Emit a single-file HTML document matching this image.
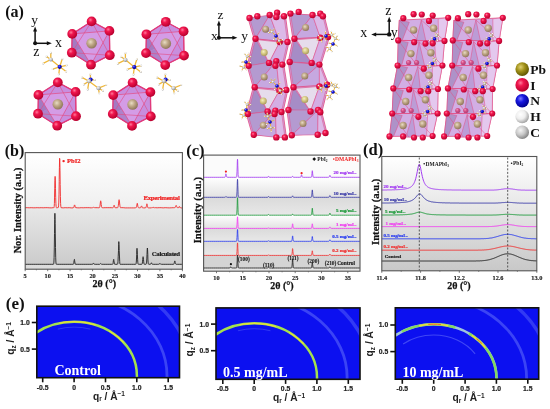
<!DOCTYPE html>
<html><head><meta charset="utf-8"><style>html,body{margin:0;padding:0;background:#fff;}svg{display:block;}</style></head>
<body><svg width="550" height="409" viewBox="0 0 550 409">
<rect width="550" height="409" fill="#fff"/>
<defs>
<linearGradient id="gb" x1="0" y1="0" x2="0" y2="1"><stop offset="0" stop-color="#ffffff"/><stop offset="0.45" stop-color="#f0f0f0"/><stop offset="0.5" stop-color="#e6e6e6"/><stop offset="1" stop-color="#c9c9c9"/></linearGradient>
<linearGradient id="gband" x1="0" y1="0" x2="0" y2="1"><stop offset="0" stop-color="#ffffff"/><stop offset="1" stop-color="#e2e2e2"/></linearGradient>
<linearGradient id="gband2" x1="0" y1="0" x2="0" y2="1"><stop offset="0" stop-color="#dadada"/><stop offset="1" stop-color="#e8e8e8"/></linearGradient>
<linearGradient id="gd" x1="0" y1="0" x2="0" y2="1"><stop offset="0" stop-color="#ffffff"/><stop offset="1" stop-color="#c8c8c8"/></linearGradient>

<radialGradient id="sR" cx="0.38" cy="0.35" r="0.65"><stop offset="0" stop-color="#ff7a9a"/><stop offset="0.35" stop-color="#f0164e"/><stop offset="1" stop-color="#b8002e"/></radialGradient>
<radialGradient id="sRb" cx="0.38" cy="0.35" r="0.65"><stop offset="0" stop-color="#f0a0c0"/><stop offset="0.4" stop-color="#d8508a"/><stop offset="1" stop-color="#b04078"/></radialGradient>
<radialGradient id="sT" cx="0.4" cy="0.38" r="0.65"><stop offset="0" stop-color="#e8dcc4"/><stop offset="0.45" stop-color="#c0a888"/><stop offset="1" stop-color="#8c7458"/></radialGradient>
<radialGradient id="sTy" cx="0.4" cy="0.38" r="0.65"><stop offset="0" stop-color="#f4f0c0"/><stop offset="0.45" stop-color="#d8cc88"/><stop offset="1" stop-color="#a89858"/></radialGradient>
<radialGradient id="sB" cx="0.38" cy="0.35" r="0.65"><stop offset="0" stop-color="#7a7aff"/><stop offset="0.4" stop-color="#1818e0"/><stop offset="1" stop-color="#000090"/></radialGradient>
<radialGradient id="sW" cx="0.38" cy="0.35" r="0.7"><stop offset="0" stop-color="#ffffff"/><stop offset="0.5" stop-color="#eeeeee"/><stop offset="1" stop-color="#9a9a9a"/></radialGradient>
<radialGradient id="sC" cx="0.38" cy="0.35" r="0.7"><stop offset="0" stop-color="#f4f4f4"/><stop offset="0.5" stop-color="#c8c8c8"/><stop offset="1" stop-color="#7c7c7c"/></radialGradient>
<radialGradient id="sP" cx="0.38" cy="0.35" r="0.7"><stop offset="0" stop-color="#e0d070"/><stop offset="0.45" stop-color="#a09018"/><stop offset="1" stop-color="#585000"/></radialGradient>

<filter id="soft" x="-10%" y="-10%" width="120%" height="120%"><feGaussianBlur stdDeviation="0.7"/></filter>
</defs>
<rect x="25.2" y="152.6" width="157.20000000000002" height="116.6" fill="url(#gb)"/>
<path d="M25.2,207.7 L27.2,207.7 L29.2,207.8 L31.2,207.7 L33.2,207.8 L35.2,207.8 L37.2,207.7 L39.2,207.8 L41.2,207.7 L43.2,207.8 L45.2,207.7 L47.2,207.7 L49.2,207.8 L51.2,207.9 L53.2,207.7 L53.6,207.7 L53.8,207.8 L54,207.6 L54.2,206.5 L54.4,203.6 L54.5,197.9 L54.7,188.8 L54.9,180.4 L55.1,176.4 L55.2,177.2 L55.3,180 L55.5,188.6 L55.7,197.6 L55.9,203.4 L56.1,206.4 L56.2,207.5 L56.4,207.7 L56.6,207.8 L57.2,207.7 L58,207.7 L58.2,207.6 L58.4,207.4 L58.6,205.9 L58.8,202.1 L59,194.2 L59.2,181.5 L59.2,179.3 L59.4,167.5 L59.6,158.3 L59.8,159.4 L60,170.2 L60.2,184.4 L60.4,196.4 L60.6,203.3 L60.8,206.3 L61,207.6 L61.2,207.6 L61.2,207.7 L63.2,207.9 L65.2,207.7 L67.2,207.8 L69.2,207.7 L71.2,207.9 L73,207.9 L73.2,207.8 L73.2,207.9 L73.4,207.7 L73.6,207.7 L73.8,207.4 L74,206.8 L74.2,205.9 L74.4,205.2 L74.6,204.9 L74.8,205.2 L75,206 L75.2,206.7 L75.2,206.9 L75.4,207.4 L75.6,207.8 L75.8,207.9 L76,207.7 L77.2,207.8 L79.2,207.9 L81.2,207.7 L83.2,207.8 L85.2,207.7 L87.2,207.7 L89.2,207.7 L91.2,207.9 L91.9,207.7 L92.1,207.7 L92.3,207.8 L92.5,207.9 L92.7,207.6 L92.9,207.5 L93.1,207.3 L93.2,207.3 L93.3,207.2 L93.5,207.1 L93.7,207 L93.9,207.3 L94.1,207.5 L94.3,207.8 L94.5,207.9 L94.7,207.7 L94.9,207.7 L95.2,207.7 L97.2,207.7 L98.9,207.8 L99.1,207.8 L99.2,207.7 L99.3,207.6 L99.5,207.6 L99.7,207.2 L99.9,206.4 L100.1,205 L100.3,203.1 L100.5,201.4 L100.7,200.8 L100.9,201.5 L101.1,203 L101.2,204.5 L101.3,205 L101.5,206.5 L101.7,207.3 L101.9,207.6 L102.1,207.7 L102.3,207.7 L103.2,207.8 L105.2,207.7 L107.2,207.7 L109.2,207.7 L111.2,207.7 L112.5,207.8 L112.7,207.7 L112.9,207.6 L113.1,207.6 L113.2,207.5 L113.3,207.4 L113.5,206.8 L113.7,206.4 L113.9,205.6 L114.1,205.2 L114.3,205.5 L114.5,206.2 L114.7,206.9 L114.9,207.3 L115.1,207.8 L115.2,207.9 L115.3,207.8 L115.5,207.8 L117.1,207.7 L117.2,207.7 L117.3,207.7 L117.5,207.7 L117.7,207.7 L117.9,207.3 L118.1,206.6 L118.3,205.7 L118.5,203.9 L118.7,201.9 L118.9,200.4 L119.1,199.7 L119.2,200.1 L119.3,200.6 L119.5,202.1 L119.7,204 L119.9,205.5 L120.1,206.7 L120.3,207.2 L120.5,207.7 L120.7,207.8 L120.9,207.9 L121.2,207.7 L123.2,207.7 L125.2,207.9 L127.2,207.9 L129.2,207.9 L131.2,207.9 L133.2,207.9 L135.2,207.9 L135.7,207.7 L135.9,207.8 L136.1,207.7 L136.3,207.5 L136.5,207.1 L136.7,206.3 L136.9,205 L137.1,203.9 L137.2,203.5 L137.3,203.3 L137.5,204 L137.7,205.2 L137.9,206.5 L138.1,207.1 L138.3,207.5 L138.5,207.7 L138.7,207.7 L138.9,207.7 L139.2,207.8 L139.9,207.9 L140.1,207.9 L140.3,207.8 L140.5,207.8 L140.7,207.6 L140.9,207 L141.1,206.6 L141.2,206.5 L141.3,206.1 L141.5,205.9 L141.7,206 L141.9,206.5 L142.1,207.2 L142.3,207.5 L142.5,207.8 L142.7,207.9 L142.9,207.8 L143.1,207.8 L143.2,207.9 L145.2,207.9 L145.3,207.7 L145.5,207.7 L145.7,207.7 L145.9,207.7 L146.1,207.3 L146.3,206.4 L146.5,205.5 L146.7,204.4 L146.9,203.8 L147.1,204.2 L147.2,204.7 L147.3,205.3 L147.5,206.4 L147.7,207.4 L147.9,207.7 L148.1,207.8 L148.3,207.9 L148.5,207.8 L149.2,207.9 L151.2,207.9 L151.6,207.7 L151.8,207.7 L152,207.7 L152.2,207.7 L152.4,207.7 L152.6,207.5 L152.8,207.3 L153,207 L153.2,207.1 L153.2,207 L153.4,207.1 L153.6,207.3 L153.8,207.7 L154,207.7 L154.2,207.9 L154.4,207.8 L154.6,207.8 L154.8,207.8 L155.2,207.7 L157.2,207.8 L159.2,207.7 L161.2,207.7 L163.2,207.9 L165.2,207.7 L167.2,207.8 L169.2,207.9 L171.2,207.8 L173.2,207.7 L174.1,207.8 L174.3,207.8 L174.5,207.9 L174.7,207.6 L174.9,207.7 L175.1,207.4 L175.2,207.3 L175.3,207.2 L175.5,206.6 L175.7,206 L175.9,205.6 L176.1,205.4 L176.3,205.5 L176.5,206 L176.7,206.6 L176.9,207.1 L177.1,207.5 L177.2,207.6 L177.3,207.7 L177.5,207.7 L177.7,207.9 L177.7,207.8 L177.9,207.9 L177.9,207.9 L178.1,207.7 L178.1,207.8 L178.3,207.9 L178.5,207.7 L178.7,207.3 L178.9,207 L179.1,206.7 L179.2,206.5 L179.3,206.5 L179.5,206.6 L179.7,207.1 L179.9,207.5 L180.1,207.8 L180.3,207.6 L180.5,207.9 L180.7,207.8 L180.9,207.7 L181.2,207.9 L182.4,207.9" fill="none" stroke="#f02828" stroke-width="0.9"/>
<rect x="25.2" y="264.6" width="157.2" height="4.6" fill="#dcdcdc"/>
<path d="M25.2,264.3 L27.2,264.3 L29.2,264.3 L31.2,264.3 L33.2,264.3 L35.2,264.3 L37.2,264.3 L39.2,264.3 L41.2,264.3 L43.2,264.3 L45.2,264.3 L47.2,264.3 L49.2,264.3 L51.2,264.3 L53.2,264.3 L53.3,264.3 L53.5,264.2 L53.7,263.7 L53.9,262.1 L54.1,257.5 L54.3,247.9 L54.5,233.6 L54.7,219.5 L54.9,213.3 L55.1,219.1 L55.2,223.5 L55.3,233.1 L55.5,247.5 L55.7,257.3 L55.9,262 L56.1,263.7 L56.3,264.2 L57.2,264.3 L59.2,264.3 L61.2,264.3 L63.2,264.3 L65.2,264.3 L67.2,264.3 L69.2,264.3 L71.2,264.3 L72.9,264.3 L73.1,264.3 L73.2,264.3 L73.2,264.3 L73.4,264.2 L73.6,263.9 L73.8,263.3 L73.9,262.1 L74.1,260.6 L74.3,259.5 L74.5,259.4 L74.6,260.4 L74.8,261.9 L75,263.1 L75.2,263.9 L75.2,264 L75.3,264.2 L75.5,264.3 L75.7,264.3 L75.9,264.3 L77.2,264.3 L79.2,264.3 L81.2,264.3 L83.2,264.3 L85.2,264.3 L87.2,264.3 L89.2,264.3 L91.2,264.3 L92,264.3 L92.1,264.3 L92.3,264.3 L92.5,264.3 L92.7,264.2 L92.8,264.1 L93,263.8 L93.2,263.4 L93.2,263.4 L93.4,263.1 L93.5,263.1 L93.7,263.4 L93.9,263.7 L94.1,264 L94.2,264.2 L94.4,264.3 L94.6,264.3 L94.8,264.3 L94.9,264.3 L95.2,264.3 L97.2,264.3 L99.2,264.3 L99.2,264.3 L99.3,264.3 L99.5,264.3 L99.7,264.3 L99.9,264.2 L100,264.1 L100.2,263.9 L100.4,263.7 L100.6,263.5 L100.7,263.5 L100.9,263.7 L101.1,263.9 L101.2,264.1 L101.3,264.1 L101.4,264.2 L101.6,264.3 L101.8,264.3 L102,264.3 L102.1,264.3 L103.2,264.3 L105.2,264.3 L107.2,264.3 L109.2,264.3 L111.2,264.3 L112.2,264.3 L112.4,264.3 L112.5,264.3 L112.7,264.2 L112.9,263.9 L113.1,263.3 L113.2,262.4 L113.2,262.1 L113.4,260.6 L113.6,259.5 L113.8,259.4 L113.9,260.4 L114.1,261.9 L114.3,263.1 L114.5,263.9 L114.6,264.2 L114.8,264.3 L115,264.3 L115.2,264.3 L115.2,264.3 L117.2,264.3 L117.2,264.3 L117.5,264.2 L117.7,264 L117.8,263.3 L118,261.2 L118.2,256.8 L118.5,250.4 L118.7,244.2 L118.8,241.6 L119,244.4 L119.2,248.9 L119.2,250.7 L119.5,257 L119.7,261.3 L119.8,263.3 L120,264.1 L120.2,264.3 L121.2,264.3 L123.2,264.3 L125.2,264.3 L127.2,264.3 L129.2,264.3 L131.2,264.3 L133.2,264.3 L135.2,264.3 L135.5,264.3 L135.7,264.3 L135.9,264.1 L136.1,263.6 L136.3,262.1 L136.5,259 L136.7,254.5 L136.8,250.1 L137,248.3 L137.2,249.7 L137.2,250.2 L137.4,254.7 L137.6,259.2 L137.8,262.2 L138,263.6 L138.2,264.1 L138.4,264.3 L138.6,264.3 L139.2,264.3 L141.2,264.3 L141.6,264.3 L141.8,264.3 L142,264.2 L142.2,264 L142.3,263.3 L142.5,261.8 L142.7,259.7 L142.9,257.6 L143.1,256.7 L143.2,257 L143.3,257.6 L143.5,259.7 L143.7,261.8 L143.9,263.3 L144.1,264 L144.2,264.2 L144.4,264.3 L144.6,264.3 L145.2,264.3 L145.8,264.3 L146,264.3 L146.2,264.1 L146.4,263.6 L146.6,262.1 L146.8,258.9 L147,254.3 L147.2,249.9 L147.2,249.5 L147.4,248 L147.6,250 L147.8,254.5 L147.9,259.1 L148.1,262.1 L148.3,263.6 L148.5,264.1 L148.7,264.3 L148.9,264.3 L149.2,264.3 L149.9,264.3 L150.1,264.3 L150.3,264.3 L150.4,264.3 L150.6,264.2 L150.8,264 L151,263.6 L151.1,263.2 L151.2,263 L151.3,262.9 L151.5,262.8 L151.7,263.1 L151.8,263.6 L152,264 L152.2,264.2 L152.4,264.3 L152.5,264.3 L152.7,264.3 L152.9,264.3 L153.2,264.3 L155.2,264.3 L157.2,264.3 L158.4,264.3 L158.6,264.3 L158.8,264.3 L159,264.3 L159.1,264.2 L159.2,264.2 L159.3,264.1 L159.5,264 L159.7,263.7 L159.8,263.5 L160,263.5 L160.2,263.7 L160.4,263.9 L160.5,264.1 L160.7,264.2 L160.9,264.3 L161.1,264.3 L161.2,264.3 L161.2,264.3 L161.4,264.3 L163.2,264.3 L165.2,264.3 L167.2,264.3 L169.2,264.3 L171.2,264.3 L173.2,264.3 L173.2,264.3 L173.4,264.3 L173.6,264.3 L173.8,264.2 L174,263.9 L174.2,263.2 L174.4,262.3 L174.6,261.3 L174.8,260.9 L175,261.3 L175.2,262.2 L175.2,262.4 L175.4,263.2 L175.6,263.8 L175.8,264.1 L176,264.3 L176.2,264.3 L176.4,264.3 L177.2,264.3 L179.2,264.3 L181.2,264.3 L182.4,264.3" fill="none" stroke="#222" stroke-width="0.9"/>
<rect x="25.2" y="152.6" width="157.20000000000002" height="116.6" fill="none" stroke="#555" stroke-width="1.1"/>
<line x1="25.2" y1="269.2" x2="25.2" y2="271.2" stroke="#555" stroke-width="0.8"/>
<text x="25.2" y="278.4" font-family="Liberation Serif, serif" font-weight="bold" font-size="6.3" text-anchor="middle" fill="#222" stroke="#222" stroke-width="0.15">5</text>
<line x1="36.4" y1="269.2" x2="36.4" y2="270.4" stroke="#555" stroke-width="0.6"/>
<line x1="47.7" y1="269.2" x2="47.7" y2="271.2" stroke="#555" stroke-width="0.8"/>
<text x="47.7" y="278.4" font-family="Liberation Serif, serif" font-weight="bold" font-size="6.3" text-anchor="middle" fill="#222" stroke="#222" stroke-width="0.15">10</text>
<line x1="58.9" y1="269.2" x2="58.9" y2="270.4" stroke="#555" stroke-width="0.6"/>
<line x1="70.1" y1="269.2" x2="70.1" y2="271.2" stroke="#555" stroke-width="0.8"/>
<text x="70.1" y="278.4" font-family="Liberation Serif, serif" font-weight="bold" font-size="6.3" text-anchor="middle" fill="#222" stroke="#222" stroke-width="0.15">15</text>
<line x1="81.3" y1="269.2" x2="81.3" y2="270.4" stroke="#555" stroke-width="0.6"/>
<line x1="92.6" y1="269.2" x2="92.6" y2="271.2" stroke="#555" stroke-width="0.8"/>
<text x="92.6" y="278.4" font-family="Liberation Serif, serif" font-weight="bold" font-size="6.3" text-anchor="middle" fill="#222" stroke="#222" stroke-width="0.15">20</text>
<line x1="103.8" y1="269.2" x2="103.8" y2="270.4" stroke="#555" stroke-width="0.6"/>
<line x1="115" y1="269.2" x2="115" y2="271.2" stroke="#555" stroke-width="0.8"/>
<text x="115" y="278.4" font-family="Liberation Serif, serif" font-weight="bold" font-size="6.3" text-anchor="middle" fill="#222" stroke="#222" stroke-width="0.15">25</text>
<line x1="126.3" y1="269.2" x2="126.3" y2="270.4" stroke="#555" stroke-width="0.6"/>
<line x1="137.5" y1="269.2" x2="137.5" y2="271.2" stroke="#555" stroke-width="0.8"/>
<text x="137.5" y="278.4" font-family="Liberation Serif, serif" font-weight="bold" font-size="6.3" text-anchor="middle" fill="#222" stroke="#222" stroke-width="0.15">30</text>
<line x1="148.7" y1="269.2" x2="148.7" y2="270.4" stroke="#555" stroke-width="0.6"/>
<line x1="159.9" y1="269.2" x2="159.9" y2="271.2" stroke="#555" stroke-width="0.8"/>
<text x="159.9" y="278.4" font-family="Liberation Serif, serif" font-weight="bold" font-size="6.3" text-anchor="middle" fill="#222" stroke="#222" stroke-width="0.15">35</text>
<line x1="171.2" y1="269.2" x2="171.2" y2="270.4" stroke="#555" stroke-width="0.6"/>
<line x1="182.4" y1="269.2" x2="182.4" y2="271.2" stroke="#555" stroke-width="0.8"/>
<text x="182.4" y="278.4" font-family="Liberation Serif, serif" font-weight="bold" font-size="6.3" text-anchor="middle" fill="#222" stroke="#222" stroke-width="0.15">40</text>
<text x="104.3" y="287.4" font-family="Liberation Serif, serif" font-weight="bold" font-size="10" text-anchor="middle" fill="#111" stroke="#111" stroke-width="0.25">2θ (°)</text>
<text transform="translate(21.3,210.5) rotate(-90)" font-family="Liberation Serif, serif" font-weight="bold" font-size="10.3" text-anchor="middle" fill="#111" stroke="#111" stroke-width="0.25">Nor. Intensity (a.u.)</text>
<text x="4.7" y="156" font-family="Liberation Serif, serif" font-weight="bold" font-size="16" fill="#111">(b)</text>
<circle cx="63.6" cy="161.1" r="1.2" fill="#f02020"/>
<text x="67" y="162.8" font-family="Liberation Serif, serif" font-weight="bold" font-size="6.6" fill="#f02020" stroke="#f02020" stroke-width="0.2">PbI2</text>
<text x="143.4" y="199.6" font-family="Liberation Serif, serif" font-weight="bold" font-size="6.8" fill="#f02020" stroke="#f02020" stroke-width="0.2" textLength="36.4">Experimental</text>
<text x="151.8" y="255.6" font-family="Liberation Serif, serif" font-weight="bold" font-size="6.8" fill="#222" stroke="#222" stroke-width="0.2" textLength="28.2">Calculated</text>
<rect x="203.6" y="155.1" width="156.4" height="116.1" fill="#e4e4e4"/>
<rect x="203.6" y="155.1" width="156.4" height="22.2" fill="#fbfbfb"/>
<rect x="203.6" y="177.3" width="156.4" height="20" fill="url(#gband)"/>
<rect x="203.6" y="197.3" width="156.4" height="17.9" fill="url(#gband2)"/>
<rect x="203.6" y="215.2" width="156.4" height="13.2" fill="url(#gband)"/>
<rect x="203.6" y="228.4" width="156.4" height="12.9" fill="url(#gband2)"/>
<rect x="203.6" y="241.3" width="156.4" height="14.1" fill="url(#gband2)"/>
<rect x="203.6" y="255.4" width="156.4" height="12.6" fill="#d4d4d4"/>
<rect x="203.6" y="268" width="156.4" height="3.2" fill="#e4e4e4"/>
<path d="M203.6,177.3 L205.6,177.3 L207.6,177.3 L209.6,177.3 L211.6,177.3 L213.6,177.3 L215.6,177.3 L217.6,177.3 L219.6,177.3 L221.6,177.3 L223.6,177.3 L224.4,177.3 L224.6,177.3 L224.8,177.3 L225,177.2 L225.2,177 L225.3,176.6 L225.5,175.8 L225.6,175.2 L225.7,174.7 L225.8,173.9 L226,173.9 L226.2,174.6 L226.4,175.7 L226.6,176.5 L226.7,177 L226.9,177.2 L227.1,177.3 L227.2,177.3 L227.4,177.3 L227.6,177.3 L229.6,177.3 L231.6,177.3 L233.6,177.3 L235.6,177.3 L236,177.3 L236.2,177.3 L236.3,177.3 L236.5,177.1 L236.7,176.6 L236.8,175.1 L237,171.8 L237.2,167 L237.3,161.8 L237.5,159.3 L237.6,160.1 L237.7,161.1 L237.8,165.7 L238,171.1 L238.1,174.6 L238.3,176.4 L238.5,177.1 L238.6,177.3 L238.8,177.3 L239,177.3 L239.6,177.3 L241.6,177.3 L243.6,177.3 L245.6,177.3 L247.6,177.3 L249.6,177.3 L251.6,177.3 L253.6,177.3 L255.6,177.3 L257.6,177.3 L259.6,177.3 L261.6,177.3 L263.6,177.3 L265.6,177.3 L267,177.3 L267.1,177.3 L267.3,177.3 L267.4,177.3 L267.6,177.3 L267.6,177.3 L267.7,177.3 L267.9,177.2 L268,177 L268.2,176.7 L268.3,176.4 L268.5,176.3 L268.6,176.4 L268.8,176.7 L268.9,177 L269.1,177.2 L269.2,177.3 L269.4,177.3 L269.5,177.3 L269.6,177.3 L269.7,177.3 L269.8,177.3 L270,177.3 L271.6,177.3 L273.6,177.3 L275.6,177.3 L277.6,177.3 L279.6,177.3 L281.6,177.3 L283.6,177.3 L285.6,177.3 L287.6,177.3 L289.6,177.3 L291.1,177.3 L291.3,177.3 L291.5,177.3 L291.6,177.3 L291.6,177.3 L291.8,177.3 L291.9,177.2 L292.1,177 L292.3,176.7 L292.4,176.4 L292.6,176.3 L292.8,176.4 L292.9,176.7 L293.1,177 L293.3,177.2 L293.4,177.3 L293.6,177.3 L293.8,177.3 L293.9,177.3 L294.1,177.3 L295.6,177.3 L297.6,177.3 L299.6,177.3 L300.1,177.3 L300.2,177.3 L300.4,177.3 L300.6,177.2 L300.8,177.1 L300.9,176.8 L301.1,176.2 L301.3,175.4 L301.4,174.9 L301.6,174.8 L301.6,174.9 L301.8,175.4 L302,176.1 L302.1,176.7 L302.3,177.1 L302.5,177.2 L302.7,177.3 L302.9,177.3 L303,177.3 L303.6,177.3 L305.6,177.3 L307.6,177.3 L309.6,177.3 L310.8,177.3 L311,177.3 L311.1,177.3 L311.3,177.2 L311.5,177 L311.6,176.7 L311.6,176.5 L311.8,175.3 L312,173.4 L312.1,171.6 L312.3,170.7 L312.5,171.3 L312.6,173.1 L312.8,175 L313,176.3 L313.1,177 L313.3,177.2 L313.4,177.3 L313.6,177.3 L313.6,177.3 L313.8,177.3 L315.6,177.3 L317.6,177.3 L319.6,177.3 L321.6,177.3 L323.6,177.3 L325.6,177.3 L327.6,177.3 L328.3,177.3 L328.5,177.3 L328.7,177.3 L328.9,177.2 L329.1,177 L329.3,176.7 L329.5,176.1 L329.6,175.8 L329.7,175.5 L329.9,175.3 L330.1,175.5 L330.3,176.1 L330.5,176.7 L330.7,177 L330.9,177.2 L331.1,177.3 L331.3,177.3 L331.5,177.3 L331.6,177.3 L333.6,177.3 L335.6,177.3 L337.6,177.3 L339.6,177.3 L341.6,177.3 L343.6,177.3 L345.6,177.3 L347.6,177.3 L349.6,177.3 L351.6,177.3 L353.6,177.3 L355.6,177.3 L357.6,177.3 L359.6,177.3 L360,177.3" fill="none" stroke="#a33cf2" stroke-width="0.85"/>
<path d="M203.6,197.3 L205.6,197.3 L207.6,197.3 L209.6,197.3 L211.6,197.3 L213.6,197.3 L215.6,197.3 L217.6,197.3 L219.6,197.3 L221.6,197.3 L223.6,197.3 L224.3,197.3 L224.6,197.3 L224.8,197.3 L224.9,197.3 L225.2,197.2 L225.3,197 L225.6,196.8 L225.6,196.8 L225.8,196.6 L225.9,196.5 L226.2,196.6 L226.3,196.8 L226.6,197 L226.8,197.2 L226.9,197.3 L227.2,197.3 L227.3,197.3 L227.6,197.3 L227.6,197.3 L229.6,197.3 L231.6,197.3 L233.6,197.3 L235.6,197.3 L236,197.3 L236.2,197.3 L236.3,197.3 L236.5,197.1 L236.7,196.6 L236.8,195.1 L237,191.8 L237.2,187 L237.3,181.8 L237.5,179.3 L237.6,180.1 L237.7,181.1 L237.8,185.7 L238,191.1 L238.1,194.6 L238.3,196.4 L238.5,197.1 L238.6,197.3 L238.8,197.3 L239,197.3 L239.6,197.3 L241.6,197.3 L243.6,197.3 L245.6,197.3 L247.6,197.3 L249.6,197.3 L251.6,197.3 L253.6,197.3 L255.6,197.3 L257.6,197.3 L259.6,197.3 L261.6,197.3 L263.6,197.3 L265.6,197.3 L267,197.3 L267.1,197.3 L267.3,197.3 L267.4,197.3 L267.6,197.3 L267.6,197.3 L267.7,197.3 L267.9,197.2 L268,197 L268.2,196.8 L268.3,196.6 L268.5,196.5 L268.6,196.6 L268.8,196.8 L268.9,197 L269.1,197.2 L269.2,197.3 L269.4,197.3 L269.5,197.3 L269.6,197.3 L269.7,197.3 L269.8,197.3 L270,197.3 L271.6,197.3 L273.6,197.3 L275.6,197.3 L277.6,197.3 L279.6,197.3 L281.6,197.3 L283.6,197.3 L285.6,197.3 L287.6,197.3 L289.6,197.3 L291.1,197.3 L291.3,197.3 L291.5,197.3 L291.6,197.3 L291.6,197.3 L291.8,197.2 L291.9,197.1 L292.1,196.8 L292.3,196.4 L292.4,196 L292.6,195.8 L292.8,196 L292.9,196.3 L293.1,196.8 L293.3,197.1 L293.4,197.2 L293.6,197.3 L293.8,197.3 L293.9,197.3 L294.1,197.3 L295.6,197.3 L297.6,197.3 L299.6,197.3 L301.6,197.3 L303.6,197.3 L305.6,197.3 L307.6,197.3 L309.6,197.3 L310.8,197.3 L311,197.3 L311.1,197.3 L311.3,197.2 L311.5,197 L311.6,196.6 L311.6,196.4 L311.8,195.1 L312,193 L312.1,190.9 L312.3,189.9 L312.5,190.6 L312.6,192.6 L312.8,194.7 L313,196.2 L313.1,196.9 L313.3,197.2 L313.4,197.3 L313.6,197.3 L313.6,197.3 L313.8,197.3 L315.6,197.3 L317.6,197.3 L319.6,197.3 L321.6,197.3 L323.6,197.3 L325.6,197.3 L327.6,197.3 L328.3,197.3 L328.5,197.3 L328.7,197.3 L328.9,197.2 L329.1,197.1 L329.3,196.7 L329.5,196.2 L329.6,195.9 L329.7,195.7 L329.9,195.5 L330.1,195.7 L330.3,196.2 L330.5,196.7 L330.7,197.1 L330.9,197.2 L331.1,197.3 L331.3,197.3 L331.5,197.3 L331.6,197.3 L333.6,197.3 L335.6,197.3 L337.6,197.3 L339.6,197.3 L341.6,197.3 L343.6,197.3 L345.6,197.3 L347.6,197.3 L349.6,197.3 L351.6,197.3 L353.6,197.3 L355.6,197.3 L357.6,197.3 L359.6,197.3 L360,197.3" fill="none" stroke="#3c3ca8" stroke-width="0.85"/>
<path d="M203.6,215.2 L205.6,215.2 L207.6,215.2 L209.6,215.2 L211.6,215.2 L213.6,215.2 L215.6,215.2 L217.6,215.2 L219.6,215.2 L221.6,215.2 L223.6,215.2 L225.6,215.2 L227.6,215.2 L229.6,215.2 L231.6,215.2 L233.6,215.2 L235.6,215.2 L236,215.2 L236.2,215.2 L236.3,215.2 L236.5,215 L236.7,214.5 L236.8,213.1 L237,209.9 L237.2,205.2 L237.3,200.1 L237.5,197.7 L237.6,198.5 L237.7,199.4 L237.8,203.9 L238,209.1 L238.1,212.5 L238.3,214.3 L238.5,215 L238.6,215.2 L238.8,215.2 L239,215.2 L239.6,215.2 L241.6,215.2 L243.6,215.2 L245.6,215.2 L247.6,215.2 L249.6,215.2 L251.6,215.2 L253.6,215.2 L255.6,215.2 L257.6,215.2 L259.6,215.2 L261.6,215.2 L263.6,215.2 L265.6,215.2 L267,215.2 L267.1,215.2 L267.3,215.2 L267.4,215.2 L267.6,215.2 L267.6,215.2 L267.7,215.2 L267.9,215.1 L268,214.9 L268.2,214.7 L268.3,214.5 L268.5,214.4 L268.6,214.5 L268.8,214.7 L268.9,214.9 L269.1,215.1 L269.2,215.2 L269.4,215.2 L269.5,215.2 L269.6,215.2 L269.7,215.2 L269.8,215.2 L270,215.2 L271.6,215.2 L273.6,215.2 L275.6,215.2 L277.6,215.2 L279.6,215.2 L281.6,215.2 L283.6,215.2 L285.6,215.2 L287.6,215.2 L289.6,215.2 L291.1,215.2 L291.3,215.2 L291.5,215.2 L291.6,215.2 L291.6,215.2 L291.8,215.2 L291.9,215.1 L292.1,214.8 L292.3,214.5 L292.4,214.2 L292.6,214 L292.8,214.1 L292.9,214.4 L293.1,214.8 L293.3,215 L293.4,215.1 L293.6,215.2 L293.8,215.2 L293.9,215.2 L294.1,215.2 L295.6,215.2 L297.6,215.2 L299.6,215.2 L301.6,215.2 L303.6,215.2 L305.6,215.2 L307.6,215.2 L309.6,215.2 L310.8,215.2 L311,215.2 L311.1,215.2 L311.3,215.1 L311.5,214.9 L311.6,214.5 L311.6,214.3 L311.8,213.1 L312,211.1 L312.1,209.2 L312.3,208.2 L312.5,208.9 L312.6,210.8 L312.8,212.7 L313,214.2 L313.1,214.8 L313.3,215.1 L313.4,215.2 L313.6,215.2 L313.6,215.2 L313.8,215.2 L315.6,215.2 L317.6,215.2 L319.6,215.2 L321.6,215.2 L323.6,215.2 L325.6,215.2 L327.6,215.2 L328.3,215.2 L328.5,215.2 L328.7,215.2 L328.9,215.1 L329.1,214.9 L329.3,214.5 L329.5,213.9 L329.6,213.5 L329.7,213.3 L329.9,213 L330.1,213.3 L330.3,213.9 L330.5,214.5 L330.7,214.9 L330.9,215.1 L331.1,215.2 L331.3,215.2 L331.5,215.2 L331.6,215.2 L333.6,215.2 L335.6,215.2 L337.6,215.2 L339.6,215.2 L341.6,215.2 L343.6,215.2 L345.6,215.2 L347.6,215.2 L349.6,215.2 L351.6,215.2 L353.6,215.2 L355.6,215.2 L357.6,215.2 L359.6,215.2 L360,215.2" fill="none" stroke="#1f9b3c" stroke-width="0.85"/>
<path d="M203.6,228.4 L205.6,228.4 L207.6,228.4 L209.6,228.4 L211.6,228.4 L213.6,228.4 L215.6,228.4 L217.6,228.4 L219.6,228.4 L221.6,228.4 L223.6,228.4 L225.6,228.4 L227.6,228.4 L229.6,228.4 L231.6,228.4 L233.6,228.4 L235.6,228.4 L236,228.4 L236.2,228.4 L236.3,228.4 L236.5,228.3 L236.7,227.9 L236.8,227 L237,224.9 L237.2,221.8 L237.3,218.4 L237.5,216.8 L237.6,217.3 L237.7,217.9 L237.8,220.9 L238,224.4 L238.1,226.6 L238.3,227.8 L238.5,228.2 L238.6,228.4 L238.8,228.4 L239,228.4 L239.6,228.4 L241.6,228.4 L243.6,228.4 L245.6,228.4 L247.6,228.4 L249.6,228.4 L251.6,228.4 L253.6,228.4 L255.6,228.4 L257.6,228.4 L259.6,228.4 L261.6,228.4 L263.6,228.4 L265.6,228.4 L267,228.4 L267.1,228.4 L267.3,228.4 L267.4,228.4 L267.6,228.4 L267.6,228.4 L267.7,228.4 L267.9,228.3 L268,228.2 L268.2,228.1 L268.3,228 L268.5,227.9 L268.6,228 L268.8,228.1 L268.9,228.2 L269.1,228.3 L269.2,228.4 L269.4,228.4 L269.5,228.4 L269.6,228.4 L269.7,228.4 L269.8,228.4 L270,228.4 L271.6,228.4 L273.6,228.4 L275.6,228.4 L277.6,228.4 L279.6,228.4 L281.6,228.4 L283.6,228.4 L285.6,228.4 L287.6,228.4 L289.6,228.4 L291.1,228.4 L291.3,228.4 L291.5,228.4 L291.6,228.4 L291.6,228.4 L291.8,228.2 L291.9,227.8 L292.1,227 L292.3,225.7 L292.4,224.4 L292.6,223.8 L292.8,224.3 L292.9,225.5 L293.1,226.8 L293.3,227.7 L293.4,228.2 L293.6,228.3 L293.8,228.4 L293.9,228.4 L294.1,228.4 L295.6,228.4 L297.6,228.4 L299.6,228.4 L301.6,228.4 L303.6,228.4 L305.6,228.4 L307.6,228.4 L309.6,228.4 L310.8,228.4 L311,228.4 L311.1,228.4 L311.3,228.4 L311.5,228.2 L311.6,228 L311.6,227.8 L311.8,227 L312,225.7 L312.1,224.5 L312.3,223.8 L312.5,224.2 L312.6,225.5 L312.8,226.8 L313,227.7 L313.1,228.2 L313.3,228.3 L313.4,228.4 L313.6,228.4 L313.6,228.4 L313.8,228.4 L315.6,228.4 L317.6,228.4 L319.6,228.4 L321.6,228.4 L323.6,228.4 L325.6,228.4 L327.6,228.4 L328.3,228.4 L328.5,228.4 L328.7,228.4 L328.9,228.3 L329.1,228.2 L329.3,227.9 L329.5,227.5 L329.6,227.3 L329.7,227.1 L329.9,226.9 L330.1,227.1 L330.3,227.5 L330.5,227.9 L330.7,228.2 L330.9,228.3 L331.1,228.4 L331.3,228.4 L331.5,228.4 L331.6,228.4 L333.6,228.4 L335.6,228.4 L337.6,228.4 L339.6,228.4 L341.6,228.4 L343.6,228.4 L345.6,228.4 L347.6,228.4 L349.6,228.4 L351.6,228.4 L353.6,228.4 L355.6,228.4 L357.6,228.4 L359.6,228.4 L360,228.4" fill="none" stroke="#f03cf0" stroke-width="0.85"/>
<path d="M203.6,241.3 L205.6,241.3 L207.6,241.3 L209.6,241.3 L211.6,241.3 L213.6,241.3 L215.6,241.3 L217.6,241.3 L219.6,241.3 L221.6,241.3 L223.6,241.3 L225.6,241.3 L227.6,241.3 L229.6,241.3 L231.6,241.3 L233.6,241.3 L235.6,241.3 L236,241.3 L236.2,241.3 L236.3,241.3 L236.5,241.2 L236.7,240.8 L236.8,239.9 L237,237.7 L237.2,234.6 L237.3,231.1 L237.5,229.5 L237.6,230 L237.7,230.7 L237.8,233.7 L238,237.2 L238.1,239.5 L238.3,240.7 L238.5,241.1 L238.6,241.3 L238.8,241.3 L239,241.3 L239.6,241.3 L241.6,241.3 L243.6,241.3 L245.6,241.3 L247.6,241.3 L249.6,241.3 L251.6,241.3 L253.6,241.3 L255.6,241.3 L257.6,241.3 L259.6,241.3 L261.6,241.3 L263.6,241.3 L265.6,241.3 L267,241.3 L267.1,241.3 L267.3,241.3 L267.4,241.3 L267.6,241.3 L267.6,241.3 L267.7,241.3 L267.9,241.2 L268,241.1 L268.2,240.9 L268.3,240.8 L268.5,240.7 L268.6,240.8 L268.8,240.9 L268.9,241.1 L269.1,241.2 L269.2,241.3 L269.4,241.3 L269.5,241.3 L269.6,241.3 L269.7,241.3 L269.8,241.3 L270,241.3 L271.6,241.3 L273.6,241.3 L275.6,241.3 L277.6,241.3 L279.6,241.3 L281.6,241.3 L283.6,241.3 L285.6,241.3 L287.6,241.3 L289.6,241.3 L291.1,241.3 L291.3,241.3 L291.5,241.3 L291.6,241.3 L291.6,241.2 L291.8,241.1 L291.9,240.6 L292.1,239.6 L292.3,238.2 L292.4,236.6 L292.6,235.9 L292.8,236.5 L292.9,237.9 L293.1,239.5 L293.3,240.5 L293.4,241 L293.6,241.2 L293.8,241.3 L293.9,241.3 L294.1,241.3 L295.6,241.3 L297.6,241.3 L299.6,241.3 L301.6,241.3 L303.6,241.3 L305.6,241.3 L307.6,241.3 L309.6,241.3 L310.8,241.3 L311,241.3 L311.1,241.3 L311.3,241.3 L311.5,241.1 L311.6,240.8 L311.6,240.7 L311.8,239.9 L312,238.5 L312.1,237.2 L312.3,236.5 L312.5,237 L312.6,238.3 L312.8,239.6 L313,240.6 L313.1,241.1 L313.3,241.2 L313.4,241.3 L313.6,241.3 L313.6,241.3 L313.8,241.3 L315.6,241.3 L317.6,241.3 L319.6,241.3 L321.6,241.3 L323.6,241.3 L325.6,241.3 L327.6,241.3 L328.3,241.3 L328.5,241.3 L328.7,241.3 L328.9,241.2 L329.1,241.1 L329.3,240.8 L329.5,240.4 L329.6,240.2 L329.7,240 L329.9,239.8 L330.1,240 L330.3,240.4 L330.5,240.8 L330.7,241.1 L330.9,241.2 L331.1,241.3 L331.3,241.3 L331.5,241.3 L331.6,241.3 L333.6,241.3 L335.6,241.3 L337.6,241.3 L339.6,241.3 L341.6,241.3 L343.6,241.3 L345.6,241.3 L347.6,241.3 L349.6,241.3 L351.6,241.3 L353.6,241.3 L355.6,241.3 L357.6,241.3 L359.6,241.3 L360,241.3" fill="none" stroke="#2a3cf0" stroke-width="0.85"/>
<path d="M203.6,255.4 L205.6,255.4 L207.6,255.4 L209.6,255.4 L211.6,255.4 L213.6,255.4 L215.6,255.4 L217.6,255.4 L219.6,255.4 L221.6,255.4 L223.6,255.4 L225.6,255.4 L227.6,255.4 L229.6,255.4 L231.6,255.4 L233.6,255.4 L235.6,255.4 L236,255.4 L236.2,255.4 L236.3,255.4 L236.5,255.3 L236.7,254.9 L236.8,253.9 L237,251.6 L237.2,248.3 L237.3,244.6 L237.5,242.9 L237.6,243.5 L237.7,244.1 L237.8,247.4 L238,251.1 L238.1,253.5 L238.3,254.8 L238.5,255.2 L238.6,255.4 L238.8,255.4 L239,255.4 L239.6,255.4 L241.6,255.4 L243.6,255.4 L245.6,255.4 L247.6,255.4 L249.6,255.4 L251.6,255.4 L253.6,255.4 L255.6,255.4 L257.6,255.4 L259.6,255.4 L261.6,255.4 L263.6,255.4 L265.6,255.4 L267,255.4 L267.1,255.4 L267.3,255.4 L267.4,255.4 L267.6,255.4 L267.6,255.4 L267.7,255.4 L267.9,255.3 L268,255.2 L268.2,255 L268.3,254.9 L268.5,254.8 L268.6,254.9 L268.8,255 L268.9,255.2 L269.1,255.3 L269.2,255.4 L269.4,255.4 L269.5,255.4 L269.6,255.4 L269.7,255.4 L269.8,255.4 L270,255.4 L271.6,255.4 L273.6,255.4 L275.6,255.4 L277.6,255.4 L279.6,255.4 L281.6,255.4 L283.6,255.4 L285.6,255.4 L287.6,255.4 L289.6,255.4 L291.1,255.4 L291.3,255.4 L291.5,255.4 L291.6,255.3 L291.6,255.3 L291.8,255.1 L291.9,254.6 L292.1,253.3 L292.3,251.5 L292.4,249.5 L292.6,248.6 L292.8,249.3 L292.9,251.1 L293.1,253.1 L293.3,254.4 L293.4,255.1 L293.6,255.3 L293.8,255.4 L293.9,255.4 L294.1,255.4 L295.6,255.4 L297.6,255.4 L299.6,255.4 L301.6,255.4 L303.6,255.4 L305.6,255.4 L307.6,255.4 L309.6,255.4 L310.8,255.4 L311,255.4 L311.1,255.4 L311.3,255.4 L311.5,255.2 L311.6,255 L311.6,254.8 L311.8,254 L312,252.7 L312.1,251.5 L312.3,250.8 L312.5,251.2 L312.6,252.5 L312.8,253.8 L313,254.7 L313.1,255.2 L313.3,255.3 L313.4,255.4 L313.6,255.4 L313.6,255.4 L313.8,255.4 L315.6,255.4 L317.6,255.4 L319.6,255.4 L321.6,255.4 L323.6,255.4 L325.6,255.4 L327.6,255.4 L328.3,255.4 L328.5,255.4 L328.7,255.4 L328.9,255.3 L329.1,255.2 L329.3,255 L329.5,254.6 L329.6,254.4 L329.7,254.3 L329.9,254.1 L330.1,254.3 L330.3,254.6 L330.5,255 L330.7,255.2 L330.9,255.3 L331.1,255.4 L331.3,255.4 L331.5,255.4 L331.6,255.4 L333.6,255.4 L335.6,255.4 L337.6,255.4 L339.6,255.4 L341.6,255.4 L343.6,255.4 L345.6,255.4 L347.6,255.4 L349.6,255.4 L351.6,255.4 L353.6,255.4 L355.6,255.4 L357.6,255.4 L359.6,255.4 L360,255.4" fill="none" stroke="#f03232" stroke-width="0.85"/>
<path d="M203.6,268 L205.6,268 L207.6,268 L209.6,268 L211.6,268 L213.6,268 L215.6,268 L217.6,268 L219.6,268 L221.6,268 L223.6,268 L225.6,268 L227.6,268 L229.1,268 L229.3,268 L229.5,268 L229.6,268 L229.7,267.9 L229.9,267.8 L230.1,267.6 L230.3,267.3 L230.5,266.9 L230.7,266.8 L230.9,266.9 L231.1,267.3 L231.3,267.6 L231.5,267.8 L231.6,267.9 L231.7,267.9 L231.9,268 L232.1,268 L232.3,268 L233.6,268 L235.6,268 L236,268 L236.2,268 L236.3,268 L236.5,267.9 L236.7,267.5 L236.8,266.4 L237,264.1 L237.2,260.6 L237.3,256.8 L237.5,255 L237.6,255.6 L237.7,256.3 L237.8,259.6 L238,263.5 L238.1,266 L238.3,267.4 L238.5,267.8 L238.6,268 L238.8,268 L239,268 L239.6,268 L241.6,268 L243.6,268 L245.6,268 L247.6,268 L249.6,268 L251.6,268 L253.6,268 L255.6,268 L257.6,268 L259.6,268 L261.6,268 L263.6,268 L265.6,268 L267,268 L267.1,268 L267.3,268 L267.4,268 L267.6,268 L267.6,268 L267.7,268 L267.9,267.9 L268,267.7 L268.2,267.5 L268.3,267.3 L268.5,267.2 L268.6,267.3 L268.8,267.5 L268.9,267.7 L269.1,267.9 L269.2,268 L269.4,268 L269.5,268 L269.6,268 L269.7,268 L269.8,268 L270,268 L271.6,268 L273.6,268 L275.6,268 L277.6,268 L279.6,268 L281.6,268 L283.6,268 L285.6,268 L287.6,268 L289.6,268 L291.1,268 L291.3,268 L291.5,268 L291.6,267.9 L291.6,267.9 L291.8,267.6 L291.9,266.9 L292.1,265.1 L292.3,262.7 L292.4,260 L292.6,258.8 L292.8,259.8 L292.9,262.2 L293.1,264.9 L293.3,266.6 L293.4,267.6 L293.6,267.9 L293.8,268 L293.9,268 L294.1,268 L295.6,268 L297.6,268 L299.6,268 L301.6,268 L303.6,268 L305.6,268 L307.6,268 L309.6,268 L310.8,268 L311,268 L311.1,268 L311.3,267.9 L311.5,267.8 L311.6,267.4 L311.6,267.2 L311.8,266.2 L312,264.5 L312.1,262.9 L312.3,262 L312.5,262.6 L312.6,264.2 L312.8,265.9 L313,267.1 L313.1,267.7 L313.3,267.9 L313.4,268 L313.6,268 L313.6,268 L313.8,268 L315.6,268 L317.6,268 L319.6,268 L321.6,268 L323.6,268 L325.6,268 L327.6,268 L328.3,268 L328.5,268 L328.7,268 L328.9,267.9 L329.1,267.8 L329.3,267.6 L329.5,267.3 L329.6,267.1 L329.7,266.9 L329.9,266.8 L330.1,266.9 L330.3,267.3 L330.5,267.6 L330.7,267.8 L330.9,267.9 L331.1,268 L331.3,268 L331.5,268 L331.6,268 L333.6,268 L335.6,268 L337.6,268 L339.6,268 L341.6,268 L343.6,268 L345.6,268 L347.6,268 L349.6,268 L351.6,268 L353.6,268 L355.6,268 L357.6,268 L359.6,268 L360,268" fill="none" stroke="#222222" stroke-width="0.85"/>
<rect x="203.6" y="155.1" width="156.4" height="116.1" fill="none" stroke="#555" stroke-width="1.1"/>
<line x1="216.5" y1="271.2" x2="216.5" y2="273.2" stroke="#555" stroke-width="0.8"/>
<text x="216.5" y="279.7" font-family="Liberation Serif, serif" font-weight="bold" font-size="6.3" text-anchor="middle" fill="#222" stroke="#222" stroke-width="0.15">10</text>
<line x1="242.8" y1="271.2" x2="242.8" y2="273.2" stroke="#555" stroke-width="0.8"/>
<text x="242.8" y="279.7" font-family="Liberation Serif, serif" font-weight="bold" font-size="6.3" text-anchor="middle" fill="#222" stroke="#222" stroke-width="0.15">15</text>
<line x1="269" y1="271.2" x2="269" y2="273.2" stroke="#555" stroke-width="0.8"/>
<text x="269" y="279.7" font-family="Liberation Serif, serif" font-weight="bold" font-size="6.3" text-anchor="middle" fill="#222" stroke="#222" stroke-width="0.15">20</text>
<line x1="295.2" y1="271.2" x2="295.2" y2="273.2" stroke="#555" stroke-width="0.8"/>
<text x="295.2" y="279.7" font-family="Liberation Serif, serif" font-weight="bold" font-size="6.3" text-anchor="middle" fill="#222" stroke="#222" stroke-width="0.15">25</text>
<line x1="321.5" y1="271.2" x2="321.5" y2="273.2" stroke="#555" stroke-width="0.8"/>
<text x="321.5" y="279.7" font-family="Liberation Serif, serif" font-weight="bold" font-size="6.3" text-anchor="middle" fill="#222" stroke="#222" stroke-width="0.15">30</text>
<line x1="347.8" y1="271.2" x2="347.8" y2="273.2" stroke="#555" stroke-width="0.8"/>
<text x="347.8" y="279.7" font-family="Liberation Serif, serif" font-weight="bold" font-size="6.3" text-anchor="middle" fill="#222" stroke="#222" stroke-width="0.15">35</text>
<line x1="229.6" y1="271.2" x2="229.6" y2="272.4" stroke="#555" stroke-width="0.6"/>
<line x1="255.9" y1="271.2" x2="255.9" y2="272.4" stroke="#555" stroke-width="0.6"/>
<line x1="282.1" y1="271.2" x2="282.1" y2="272.4" stroke="#555" stroke-width="0.6"/>
<line x1="308.4" y1="271.2" x2="308.4" y2="272.4" stroke="#555" stroke-width="0.6"/>
<line x1="334.6" y1="271.2" x2="334.6" y2="272.4" stroke="#555" stroke-width="0.6"/>
<text x="282" y="288.8" font-family="Liberation Serif, serif" font-weight="bold" font-size="10" text-anchor="middle" fill="#111" stroke="#111" stroke-width="0.25">2θ (°)</text>
<text transform="translate(201.2,210.2) rotate(-90)" font-family="Liberation Serif, serif" font-weight="bold" font-size="10.6" text-anchor="middle" fill="#111" stroke="#111" stroke-width="0.25">Intensity (a.u.)</text>
<text x="186.2" y="155.5" font-family="Liberation Serif, serif" font-weight="bold" font-size="16.5" fill="#111">(c)</text>
<text x="356.5" y="174.0" font-family="Liberation Serif, serif" font-weight="bold" font-size="5" text-anchor="end" fill="#a33cf2" stroke="#a33cf2" stroke-width="0.2">20 mg/mL.</text>
<text x="356.5" y="195.2" font-family="Liberation Serif, serif" font-weight="bold" font-size="5" text-anchor="end" fill="#3c3ca8" stroke="#3c3ca8" stroke-width="0.2">10 mg/mL.</text>
<text x="356.5" y="212.4" font-family="Liberation Serif, serif" font-weight="bold" font-size="5" text-anchor="end" fill="#1f9b3c" stroke="#1f9b3c" stroke-width="0.2">5 mg/mL.</text>
<text x="356.5" y="226.1" font-family="Liberation Serif, serif" font-weight="bold" font-size="5" text-anchor="end" fill="#f03cf0" stroke="#f03cf0" stroke-width="0.2">1 mg/mL.</text>
<text x="356.5" y="237.9" font-family="Liberation Serif, serif" font-weight="bold" font-size="5" text-anchor="end" fill="#2a3cf0" stroke="#2a3cf0" stroke-width="0.2">0.5 mg/mL.</text>
<text x="356.5" y="252.2" font-family="Liberation Serif, serif" font-weight="bold" font-size="5" text-anchor="end" fill="#f03232" stroke="#f03232" stroke-width="0.2">0.2 mg/mL.</text>
<text x="355" y="264.6" font-family="Liberation Serif, serif" font-weight="bold" font-size="5.4" text-anchor="end" fill="#222" stroke="#222" stroke-width="0.15">Control</text>
<text x="238" y="260.8" font-family="Liberation Serif, serif" font-weight="bold" font-size="5.4" fill="#222" stroke="#222" stroke-width="0.12">(100)</text>
<text x="263" y="266.9" font-family="Liberation Serif, serif" font-weight="bold" font-size="5.4" fill="#222" stroke="#222" stroke-width="0.12">(110)</text>
<text x="287.5" y="259.9" font-family="Liberation Serif, serif" font-weight="bold" font-size="5.4" fill="#222" stroke="#222" stroke-width="0.12">(111)</text>
<text x="307.5" y="263" font-family="Liberation Serif, serif" font-weight="bold" font-size="5.4" fill="#222" stroke="#222" stroke-width="0.12">(200)</text>
<text x="324.7" y="264.6" font-family="Liberation Serif, serif" font-weight="bold" font-size="5.4" fill="#222" stroke="#222" stroke-width="0.12">(210)</text>
<circle cx="225.9" cy="171.6" r="1.1" fill="#f02020"/>
<circle cx="301.6" cy="173.2" r="1.1" fill="#f02020"/>
<circle cx="230.9" cy="264.2" r="1.1" fill="#111"/>
<path d="M314.2,157.3 L316,159.1 L314.2,160.9 L312.4,159.1Z" fill="#111"/>
<text x="317.3" y="161" font-family="Liberation Serif, serif" font-weight="bold" font-size="5.5" fill="#222">PbI<tspan font-size="3.5" dy="1">2</tspan></text>
<circle cx="333.8" cy="159.1" r="0.8" fill="#f02020"/>
<text x="335" y="161" font-family="Liberation Serif, serif" font-weight="bold" font-size="5.5" fill="#f02020">DMAPbI<tspan font-size="3.5" dy="1">3</tspan></text>
<rect x="381.8" y="156.5" width="154.99999999999994" height="114.30000000000001" fill="url(#gd)"/>
<path d="M381.8,190 L382.3,190 L382.8,190 L383.3,190 L383.8,190 L384.3,190 L384.8,190 L385.3,190 L385.8,190 L386.3,190 L386.8,190 L387.3,189.9 L387.8,189.9 L388.3,189.9 L388.8,189.9 L389.3,189.9 L389.8,189.9 L390.3,189.9 L390.8,189.9 L391.3,189.9 L391.8,189.9 L392.3,189.8 L392.8,189.8 L393.3,189.8 L393.8,189.8 L394.3,189.8 L394.8,189.8 L395.3,189.7 L395.8,189.7 L396.3,189.7 L396.8,189.7 L397.3,189.7 L397.8,189.6 L398.3,189.6 L398.8,189.6 L399.3,189.6 L399.8,189.5 L400.3,189.5 L400.8,189.4 L401.3,189.4 L401.8,189.4 L402.3,189.3 L402.8,189.3 L403.3,189.2 L403.8,189.1 L404.3,189.1 L404.8,189 L405.3,188.9 L405.8,188.8 L406.3,188.7 L406.8,188.6 L407.3,188.5 L407.8,188.3 L408.3,188.2 L408.8,188 L409.3,187.8 L409.8,187.5 L410.3,187.3 L410.8,187 L411.3,186.6 L411.8,186.2 L412.3,185.7 L412.8,185.1 L413.3,184.4 L413.8,183.6 L414.3,182.6 L414.8,181.4 L415.3,180 L415.8,178.3 L416.3,176.3 L416.8,174 L417.3,171.5 L417.8,168.8 L418.3,166.5 L418.8,164.8 L419.3,164.2 L419.8,164.8 L420.3,166.6 L420.8,168.9 L421.3,171.6 L421.8,174.1 L422.3,176.4 L422.8,178.4 L423.3,180.1 L423.8,181.5 L424.3,182.7 L424.8,183.6 L425.3,184.5 L425.8,185.1 L426.3,185.7 L426.8,186.2 L427.3,186.6 L427.8,187 L428.3,187.3 L428.8,187.6 L429.3,187.8 L429.8,188 L430.3,188.2 L430.8,188.3 L431.3,188.5 L431.8,188.6 L432.3,188.7 L432.8,188.8 L433.3,188.9 L433.8,189 L434.3,189.1 L434.8,189.1 L435.3,189.2 L435.8,189.3 L436.3,189.3 L436.8,189.4 L437.3,189.4 L437.8,189.4 L438.3,189.5 L438.8,189.5 L439.3,189.6 L439.8,189.6 L440.3,189.6 L440.8,189.6 L441.3,189.7 L441.8,189.7 L442.3,189.7 L442.8,189.7 L443.3,189.7 L443.8,189.8 L444.3,189.8 L444.8,189.8 L445.3,189.8 L445.8,189.8 L446.3,189.8 L446.8,189.9 L447.3,189.9 L447.8,189.9 L448.3,189.9 L448.8,189.9 L449.3,189.9 L449.8,189.9 L450.3,189.9 L450.8,189.9 L451.3,189.9 L451.8,190 L452.3,190 L452.8,190 L453.3,190 L453.8,190 L454.3,190 L454.8,190 L455.3,190 L455.8,190 L456.3,190 L456.8,190 L457.3,190 L457.8,190 L458.3,190 L458.8,190 L459.3,190 L459.8,190 L460.3,190 L460.8,190 L461.3,190.1 L461.8,190.1 L462.3,190.1 L462.8,190.1 L463.3,190.1 L463.8,190.1 L464.3,190.1 L464.8,190.1 L465.3,190.1 L465.8,190.1 L466.3,190.1 L466.8,190.1 L467.3,190.1 L467.8,190.1 L468.3,190.1 L468.8,190.1 L469.3,190.1 L469.8,190.1 L470.3,190.1 L470.8,190.1 L471.3,190.1 L471.8,190.1 L472.3,190.1 L472.8,190.1 L473.3,190.1 L473.8,190.1 L474.3,190.1 L474.8,190.1 L475.3,190.1 L475.8,190.1 L476.3,190.1 L476.8,190.1 L477.3,190.1 L477.8,190.1 L478.3,190.1 L478.8,190.1 L479.3,190.1 L479.8,190.1 L480.3,190.1 L480.8,190.1 L481.3,190.1 L481.8,190.1 L482.3,190.1 L482.8,190.1 L483.3,190.1 L483.8,190.1 L484.3,190.1 L484.8,190.1 L485.3,190.1 L485.8,190.1 L486.3,190.1 L486.8,190.1 L487.3,190.1 L487.8,190.1 L488.3,190.1 L488.8,190.1 L489.3,190.1 L489.8,190.1 L490.3,190.1 L490.8,190.1 L491.3,190.1 L491.8,190.1 L492.3,190.1 L492.8,190.1 L493.3,190.1 L493.8,190.1 L494.3,190 L494.8,190 L495.3,190 L495.8,189.9 L496.3,189.9 L496.8,189.9 L497.3,189.8 L497.8,189.8 L498.3,189.7 L498.8,189.7 L499.3,189.6 L499.8,189.5 L500.3,189.5 L500.8,189.4 L501.3,189.3 L501.8,189.2 L502.3,189.2 L502.8,189.1 L503.3,189 L503.8,189 L504.3,188.9 L504.8,188.8 L505.3,188.8 L505.8,188.7 L506.3,188.7 L506.8,188.7 L507.3,188.7 L507.8,188.7 L508.3,188.7 L508.8,188.7 L509.3,188.7 L509.8,188.8 L510.3,188.8 L510.8,188.9 L511.3,188.9 L511.8,189 L512.3,189 L512.8,189.1 L513.3,189.2 L513.8,189.3 L514.3,189.3 L514.8,189.4 L515.3,189.5 L515.8,189.6 L516.3,189.6 L516.8,189.7 L517.3,189.8 L517.8,189.8 L518.3,189.9 L518.8,189.9 L519.3,189.9 L519.8,190 L520.3,190 L520.8,190 L521.3,190.1 L521.8,190.1 L522.3,190.1 L522.8,190.1 L523.3,190.1 L523.8,190.1 L524.3,190.1 L524.8,190.1 L525.3,190.2 L525.8,190.2 L526.3,190.2 L526.8,190.2 L527.3,190.2 L527.8,190.2 L528.3,190.2 L528.8,190.2 L529.3,190.2 L529.8,190.2 L530.3,190.2 L530.8,190.2 L531.3,190.2 L531.8,190.2 L532.3,190.2 L532.8,190.2 L533.3,190.2 L533.8,190.2 L534.3,190.2 L534.8,190.2 L535.3,190.2 L535.8,190.2 L536.3,190.2 L536.8,190.2" fill="none" stroke="#a33cf2" stroke-width="1.0"/>
<path d="M381.8,203 L382.3,203 L382.8,203 L383.3,203 L383.8,203 L384.3,203 L384.8,203 L385.3,203 L385.8,203 L386.3,203 L386.8,203 L387.3,203 L387.8,203 L388.3,203 L388.8,203 L389.3,203 L389.8,202.9 L390.3,202.9 L390.8,202.9 L391.3,202.9 L391.8,202.9 L392.3,202.9 L392.8,202.9 L393.3,202.9 L393.8,202.9 L394.3,202.8 L394.8,202.8 L395.3,202.8 L395.8,202.8 L396.3,202.8 L396.8,202.8 L397.3,202.7 L397.8,202.7 L398.3,202.7 L398.8,202.7 L399.3,202.7 L399.8,202.6 L400.3,202.6 L400.8,202.6 L401.3,202.5 L401.8,202.5 L402.3,202.5 L402.8,202.4 L403.3,202.4 L403.8,202.3 L404.3,202.3 L404.8,202.2 L405.3,202.2 L405.8,202.1 L406.3,202 L406.8,202 L407.3,201.9 L407.8,201.8 L408.3,201.7 L408.8,201.5 L409.3,201.4 L409.8,201.3 L410.3,201.1 L410.8,200.9 L411.3,200.7 L411.8,200.5 L412.3,200.2 L412.8,199.9 L413.3,199.6 L413.8,199.2 L414.3,198.8 L414.8,198.3 L415.3,197.8 L415.8,197.2 L416.3,196.6 L416.8,196 L417.3,195.4 L417.8,194.9 L418.3,194.4 L418.8,194 L419.3,193.8 L419.8,193.8 L420.3,194 L420.8,194.3 L421.3,194.8 L421.8,195.3 L422.3,195.9 L422.8,196.6 L423.3,197.1 L423.8,197.7 L424.3,198.2 L424.8,198.7 L425.3,199.1 L425.8,199.5 L426.3,199.8 L426.8,200.2 L427.3,200.4 L427.8,200.7 L428.3,200.9 L428.8,201.1 L429.3,201.2 L429.8,201.4 L430.3,201.5 L430.8,201.6 L431.3,201.8 L431.8,201.9 L432.3,201.9 L432.8,202 L433.3,202.1 L433.8,202.2 L434.3,202.2 L434.8,202.3 L435.3,202.3 L435.8,202.4 L436.3,202.4 L436.8,202.5 L437.3,202.5 L437.8,202.5 L438.3,202.6 L438.8,202.6 L439.3,202.6 L439.8,202.7 L440.3,202.7 L440.8,202.7 L441.3,202.7 L441.8,202.7 L442.3,202.8 L442.8,202.8 L443.3,202.8 L443.8,202.8 L444.3,202.8 L444.8,202.8 L445.3,202.9 L445.8,202.9 L446.3,202.9 L446.8,202.9 L447.3,202.9 L447.8,202.9 L448.3,202.9 L448.8,202.9 L449.3,202.9 L449.8,202.9 L450.3,203 L450.8,203 L451.3,203 L451.8,203 L452.3,203 L452.8,203 L453.3,203 L453.8,203 L454.3,203 L454.8,203 L455.3,203 L455.8,203 L456.3,203 L456.8,203 L457.3,203 L457.8,203 L458.3,203 L458.8,203 L459.3,203.1 L459.8,203.1 L460.3,203.1 L460.8,203.1 L461.3,203.1 L461.8,203.1 L462.3,203.1 L462.8,203.1 L463.3,203.1 L463.8,203.1 L464.3,203.1 L464.8,203.1 L465.3,203.1 L465.8,203.1 L466.3,203.1 L466.8,203.1 L467.3,203.1 L467.8,203.1 L468.3,203.1 L468.8,203.1 L469.3,203.1 L469.8,203.1 L470.3,203.1 L470.8,203.1 L471.3,203.1 L471.8,203.1 L472.3,203.1 L472.8,203.1 L473.3,203.1 L473.8,203.1 L474.3,203.1 L474.8,203.1 L475.3,203.1 L475.8,203.1 L476.3,203.1 L476.8,203.1 L477.3,203.1 L477.8,203.1 L478.3,203.1 L478.8,203.1 L479.3,203.1 L479.8,203.1 L480.3,203.1 L480.8,203.1 L481.3,203.1 L481.8,203.1 L482.3,203.1 L482.8,203.1 L483.3,203.1 L483.8,203.1 L484.3,203.1 L484.8,203.1 L485.3,203.1 L485.8,203.1 L486.3,203.1 L486.8,203.1 L487.3,203.1 L487.8,203.1 L488.3,203.1 L488.8,203.1 L489.3,203.1 L489.8,203.1 L490.3,203.1 L490.8,203.1 L491.3,203.1 L491.8,203.1 L492.3,203.1 L492.8,203.1 L493.3,203.1 L493.8,203.1 L494.3,203.1 L494.8,203.1 L495.3,203.1 L495.8,203 L496.3,203 L496.8,203 L497.3,203 L497.8,203 L498.3,202.9 L498.8,202.9 L499.3,202.9 L499.8,202.8 L500.3,202.8 L500.8,202.8 L501.3,202.7 L501.8,202.7 L502.3,202.6 L502.8,202.6 L503.3,202.6 L503.8,202.5 L504.3,202.5 L504.8,202.5 L505.3,202.4 L505.8,202.4 L506.3,202.4 L506.8,202.4 L507.3,202.4 L507.8,202.4 L508.3,202.4 L508.8,202.4 L509.3,202.4 L509.8,202.4 L510.3,202.4 L510.8,202.5 L511.3,202.5 L511.8,202.5 L512.3,202.6 L512.8,202.6 L513.3,202.7 L513.8,202.7 L514.3,202.7 L514.8,202.8 L515.3,202.8 L515.8,202.9 L516.3,202.9 L516.8,202.9 L517.3,203 L517.8,203 L518.3,203 L518.8,203 L519.3,203.1 L519.8,203.1 L520.3,203.1 L520.8,203.1 L521.3,203.1 L521.8,203.1 L522.3,203.1 L522.8,203.1 L523.3,203.2 L523.8,203.2 L524.3,203.2 L524.8,203.2 L525.3,203.2 L525.8,203.2 L526.3,203.2 L526.8,203.2 L527.3,203.2 L527.8,203.2 L528.3,203.2 L528.8,203.2 L529.3,203.2 L529.8,203.2 L530.3,203.2 L530.8,203.2 L531.3,203.2 L531.8,203.2 L532.3,203.2 L532.8,203.2 L533.3,203.2 L533.8,203.2 L534.3,203.2 L534.8,203.2 L535.3,203.2 L535.8,203.2 L536.3,203.2 L536.8,203.2" fill="none" stroke="#3c3ca8" stroke-width="1.0"/>
<path d="M381.8,215 L382.3,215 L382.8,215 L383.3,215 L383.8,215 L384.3,215 L384.8,215 L385.3,215 L385.8,215 L386.3,215 L386.8,215 L387.3,215 L387.8,215 L388.3,215 L388.8,215 L389.3,215 L389.8,215 L390.3,215 L390.8,215 L391.3,215 L391.8,215 L392.3,215 L392.8,215 L393.3,215 L393.8,214.9 L394.3,214.9 L394.8,214.9 L395.3,214.9 L395.8,214.9 L396.3,214.9 L396.8,214.9 L397.3,214.9 L397.8,214.9 L398.3,214.9 L398.8,214.9 L399.3,214.9 L399.8,214.8 L400.3,214.8 L400.8,214.8 L401.3,214.8 L401.8,214.8 L402.3,214.8 L402.8,214.8 L403.3,214.7 L403.8,214.7 L404.3,214.7 L404.8,214.7 L405.3,214.6 L405.8,214.6 L406.3,214.6 L406.8,214.6 L407.3,214.5 L407.8,214.5 L408.3,214.4 L408.8,214.4 L409.3,214.3 L409.8,214.3 L410.3,214.2 L410.8,214.1 L411.3,214.1 L411.8,214 L412.3,213.9 L412.8,213.8 L413.3,213.7 L413.8,213.5 L414.3,213.4 L414.8,213.3 L415.3,213.1 L415.8,213 L416.3,212.8 L416.8,212.6 L417.3,212.5 L417.8,212.3 L418.3,212.2 L418.8,212.2 L419.3,212.1 L419.8,212.1 L420.3,212.1 L420.8,212.2 L421.3,212.3 L421.8,212.5 L422.3,212.6 L422.8,212.8 L423.3,212.9 L423.8,213.1 L424.3,213.2 L424.8,213.4 L425.3,213.5 L425.8,213.7 L426.3,213.8 L426.8,213.9 L427.3,214 L427.8,214.1 L428.3,214.1 L428.8,214.2 L429.3,214.3 L429.8,214.3 L430.3,214.4 L430.8,214.4 L431.3,214.5 L431.8,214.5 L432.3,214.6 L432.8,214.6 L433.3,214.6 L433.8,214.6 L434.3,214.7 L434.8,214.7 L435.3,214.7 L435.8,214.7 L436.3,214.8 L436.8,214.8 L437.3,214.8 L437.8,214.8 L438.3,214.8 L438.8,214.8 L439.3,214.8 L439.8,214.9 L440.3,214.9 L440.8,214.9 L441.3,214.9 L441.8,214.9 L442.3,214.9 L442.8,214.9 L443.3,214.9 L443.8,214.9 L444.3,214.9 L444.8,214.9 L445.3,214.9 L445.8,215 L446.3,215 L446.8,215 L447.3,215 L447.8,215 L448.3,215 L448.8,215 L449.3,215 L449.8,215 L450.3,215 L450.8,215 L451.3,215 L451.8,215 L452.3,215 L452.8,215 L453.3,215 L453.8,215 L454.3,215 L454.8,215 L455.3,215 L455.8,215 L456.3,215 L456.8,215 L457.3,215 L457.8,215 L458.3,215 L458.8,215 L459.3,215 L459.8,215 L460.3,215 L460.8,215 L461.3,215 L461.8,215 L462.3,215 L462.8,215 L463.3,215 L463.8,215 L464.3,215 L464.8,215 L465.3,215 L465.8,215.1 L466.3,215.1 L466.8,215.1 L467.3,215.1 L467.8,215.1 L468.3,215.1 L468.8,215.1 L469.3,215.1 L469.8,215.1 L470.3,215.1 L470.8,215.1 L471.3,215.1 L471.8,215.1 L472.3,215.1 L472.8,215.1 L473.3,215.1 L473.8,215.1 L474.3,215.1 L474.8,215.1 L475.3,215.1 L475.8,215.1 L476.3,215.1 L476.8,215.1 L477.3,215.1 L477.8,215.1 L478.3,215.1 L478.8,215.1 L479.3,215.1 L479.8,215.1 L480.3,215.1 L480.8,215.1 L481.3,215.1 L481.8,215.1 L482.3,215.1 L482.8,215.1 L483.3,215.1 L483.8,215.1 L484.3,215.1 L484.8,215.1 L485.3,215.1 L485.8,215.1 L486.3,215.1 L486.8,215.1 L487.3,215.1 L487.8,215.1 L488.3,215.1 L488.8,215.1 L489.3,215.1 L489.8,215.1 L490.3,215.1 L490.8,215.1 L491.3,215.1 L491.8,215.1 L492.3,215.1 L492.8,215 L493.3,215 L493.8,215 L494.3,215 L494.8,215 L495.3,215 L495.8,215 L496.3,215 L496.8,214.9 L497.3,214.9 L497.8,214.9 L498.3,214.9 L498.8,214.8 L499.3,214.8 L499.8,214.7 L500.3,214.7 L500.8,214.7 L501.3,214.6 L501.8,214.6 L502.3,214.6 L502.8,214.5 L503.3,214.5 L503.8,214.4 L504.3,214.4 L504.8,214.4 L505.3,214.3 L505.8,214.3 L506.3,214.3 L506.8,214.3 L507.3,214.3 L507.8,214.3 L508.3,214.3 L508.8,214.3 L509.3,214.3 L509.8,214.3 L510.3,214.4 L510.8,214.4 L511.3,214.4 L511.8,214.5 L512.3,214.5 L512.8,214.5 L513.3,214.6 L513.8,214.6 L514.3,214.6 L514.8,214.7 L515.3,214.7 L515.8,214.8 L516.3,214.8 L516.8,214.8 L517.3,214.9 L517.8,214.9 L518.3,214.9 L518.8,214.9 L519.3,215 L519.8,215 L520.3,215 L520.8,215 L521.3,215 L521.8,215 L522.3,215 L522.8,215.1 L523.3,215.1 L523.8,215.1 L524.3,215.1 L524.8,215.1 L525.3,215.1 L525.8,215.1 L526.3,215.1 L526.8,215.1 L527.3,215.1 L527.8,215.1 L528.3,215.1 L528.8,215.1 L529.3,215.1 L529.8,215.1 L530.3,215.1 L530.8,215.1 L531.3,215.1 L531.8,215.1 L532.3,215.1 L532.8,215.1 L533.3,215.1 L533.8,215.1 L534.3,215.1 L534.8,215.1 L535.3,215.1 L535.8,215.1 L536.3,215.1 L536.8,215.1" fill="none" stroke="#1f9b3c" stroke-width="1.0"/>
<path d="M381.8,226.6 L382.3,226.6 L382.8,226.6 L383.3,226.6 L383.8,226.6 L384.3,226.6 L384.8,226.6 L385.3,226.6 L385.8,226.6 L386.3,226.6 L386.8,226.6 L387.3,226.6 L387.8,226.6 L388.3,226.6 L388.8,226.6 L389.3,226.6 L389.8,226.6 L390.3,226.6 L390.8,226.6 L391.3,226.6 L391.8,226.6 L392.3,226.6 L392.8,226.6 L393.3,226.6 L393.8,226.6 L394.3,226.6 L394.8,226.6 L395.3,226.6 L395.8,226.6 L396.3,226.6 L396.8,226.6 L397.3,226.6 L397.8,226.6 L398.3,226.6 L398.8,226.6 L399.3,226.6 L399.8,226.6 L400.3,226.6 L400.8,226.6 L401.3,226.6 L401.8,226.6 L402.3,226.6 L402.8,226.6 L403.3,226.6 L403.8,226.6 L404.3,226.6 L404.8,226.6 L405.3,226.6 L405.8,226.6 L406.3,226.6 L406.8,226.6 L407.3,226.6 L407.8,226.6 L408.3,226.6 L408.8,226.6 L409.3,226.6 L409.8,226.6 L410.3,226.6 L410.8,226.6 L411.3,226.6 L411.8,226.6 L412.3,226.6 L412.8,226.6 L413.3,226.6 L413.8,226.6 L414.3,226.6 L414.8,226.6 L415.3,226.6 L415.8,226.6 L416.3,226.6 L416.8,226.6 L417.3,226.6 L417.8,226.6 L418.3,226.6 L418.8,226.6 L419.3,226.6 L419.8,226.6 L420.3,226.6 L420.8,226.6 L421.3,226.6 L421.8,226.6 L422.3,226.6 L422.8,226.6 L423.3,226.6 L423.8,226.6 L424.3,226.6 L424.8,226.6 L425.3,226.6 L425.8,226.6 L426.3,226.6 L426.8,226.6 L427.3,226.6 L427.8,226.6 L428.3,226.6 L428.8,226.6 L429.3,226.6 L429.8,226.6 L430.3,226.6 L430.8,226.6 L431.3,226.6 L431.8,226.6 L432.3,226.6 L432.8,226.6 L433.3,226.6 L433.8,226.6 L434.3,226.6 L434.8,226.6 L435.3,226.6 L435.8,226.6 L436.3,226.6 L436.8,226.6 L437.3,226.6 L437.8,226.6 L438.3,226.6 L438.8,226.6 L439.3,226.6 L439.8,226.6 L440.3,226.6 L440.8,226.6 L441.3,226.6 L441.8,226.6 L442.3,226.6 L442.8,226.6 L443.3,226.6 L443.8,226.6 L444.3,226.6 L444.8,226.6 L445.3,226.6 L445.8,226.6 L446.3,226.6 L446.8,226.6 L447.3,226.6 L447.8,226.6 L448.3,226.6 L448.8,226.6 L449.3,226.6 L449.8,226.6 L450.3,226.6 L450.8,226.6 L451.3,226.6 L451.8,226.6 L452.3,226.6 L452.8,226.6 L453.3,226.6 L453.8,226.6 L454.3,226.6 L454.8,226.6 L455.3,226.6 L455.8,226.6 L456.3,226.6 L456.8,226.6 L457.3,226.6 L457.8,226.6 L458.3,226.6 L458.8,226.6 L459.3,226.6 L459.8,226.6 L460.3,226.6 L460.8,226.6 L461.3,226.6 L461.8,226.6 L462.3,226.6 L462.8,226.6 L463.3,226.6 L463.8,226.6 L464.3,226.6 L464.8,226.6 L465.3,226.6 L465.8,226.6 L466.3,226.6 L466.8,226.6 L467.3,226.6 L467.8,226.6 L468.3,226.6 L468.8,226.6 L469.3,226.6 L469.8,226.6 L470.3,226.6 L470.8,226.6 L471.3,226.6 L471.8,226.6 L472.3,226.6 L472.8,226.6 L473.3,226.6 L473.8,226.6 L474.3,226.6 L474.8,226.6 L475.3,226.6 L475.8,226.6 L476.3,226.6 L476.8,226.6 L477.3,226.6 L477.8,226.6 L478.3,226.6 L478.8,226.6 L479.3,226.6 L479.8,226.6 L480.3,226.6 L480.8,226.6 L481.3,226.6 L481.8,226.6 L482.3,226.6 L482.8,226.6 L483.3,226.6 L483.8,226.6 L484.3,226.6 L484.8,226.6 L485.3,226.6 L485.8,226.6 L486.3,226.6 L486.8,226.6 L487.3,226.6 L487.8,226.6 L488.3,226.6 L488.8,226.5 L489.3,226.5 L489.8,226.5 L490.3,226.5 L490.8,226.5 L491.3,226.5 L491.8,226.5 L492.3,226.4 L492.8,226.4 L493.3,226.4 L493.8,226.3 L494.3,226.3 L494.8,226.2 L495.3,226.2 L495.8,226.1 L496.3,226.1 L496.8,226 L497.3,225.9 L497.8,225.9 L498.3,225.8 L498.8,225.7 L499.3,225.6 L499.8,225.5 L500.3,225.5 L500.8,225.4 L501.3,225.3 L501.8,225.2 L502.3,225.1 L502.8,225 L503.3,225 L503.8,224.9 L504.3,224.8 L504.8,224.8 L505.3,224.7 L505.8,224.7 L506.3,224.6 L506.8,224.6 L507.3,224.6 L507.8,224.6 L508.3,224.6 L508.8,224.6 L509.3,224.6 L509.8,224.7 L510.3,224.7 L510.8,224.8 L511.3,224.8 L511.8,224.9 L512.3,225 L512.8,225.1 L513.3,225.1 L513.8,225.2 L514.3,225.3 L514.8,225.4 L515.3,225.5 L515.8,225.6 L516.3,225.7 L516.8,225.7 L517.3,225.8 L517.8,225.9 L518.3,226 L518.8,226 L519.3,226.1 L519.8,226.1 L520.3,226.2 L520.8,226.2 L521.3,226.3 L521.8,226.3 L522.3,226.4 L522.8,226.4 L523.3,226.4 L523.8,226.5 L524.3,226.5 L524.8,226.5 L525.3,226.5 L525.8,226.5 L526.3,226.5 L526.8,226.6 L527.3,226.6 L527.8,226.6 L528.3,226.6 L528.8,226.6 L529.3,226.6 L529.8,226.6 L530.3,226.6 L530.8,226.6 L531.3,226.6 L531.8,226.6 L532.3,226.6 L532.8,226.6 L533.3,226.6 L533.8,226.6 L534.3,226.6 L534.8,226.6 L535.3,226.6 L535.8,226.6 L536.3,226.6 L536.8,226.6" fill="none" stroke="#f03cf0" stroke-width="1.0"/>
<path d="M381.8,238.8 L382.3,238.8 L382.8,238.8 L383.3,238.8 L383.8,238.8 L384.3,238.8 L384.8,238.8 L385.3,238.8 L385.8,238.8 L386.3,238.8 L386.8,238.8 L387.3,238.8 L387.8,238.8 L388.3,238.8 L388.8,238.8 L389.3,238.8 L389.8,238.8 L390.3,238.8 L390.8,238.8 L391.3,238.8 L391.8,238.8 L392.3,238.8 L392.8,238.8 L393.3,238.8 L393.8,238.8 L394.3,238.8 L394.8,238.8 L395.3,238.8 L395.8,238.8 L396.3,238.8 L396.8,238.8 L397.3,238.8 L397.8,238.8 L398.3,238.8 L398.8,238.8 L399.3,238.8 L399.8,238.8 L400.3,238.8 L400.8,238.8 L401.3,238.8 L401.8,238.8 L402.3,238.8 L402.8,238.8 L403.3,238.8 L403.8,238.8 L404.3,238.8 L404.8,238.8 L405.3,238.8 L405.8,238.8 L406.3,238.8 L406.8,238.8 L407.3,238.8 L407.8,238.8 L408.3,238.8 L408.8,238.8 L409.3,238.8 L409.8,238.8 L410.3,238.8 L410.8,238.8 L411.3,238.8 L411.8,238.8 L412.3,238.8 L412.8,238.8 L413.3,238.8 L413.8,238.8 L414.3,238.8 L414.8,238.8 L415.3,238.8 L415.8,238.8 L416.3,238.8 L416.8,238.8 L417.3,238.8 L417.8,238.8 L418.3,238.8 L418.8,238.8 L419.3,238.8 L419.8,238.8 L420.3,238.8 L420.8,238.8 L421.3,238.8 L421.8,238.8 L422.3,238.8 L422.8,238.8 L423.3,238.8 L423.8,238.8 L424.3,238.8 L424.8,238.8 L425.3,238.8 L425.8,238.8 L426.3,238.8 L426.8,238.8 L427.3,238.8 L427.8,238.8 L428.3,238.8 L428.8,238.8 L429.3,238.8 L429.8,238.8 L430.3,238.8 L430.8,238.8 L431.3,238.8 L431.8,238.8 L432.3,238.8 L432.8,238.8 L433.3,238.8 L433.8,238.8 L434.3,238.8 L434.8,238.8 L435.3,238.8 L435.8,238.8 L436.3,238.8 L436.8,238.8 L437.3,238.8 L437.8,238.8 L438.3,238.8 L438.8,238.8 L439.3,238.8 L439.8,238.8 L440.3,238.8 L440.8,238.8 L441.3,238.8 L441.8,238.8 L442.3,238.8 L442.8,238.8 L443.3,238.8 L443.8,238.8 L444.3,238.8 L444.8,238.8 L445.3,238.8 L445.8,238.8 L446.3,238.8 L446.8,238.8 L447.3,238.8 L447.8,238.8 L448.3,238.8 L448.8,238.8 L449.3,238.8 L449.8,238.8 L450.3,238.8 L450.8,238.8 L451.3,238.8 L451.8,238.8 L452.3,238.8 L452.8,238.8 L453.3,238.8 L453.8,238.8 L454.3,238.8 L454.8,238.8 L455.3,238.8 L455.8,238.8 L456.3,238.8 L456.8,238.8 L457.3,238.8 L457.8,238.8 L458.3,238.8 L458.8,238.8 L459.3,238.8 L459.8,238.8 L460.3,238.8 L460.8,238.8 L461.3,238.8 L461.8,238.8 L462.3,238.8 L462.8,238.8 L463.3,238.8 L463.8,238.8 L464.3,238.8 L464.8,238.8 L465.3,238.8 L465.8,238.8 L466.3,238.8 L466.8,238.8 L467.3,238.8 L467.8,238.8 L468.3,238.8 L468.8,238.8 L469.3,238.8 L469.8,238.8 L470.3,238.8 L470.8,238.8 L471.3,238.8 L471.8,238.8 L472.3,238.8 L472.8,238.8 L473.3,238.8 L473.8,238.8 L474.3,238.8 L474.8,238.8 L475.3,238.8 L475.8,238.8 L476.3,238.8 L476.8,238.8 L477.3,238.8 L477.8,238.8 L478.3,238.8 L478.8,238.8 L479.3,238.8 L479.8,238.8 L480.3,238.8 L480.8,238.7 L481.3,238.7 L481.8,238.7 L482.3,238.7 L482.8,238.7 L483.3,238.7 L483.8,238.7 L484.3,238.6 L484.8,238.6 L485.3,238.6 L485.8,238.6 L486.3,238.5 L486.8,238.5 L487.3,238.5 L487.8,238.4 L488.3,238.4 L488.8,238.3 L489.3,238.2 L489.8,238.2 L490.3,238.1 L490.8,238 L491.3,238 L491.8,237.9 L492.3,237.8 L492.8,237.7 L493.3,237.6 L493.8,237.4 L494.3,237.3 L494.8,237.2 L495.3,237.1 L495.8,236.9 L496.3,236.8 L496.8,236.6 L497.3,236.5 L497.8,236.4 L498.3,236.2 L498.8,236.1 L499.3,235.9 L499.8,235.7 L500.3,235.6 L500.8,235.5 L501.3,235.3 L501.8,235.2 L502.3,235.1 L502.8,234.9 L503.3,234.8 L503.8,234.7 L504.3,234.6 L504.8,234.5 L505.3,234.5 L505.8,234.4 L506.3,234.4 L506.8,234.3 L507.3,234.3 L507.8,234.3 L508.3,234.3 L508.8,234.3 L509.3,234.4 L509.8,234.4 L510.3,234.5 L510.8,234.6 L511.3,234.6 L511.8,234.7 L512.3,234.8 L512.8,235 L513.3,235.1 L513.8,235.2 L514.3,235.4 L514.8,235.5 L515.3,235.6 L515.8,235.8 L516.3,235.9 L516.8,236.1 L517.3,236.2 L517.8,236.4 L518.3,236.5 L518.8,236.7 L519.3,236.8 L519.8,237 L520.3,237.1 L520.8,237.2 L521.3,237.4 L521.8,237.5 L522.3,237.6 L522.8,237.7 L523.3,237.8 L523.8,237.9 L524.3,238 L524.8,238.1 L525.3,238.1 L525.8,238.2 L526.3,238.3 L526.8,238.3 L527.3,238.4 L527.8,238.4 L528.3,238.5 L528.8,238.5 L529.3,238.5 L529.8,238.6 L530.3,238.6 L530.8,238.6 L531.3,238.7 L531.8,238.7 L532.3,238.7 L532.8,238.7 L533.3,238.7 L533.8,238.7 L534.3,238.7 L534.8,238.8 L535.3,238.8 L535.8,238.8 L536.3,238.8 L536.8,238.8" fill="none" stroke="#2a3cf0" stroke-width="1.0"/>
<path d="M381.8,250.2 L382.3,250.2 L382.8,250.2 L383.3,250.2 L383.8,250.2 L384.3,250.2 L384.8,250.2 L385.3,250.2 L385.8,250.2 L386.3,250.2 L386.8,250.2 L387.3,250.2 L387.8,250.2 L388.3,250.2 L388.8,250.2 L389.3,250.2 L389.8,250.2 L390.3,250.2 L390.8,250.2 L391.3,250.2 L391.8,250.2 L392.3,250.2 L392.8,250.2 L393.3,250.2 L393.8,250.2 L394.3,250.2 L394.8,250.2 L395.3,250.2 L395.8,250.2 L396.3,250.2 L396.8,250.2 L397.3,250.2 L397.8,250.2 L398.3,250.2 L398.8,250.2 L399.3,250.2 L399.8,250.2 L400.3,250.2 L400.8,250.2 L401.3,250.2 L401.8,250.2 L402.3,250.2 L402.8,250.2 L403.3,250.2 L403.8,250.2 L404.3,250.2 L404.8,250.2 L405.3,250.2 L405.8,250.2 L406.3,250.2 L406.8,250.2 L407.3,250.2 L407.8,250.2 L408.3,250.2 L408.8,250.2 L409.3,250.2 L409.8,250.2 L410.3,250.2 L410.8,250.2 L411.3,250.2 L411.8,250.2 L412.3,250.2 L412.8,250.2 L413.3,250.2 L413.8,250.2 L414.3,250.2 L414.8,250.2 L415.3,250.2 L415.8,250.2 L416.3,250.2 L416.8,250.2 L417.3,250.2 L417.8,250.2 L418.3,250.2 L418.8,250.2 L419.3,250.2 L419.8,250.2 L420.3,250.2 L420.8,250.2 L421.3,250.2 L421.8,250.2 L422.3,250.2 L422.8,250.2 L423.3,250.2 L423.8,250.2 L424.3,250.2 L424.8,250.2 L425.3,250.2 L425.8,250.2 L426.3,250.2 L426.8,250.2 L427.3,250.2 L427.8,250.2 L428.3,250.2 L428.8,250.2 L429.3,250.2 L429.8,250.2 L430.3,250.2 L430.8,250.2 L431.3,250.2 L431.8,250.2 L432.3,250.2 L432.8,250.2 L433.3,250.2 L433.8,250.2 L434.3,250.2 L434.8,250.2 L435.3,250.2 L435.8,250.2 L436.3,250.2 L436.8,250.2 L437.3,250.2 L437.8,250.2 L438.3,250.2 L438.8,250.2 L439.3,250.2 L439.8,250.2 L440.3,250.2 L440.8,250.2 L441.3,250.2 L441.8,250.2 L442.3,250.2 L442.8,250.2 L443.3,250.2 L443.8,250.2 L444.3,250.2 L444.8,250.2 L445.3,250.2 L445.8,250.2 L446.3,250.2 L446.8,250.2 L447.3,250.2 L447.8,250.2 L448.3,250.2 L448.8,250.2 L449.3,250.2 L449.8,250.2 L450.3,250.2 L450.8,250.2 L451.3,250.2 L451.8,250.2 L452.3,250.2 L452.8,250.2 L453.3,250.2 L453.8,250.2 L454.3,250.2 L454.8,250.2 L455.3,250.2 L455.8,250.2 L456.3,250.2 L456.8,250.2 L457.3,250.2 L457.8,250.2 L458.3,250.2 L458.8,250.2 L459.3,250.2 L459.8,250.2 L460.3,250.2 L460.8,250.2 L461.3,250.2 L461.8,250.2 L462.3,250.2 L462.8,250.2 L463.3,250.2 L463.8,250.2 L464.3,250.2 L464.8,250.2 L465.3,250.2 L465.8,250.2 L466.3,250.2 L466.8,250.2 L467.3,250.2 L467.8,250.2 L468.3,250.2 L468.8,250.2 L469.3,250.2 L469.8,250.2 L470.3,250.2 L470.8,250.2 L471.3,250.2 L471.8,250.2 L472.3,250.2 L472.8,250.2 L473.3,250.2 L473.8,250.2 L474.3,250.2 L474.8,250.2 L475.3,250.2 L475.8,250.2 L476.3,250.2 L476.8,250.2 L477.3,250.2 L477.8,250.2 L478.3,250.1 L478.8,250.1 L479.3,250.1 L479.8,250.1 L480.3,250.1 L480.8,250.1 L481.3,250.1 L481.8,250.1 L482.3,250 L482.8,250 L483.3,250 L483.8,250 L484.3,249.9 L484.8,249.9 L485.3,249.9 L485.8,249.8 L486.3,249.8 L486.8,249.7 L487.3,249.7 L487.8,249.6 L488.3,249.6 L488.8,249.5 L489.3,249.4 L489.8,249.4 L490.3,249.3 L490.8,249.2 L491.3,249.1 L491.8,249 L492.3,248.9 L492.8,248.8 L493.3,248.7 L493.8,248.6 L494.3,248.5 L494.8,248.4 L495.3,248.3 L495.8,248.1 L496.3,248 L496.8,247.9 L497.3,247.8 L497.8,247.6 L498.3,247.5 L498.8,247.4 L499.3,247.3 L499.8,247.1 L500.3,247 L500.8,246.9 L501.3,246.8 L501.8,246.7 L502.3,246.6 L502.8,246.5 L503.3,246.4 L503.8,246.3 L504.3,246.2 L504.8,246.2 L505.3,246.1 L505.8,246.1 L506.3,246 L506.8,246 L507.3,246 L507.8,246 L508.3,246 L508.8,246 L509.3,246.1 L509.8,246.1 L510.3,246.1 L510.8,246.2 L511.3,246.3 L511.8,246.3 L512.3,246.4 L512.8,246.5 L513.3,246.6 L513.8,246.7 L514.3,246.8 L514.8,246.9 L515.3,247 L515.8,247.2 L516.3,247.3 L516.8,247.4 L517.3,247.5 L517.8,247.7 L518.3,247.8 L518.8,247.9 L519.3,248 L519.8,248.2 L520.3,248.3 L520.8,248.4 L521.3,248.5 L521.8,248.6 L522.3,248.7 L522.8,248.8 L523.3,248.9 L523.8,249 L524.3,249.1 L524.8,249.2 L525.3,249.3 L525.8,249.4 L526.3,249.5 L526.8,249.5 L527.3,249.6 L527.8,249.6 L528.3,249.7 L528.8,249.7 L529.3,249.8 L529.8,249.8 L530.3,249.9 L530.8,249.9 L531.3,249.9 L531.8,250 L532.3,250 L532.8,250 L533.3,250 L533.8,250.1 L534.3,250.1 L534.8,250.1 L535.3,250.1 L535.8,250.1 L536.3,250.1 L536.8,250.1" fill="none" stroke="#f03232" stroke-width="1.0"/>
<path d="M381.8,261 L382.3,261 L382.8,261 L383.3,261 L383.8,261 L384.3,261 L384.8,261 L385.3,261 L385.8,261 L386.3,261 L386.8,261 L387.3,261 L387.8,261 L388.3,261 L388.8,261 L389.3,261 L389.8,261 L390.3,261 L390.8,261 L391.3,261 L391.8,261 L392.3,261 L392.8,261 L393.3,261 L393.8,261 L394.3,261 L394.8,261 L395.3,261 L395.8,261 L396.3,261 L396.8,261 L397.3,261 L397.8,261 L398.3,261 L398.8,261 L399.3,261 L399.8,261 L400.3,261 L400.8,261 L401.3,261 L401.8,261 L402.3,261 L402.8,261 L403.3,261 L403.8,261 L404.3,261 L404.8,261 L405.3,261 L405.8,261 L406.3,261 L406.8,261 L407.3,261 L407.8,261 L408.3,261 L408.8,261 L409.3,261 L409.8,261 L410.3,261 L410.8,261 L411.3,261 L411.8,261 L412.3,261 L412.8,261 L413.3,261 L413.8,261 L414.3,261 L414.8,261 L415.3,261 L415.8,261 L416.3,261 L416.8,261 L417.3,261 L417.8,261 L418.3,261 L418.8,261 L419.3,261 L419.8,261 L420.3,261 L420.8,261 L421.3,261 L421.8,261 L422.3,261 L422.8,261 L423.3,261 L423.8,261 L424.3,261 L424.8,261 L425.3,261 L425.8,261 L426.3,261 L426.8,261 L427.3,261 L427.8,261 L428.3,261 L428.8,261 L429.3,261 L429.8,261 L430.3,261 L430.8,261 L431.3,261 L431.8,261 L432.3,261 L432.8,261 L433.3,261 L433.8,261 L434.3,261 L434.8,261 L435.3,261 L435.8,261 L436.3,261 L436.8,261 L437.3,261 L437.8,261 L438.3,261 L438.8,261 L439.3,261 L439.8,261 L440.3,261 L440.8,261 L441.3,261 L441.8,261 L442.3,261 L442.8,261 L443.3,261 L443.8,261 L444.3,261 L444.8,261 L445.3,261 L445.8,261 L446.3,261 L446.8,261 L447.3,261 L447.8,261 L448.3,261 L448.8,261 L449.3,261 L449.8,261 L450.3,261 L450.8,261 L451.3,261 L451.8,261 L452.3,261 L452.8,261 L453.3,261 L453.8,261 L454.3,261 L454.8,261 L455.3,261 L455.8,261 L456.3,261 L456.8,261 L457.3,261 L457.8,261 L458.3,261 L458.8,261 L459.3,261 L459.8,261 L460.3,261 L460.8,261 L461.3,261 L461.8,261 L462.3,261 L462.8,261 L463.3,261 L463.8,261 L464.3,261 L464.8,261 L465.3,261 L465.8,261 L466.3,261 L466.8,261 L467.3,261 L467.8,261 L468.3,261 L468.8,261 L469.3,261 L469.8,261 L470.3,261 L470.8,261 L471.3,261 L471.8,261 L472.3,261 L472.8,261 L473.3,261 L473.8,261 L474.3,261 L474.8,261 L475.3,261 L475.8,261 L476.3,260.9 L476.8,260.9 L477.3,260.9 L477.8,260.9 L478.3,260.9 L478.8,260.9 L479.3,260.9 L479.8,260.9 L480.3,260.8 L480.8,260.8 L481.3,260.8 L481.8,260.8 L482.3,260.7 L482.8,260.7 L483.3,260.6 L483.8,260.6 L484.3,260.5 L484.8,260.5 L485.3,260.4 L485.8,260.4 L486.3,260.3 L486.8,260.2 L487.3,260.1 L487.8,260 L488.3,259.9 L488.8,259.8 L489.3,259.7 L489.8,259.6 L490.3,259.4 L490.8,259.3 L491.3,259.1 L491.8,259 L492.3,258.8 L492.8,258.6 L493.3,258.5 L493.8,258.3 L494.3,258.1 L494.8,257.9 L495.3,257.7 L495.8,257.5 L496.3,257.3 L496.8,257 L497.3,256.8 L497.8,256.6 L498.3,256.4 L498.8,256.2 L499.3,256 L499.8,255.7 L500.3,255.5 L500.8,255.3 L501.3,255.1 L501.8,255 L502.3,254.8 L502.8,254.6 L503.3,254.5 L503.8,254.3 L504.3,254.2 L504.8,254.1 L505.3,254 L505.8,253.9 L506.3,253.9 L506.8,253.8 L507.3,253.8 L507.8,253.8 L508.3,253.8 L508.8,253.8 L509.3,253.9 L509.8,254 L510.3,254 L510.8,254.1 L511.3,254.2 L511.8,254.4 L512.3,254.5 L512.8,254.7 L513.3,254.8 L513.8,255 L514.3,255.2 L514.8,255.4 L515.3,255.6 L515.8,255.8 L516.3,256 L516.8,256.2 L517.3,256.4 L517.8,256.7 L518.3,256.9 L518.8,257.1 L519.3,257.3 L519.8,257.5 L520.3,257.7 L520.8,257.9 L521.3,258.1 L521.8,258.3 L522.3,258.5 L522.8,258.7 L523.3,258.9 L523.8,259 L524.3,259.2 L524.8,259.3 L525.3,259.5 L525.8,259.6 L526.3,259.7 L526.8,259.8 L527.3,259.9 L527.8,260 L528.3,260.1 L528.8,260.2 L529.3,260.3 L529.8,260.4 L530.3,260.4 L530.8,260.5 L531.3,260.6 L531.8,260.6 L532.3,260.6 L532.8,260.7 L533.3,260.7 L533.8,260.8 L534.3,260.8 L534.8,260.8 L535.3,260.8 L535.8,260.9 L536.3,260.9 L536.8,260.9" fill="none" stroke="#222222" stroke-width="1.0"/>
<line x1="419.3" y1="157.5" x2="419.3" y2="270.8" stroke="#333" stroke-width="0.8" stroke-dasharray="2,1.6"/>
<line x1="507.7" y1="157.5" x2="507.7" y2="270.8" stroke="#333" stroke-width="0.8" stroke-dasharray="2,1.6"/>
<rect x="381.8" y="156.5" width="154.99999999999994" height="114.30000000000001" fill="none" stroke="#555" stroke-width="1.1"/>
<line x1="381.8" y1="270.8" x2="381.8" y2="272.8" stroke="#555" stroke-width="0.8"/>
<text x="381.8" y="279.7" font-family="Liberation Serif, serif" font-weight="bold" font-size="6.3" text-anchor="middle" fill="#222" stroke="#222" stroke-width="0.15">11.4</text>
<line x1="401.2" y1="270.8" x2="401.2" y2="272.0" stroke="#555" stroke-width="0.6"/>
<line x1="420.6" y1="270.8" x2="420.6" y2="272.8" stroke="#555" stroke-width="0.8"/>
<text x="420.6" y="279.7" font-family="Liberation Serif, serif" font-weight="bold" font-size="6.3" text-anchor="middle" fill="#222" stroke="#222" stroke-width="0.15">11.8</text>
<line x1="439.9" y1="270.8" x2="439.9" y2="272.0" stroke="#555" stroke-width="0.6"/>
<line x1="459.3" y1="270.8" x2="459.3" y2="272.8" stroke="#555" stroke-width="0.8"/>
<text x="459.3" y="279.7" font-family="Liberation Serif, serif" font-weight="bold" font-size="6.3" text-anchor="middle" fill="#222" stroke="#222" stroke-width="0.15">12.2</text>
<line x1="478.7" y1="270.8" x2="478.7" y2="272.0" stroke="#555" stroke-width="0.6"/>
<line x1="498" y1="270.8" x2="498" y2="272.8" stroke="#555" stroke-width="0.8"/>
<text x="498" y="279.7" font-family="Liberation Serif, serif" font-weight="bold" font-size="6.3" text-anchor="middle" fill="#222" stroke="#222" stroke-width="0.15">12.6</text>
<line x1="517.4" y1="270.8" x2="517.4" y2="272.0" stroke="#555" stroke-width="0.6"/>
<line x1="536.8" y1="270.8" x2="536.8" y2="272.8" stroke="#555" stroke-width="0.8"/>
<text x="536.8" y="279.7" font-family="Liberation Serif, serif" font-weight="bold" font-size="6.3" text-anchor="middle" fill="#222" stroke="#222" stroke-width="0.15">13.0</text>
<text x="459" y="288.8" font-family="Liberation Serif, serif" font-weight="bold" font-size="10" text-anchor="middle" fill="#111" stroke="#111" stroke-width="0.25">2θ (°)</text>
<text transform="translate(378.6,211.8) rotate(-90)" font-family="Liberation Serif, serif" font-weight="bold" font-size="10.6" text-anchor="middle" fill="#111" stroke="#111" stroke-width="0.25">Intensity (a.u.)</text>
<text x="363" y="155.2" font-family="Liberation Serif, serif" font-weight="bold" font-size="16.5" fill="#111">(d)</text>
<text x="383.4" y="187.7" font-family="Liberation Serif, serif" font-weight="bold" font-size="5" fill="#a33cf2" stroke="#a33cf2" stroke-width="0.2">20 mg/mL.</text>
<text x="383.7" y="200.7" font-family="Liberation Serif, serif" font-weight="bold" font-size="5" fill="#3c3ca8" stroke="#3c3ca8" stroke-width="0.2">10 mg/mL.</text>
<text x="384.9" y="212.7" font-family="Liberation Serif, serif" font-weight="bold" font-size="5" fill="#1f9b3c" stroke="#1f9b3c" stroke-width="0.2">5 mg/mL.</text>
<text x="385.4" y="224.5" font-family="Liberation Serif, serif" font-weight="bold" font-size="5" fill="#f03cf0" stroke="#f03cf0" stroke-width="0.2">1 mg/mL.</text>
<text x="383.5" y="236.5" font-family="Liberation Serif, serif" font-weight="bold" font-size="5" fill="#2a3cf0" stroke="#2a3cf0" stroke-width="0.2">0.5 mg/mL.</text>
<text x="383.5" y="248.4" font-family="Liberation Serif, serif" font-weight="bold" font-size="5" fill="#f03232" stroke="#f03232" stroke-width="0.2">0.2 mg/mL.</text>
<text x="384.7" y="258.2" font-family="Liberation Serif, serif" font-weight="bold" font-size="5" fill="#222222" stroke="#222222" stroke-width="0.2">Control</text>
<circle cx="424.2" cy="163.8" r="0.8" fill="#111"/>
<text x="425.5" y="165.7" font-family="Liberation Serif, serif" font-weight="bold" font-size="5.5" fill="#222">DMAPbI<tspan font-size="3.5" dy="1">3</tspan></text>
<circle cx="511.6" cy="163.2" r="0.8" fill="#111"/>
<text x="513" y="165.1" font-family="Liberation Serif, serif" font-weight="bold" font-size="5.5" fill="#222">PbI<tspan font-size="3.5" dy="1">2</tspan></text>
<filter id="noise" x="0" y="0" width="1" height="1"><feTurbulence type="fractalNoise" baseFrequency="0.9" numOctaves="1" seed="3"/><feColorMatrix values="0 0 0 0 0.1  0 0 0 0 0.2  0 0 0 0 1  0 0 0 0.5 0"/><feComposite in2="SourceGraphic" operator="in"/></filter>
<clipPath id="clipe0"><rect x="36.8" y="306.2" width="142.7" height="71.5"/></clipPath>
<rect x="36.8" y="306.2" width="142.7" height="71.5" fill="#0c10f0"/>
<g clip-path="url(#clipe0)">
<ellipse cx="74.1" cy="375.7" rx="92.9" ry="79.9" fill="none" stroke="#a0b0ff" stroke-opacity="0.32" stroke-width="2.8" filter="url(#soft)"/>
<ellipse cx="74.1" cy="375.7" rx="117.3" ry="101" fill="none" stroke="#a0b0ff" stroke-opacity="0.26" stroke-width="3.4" filter="url(#soft)"/>
<ellipse cx="74.1" cy="375.7" rx="56.5" ry="48.6" fill="none" stroke="#a0b0ff" stroke-opacity="0.25" stroke-width="1.0" pathLength="100" style="stroke-dasharray:0 70 10 20"/>
<ellipse cx="74.1" cy="375.7" rx="62.8" ry="54" fill="none" pathLength="100" stroke="#a4e04e" stroke-width="2.5"/>
<ellipse cx="74.1" cy="375.7" rx="62.8" ry="54" fill="none" pathLength="100" stroke="#e8e038" stroke-width="1.2" stroke-dasharray="0 71 10 4 5 10"/>
</g>
<rect x="36.8" y="306.2" width="142.7" height="71.5" fill="none" stroke="#111" stroke-width="1.6"/>
<line x1="42.7" y1="377.7" x2="42.7" y2="382.3" stroke="#111" stroke-width="1.6"/>
<text x="42.7" y="389.7" font-family="Liberation Sans, sans-serif" font-weight="bold" font-size="6.8" text-anchor="middle" fill="#222" stroke="#222" stroke-width="0.2">-0.5</text>
<line x1="74.1" y1="377.7" x2="74.1" y2="382.3" stroke="#111" stroke-width="1.6"/>
<text x="74.1" y="389.7" font-family="Liberation Sans, sans-serif" font-weight="bold" font-size="6.8" text-anchor="middle" fill="#222" stroke="#222" stroke-width="0.2">0</text>
<line x1="105.5" y1="377.7" x2="105.5" y2="382.3" stroke="#111" stroke-width="1.6"/>
<text x="105.5" y="389.7" font-family="Liberation Sans, sans-serif" font-weight="bold" font-size="6.8" text-anchor="middle" fill="#222" stroke="#222" stroke-width="0.2">0.5</text>
<line x1="136.8" y1="377.7" x2="136.8" y2="382.3" stroke="#111" stroke-width="1.6"/>
<text x="136.8" y="389.7" font-family="Liberation Sans, sans-serif" font-weight="bold" font-size="6.8" text-anchor="middle" fill="#222" stroke="#222" stroke-width="0.2">1.0</text>
<line x1="168.2" y1="377.7" x2="168.2" y2="382.3" stroke="#111" stroke-width="1.6"/>
<text x="168.2" y="389.7" font-family="Liberation Sans, sans-serif" font-weight="bold" font-size="6.8" text-anchor="middle" fill="#222" stroke="#222" stroke-width="0.2">1.5</text>
<line x1="31.8" y1="349.1" x2="36.8" y2="349.1" stroke="#111" stroke-width="1.6"/>
<text x="29.8" y="351.5" font-family="Liberation Sans, sans-serif" font-weight="bold" font-size="6.8" text-anchor="end" fill="#222" stroke="#222" stroke-width="0.2">0.5</text>
<line x1="31.8" y1="322.5" x2="36.8" y2="322.5" stroke="#111" stroke-width="1.6"/>
<text x="29.8" y="324.9" font-family="Liberation Sans, sans-serif" font-weight="bold" font-size="6.8" text-anchor="end" fill="#222" stroke="#222" stroke-width="0.2">1.0</text>
<text transform="translate(14.2,338.4) rotate(-90)" font-family="Liberation Sans, sans-serif" font-weight="bold" font-size="10.2" text-anchor="middle" fill="#222">q<tspan font-size="6.5" dy="1.8">z</tspan><tspan dy="-1.8"> / Å</tspan><tspan font-size="6.5" dy="-3.2">−1</tspan></text>
<text x="92.9" y="399.6" font-family="Liberation Sans, sans-serif" font-weight="bold" font-size="10.2" fill="#222">q<tspan font-size="6.5" dy="1.8">r</tspan><tspan dy="-1.8"> / Å</tspan><tspan font-size="6.5" dy="-3.2">−1</tspan></text>
<text x="54.4" y="375.1" font-family="Liberation Serif, serif" font-weight="bold" font-size="14" fill="#ffffff">Control</text>
<clipPath id="clipe1"><rect x="216.0" y="307.9" width="144" height="71.4"/></clipPath>
<rect x="216.0" y="307.9" width="144" height="71.4" fill="#0c10f0"/>
<g clip-path="url(#clipe1)">
<ellipse cx="254.2" cy="377.3" rx="92.9" ry="79.9" fill="none" stroke="#a0b0ff" stroke-opacity="0.32" stroke-width="2.8" filter="url(#soft)"/>
<ellipse cx="254.2" cy="377.3" rx="117.3" ry="101" fill="none" stroke="#a0b0ff" stroke-opacity="0.26" stroke-width="3.4" filter="url(#soft)"/>
<ellipse cx="254.2" cy="377.3" rx="56.5" ry="48.6" fill="none" stroke="#a0b0ff" stroke-opacity="0.25" stroke-width="1.0" pathLength="100" style="stroke-dasharray:0 70 10 20"/>
<ellipse cx="254.2" cy="377.3" rx="62.8" ry="54" fill="none" pathLength="100" stroke="#a4e04e" stroke-width="2.5"/>
<ellipse cx="254.2" cy="377.3" rx="62.8" ry="54" fill="none" pathLength="100" stroke="#e8e038" stroke-width="1.2" stroke-dasharray="0 71 10 4 5 10"/>
</g>
<rect x="216.0" y="307.9" width="144" height="71.4" fill="none" stroke="#111" stroke-width="1.6"/>
<line x1="222.8" y1="379.3" x2="222.8" y2="383.9" stroke="#111" stroke-width="1.6"/>
<text x="222.8" y="391.3" font-family="Liberation Sans, sans-serif" font-weight="bold" font-size="6.8" text-anchor="middle" fill="#222" stroke="#222" stroke-width="0.2">-0.5</text>
<line x1="254.2" y1="379.3" x2="254.2" y2="383.9" stroke="#111" stroke-width="1.6"/>
<text x="254.2" y="391.3" font-family="Liberation Sans, sans-serif" font-weight="bold" font-size="6.8" text-anchor="middle" fill="#222" stroke="#222" stroke-width="0.2">0</text>
<line x1="285.6" y1="379.3" x2="285.6" y2="383.9" stroke="#111" stroke-width="1.6"/>
<text x="285.6" y="391.3" font-family="Liberation Sans, sans-serif" font-weight="bold" font-size="6.8" text-anchor="middle" fill="#222" stroke="#222" stroke-width="0.2">0.5</text>
<line x1="316.9" y1="379.3" x2="316.9" y2="383.9" stroke="#111" stroke-width="1.6"/>
<text x="316.9" y="391.3" font-family="Liberation Sans, sans-serif" font-weight="bold" font-size="6.8" text-anchor="middle" fill="#222" stroke="#222" stroke-width="0.2">1.0</text>
<line x1="348.3" y1="379.3" x2="348.3" y2="383.9" stroke="#111" stroke-width="1.6"/>
<text x="348.3" y="391.3" font-family="Liberation Sans, sans-serif" font-weight="bold" font-size="6.8" text-anchor="middle" fill="#222" stroke="#222" stroke-width="0.2">1.5</text>
<line x1="211" y1="350.7" x2="216.0" y2="350.7" stroke="#111" stroke-width="1.6"/>
<text x="209" y="353.1" font-family="Liberation Sans, sans-serif" font-weight="bold" font-size="6.8" text-anchor="end" fill="#222" stroke="#222" stroke-width="0.2">0.5</text>
<line x1="211" y1="324.1" x2="216.0" y2="324.1" stroke="#111" stroke-width="1.6"/>
<text x="209" y="326.5" font-family="Liberation Sans, sans-serif" font-weight="bold" font-size="6.8" text-anchor="end" fill="#222" stroke="#222" stroke-width="0.2">1.0</text>
<text transform="translate(193.4,340.1) rotate(-90)" font-family="Liberation Sans, sans-serif" font-weight="bold" font-size="10.2" text-anchor="middle" fill="#222">q<tspan font-size="6.5" dy="1.8">z</tspan><tspan dy="-1.8"> / Å</tspan><tspan font-size="6.5" dy="-3.2">−1</tspan></text>
<text x="273" y="401.2" font-family="Liberation Sans, sans-serif" font-weight="bold" font-size="10.2" fill="#222">q<tspan font-size="6.5" dy="1.8">r</tspan><tspan dy="-1.8"> / Å</tspan><tspan font-size="6.5" dy="-3.2">−1</tspan></text>
<text x="223" y="376.7" font-family="Liberation Serif, serif" font-weight="bold" font-size="14" fill="#ffffff">0.5 mg/mL</text>
<clipPath id="clipe2"><rect x="395.3" y="307.8" width="143.4" height="71.4"/></clipPath>
<rect x="395.3" y="307.8" width="143.4" height="71.4" fill="#0c10f0"/>
<g clip-path="url(#clipe2)">
<ellipse cx="433.7" cy="378.2" rx="92.9" ry="79.9" fill="none" stroke="#a0b0ff" stroke-opacity="0.32" stroke-width="2.8" filter="url(#soft)"/>
<ellipse cx="433.7" cy="378.2" rx="117.3" ry="101" fill="none" stroke="#a0b0ff" stroke-opacity="0.26" stroke-width="3.4" filter="url(#soft)"/>
<ellipse cx="433.7" cy="378.2" rx="50.2" ry="43.2" fill="none" stroke="#a0b0ff" stroke-opacity="0.35" stroke-width="1.1" pathLength="100" stroke-dasharray="0 64 27 9"/>
<ellipse cx="433.7" cy="378.2" rx="62.8" ry="54" fill="none" pathLength="100" stroke="#a0c4dc" stroke-width="2.6"/>
<ellipse cx="433.7" cy="378.2" rx="62.8" ry="54" fill="none" pathLength="100" stroke="#84d864" stroke-width="2.6" stroke-dasharray="0 66 15 4 15"/>
<ellipse cx="433.7" cy="378.2" rx="62.8" ry="54" fill="none" pathLength="100" stroke="#ecd83c" stroke-width="1.6" stroke-dasharray="0 71 8 7 5 9"/>
<ellipse cx="433.7" cy="378.2" rx="62.8" ry="54" fill="none" pathLength="100" stroke="#f06a28" stroke-width="1.0" stroke-dasharray="0 73.5 3.5 10.5 2 10.5"/>
</g>
<rect x="395.3" y="307.8" width="143.4" height="71.4" fill="none" stroke="#111" stroke-width="1.6"/>
<line x1="402.3" y1="379.2" x2="402.3" y2="383.8" stroke="#111" stroke-width="1.6"/>
<text x="402.3" y="391.2" font-family="Liberation Sans, sans-serif" font-weight="bold" font-size="6.8" text-anchor="middle" fill="#222" stroke="#222" stroke-width="0.2">-0.5</text>
<line x1="433.7" y1="379.2" x2="433.7" y2="383.8" stroke="#111" stroke-width="1.6"/>
<text x="433.7" y="391.2" font-family="Liberation Sans, sans-serif" font-weight="bold" font-size="6.8" text-anchor="middle" fill="#222" stroke="#222" stroke-width="0.2">0</text>
<line x1="465.1" y1="379.2" x2="465.1" y2="383.8" stroke="#111" stroke-width="1.6"/>
<text x="465.1" y="391.2" font-family="Liberation Sans, sans-serif" font-weight="bold" font-size="6.8" text-anchor="middle" fill="#222" stroke="#222" stroke-width="0.2">0.5</text>
<line x1="496.4" y1="379.2" x2="496.4" y2="383.8" stroke="#111" stroke-width="1.6"/>
<text x="496.4" y="391.2" font-family="Liberation Sans, sans-serif" font-weight="bold" font-size="6.8" text-anchor="middle" fill="#222" stroke="#222" stroke-width="0.2">1.0</text>
<line x1="527.8" y1="379.2" x2="527.8" y2="383.8" stroke="#111" stroke-width="1.6"/>
<text x="527.8" y="391.2" font-family="Liberation Sans, sans-serif" font-weight="bold" font-size="6.8" text-anchor="middle" fill="#222" stroke="#222" stroke-width="0.2">1.5</text>
<line x1="390.3" y1="351.6" x2="395.3" y2="351.6" stroke="#111" stroke-width="1.6"/>
<text x="388.3" y="354" font-family="Liberation Sans, sans-serif" font-weight="bold" font-size="6.8" text-anchor="end" fill="#222" stroke="#222" stroke-width="0.2">0.5</text>
<line x1="390.3" y1="325" x2="395.3" y2="325" stroke="#111" stroke-width="1.6"/>
<text x="388.3" y="327.4" font-family="Liberation Sans, sans-serif" font-weight="bold" font-size="6.8" text-anchor="end" fill="#222" stroke="#222" stroke-width="0.2">1.0</text>
<text transform="translate(372.7,340) rotate(-90)" font-family="Liberation Sans, sans-serif" font-weight="bold" font-size="10.2" text-anchor="middle" fill="#222">q<tspan font-size="6.5" dy="1.8">z</tspan><tspan dy="-1.8"> / Å</tspan><tspan font-size="6.5" dy="-3.2">−1</tspan></text>
<text x="452.5" y="401.1" font-family="Liberation Sans, sans-serif" font-weight="bold" font-size="10.2" fill="#222">q<tspan font-size="6.5" dy="1.8">r</tspan><tspan dy="-1.8"> / Å</tspan><tspan font-size="6.5" dy="-3.2">−1</tspan></text>
<text x="402.4" y="376.6" font-family="Liberation Serif, serif" font-weight="bold" font-size="14" fill="#ffffff">10 mg/mL</text>
<text x="5.8" y="308.7" font-family="Liberation Serif, serif" font-weight="bold" font-size="17" fill="#111">(e)</text>
<text x="5.2" y="16.8" font-family="Liberation Serif, serif" font-weight="bold" font-size="16" fill="#111">(a)</text>
<g stroke="#111" stroke-width="1.5" fill="#111">
<line x1="35.1" y1="43.3" x2="35.1" y2="29"/><polygon points="35.1,26.6 33.1,31.5 37.1,31.5" stroke="none"/>
<line x1="35.1" y1="43.3" x2="48" y2="43.3"/><polygon points="51.8,43.3 46.8,41.3 46.8,45.3" stroke="none"/>
<circle cx="35.1" cy="43.3" r="2" stroke="none"/>
</g>
<text x="31.2" y="24" font-family="Liberation Serif, serif" font-size="13.5" fill="#111">y</text>
<text x="55" y="46.6" font-family="Liberation Serif, serif" font-size="14" fill="#111">x</text>
<text x="33.2" y="56.4" font-family="Liberation Serif, serif" font-size="14" fill="#111">z</text>
<line x1="50.8" y1="59.5" x2="59.7" y2="66.8" stroke="#f0b838" stroke-width="1.3" stroke-linecap="round"/>
<line x1="50.8" y1="59.5" x2="50.8" y2="52.8" stroke="#f0b838" stroke-width="1.3" stroke-linecap="round"/>
<line x1="50.8" y1="59.5" x2="43.2" y2="63.4" stroke="#f0b838" stroke-width="1.3" stroke-linecap="round"/>
<line x1="50.8" y1="59.5" x2="46.5" y2="56.5" stroke="#f0b838" stroke-width="1.3" stroke-linecap="round"/>
<line x1="59.7" y1="66.8" x2="62.3" y2="58.9" stroke="#f0b838" stroke-width="1.3" stroke-linecap="round"/>
<line x1="59.7" y1="66.8" x2="52.7" y2="69.1" stroke="#f0b838" stroke-width="1.3" stroke-linecap="round"/>
<line x1="59.7" y1="66.8" x2="58.8" y2="74.2" stroke="#f0b838" stroke-width="1.3" stroke-linecap="round"/>
<line x1="59.7" y1="66.8" x2="66.5" y2="65.3" stroke="#f0b838" stroke-width="1.3" stroke-linecap="round"/>
<line x1="59.7" y1="66.8" x2="66.1" y2="71.6" stroke="#f0b838" stroke-width="1.3" stroke-linecap="round"/>
<circle cx="50.8" cy="59.5" r="2.1" fill="url(#sC)"/>
<circle cx="59.7" cy="66.8" r="2.1" fill="url(#sB)"/>
<circle cx="50.8" cy="52.8" r="1" fill="url(#sW)"/>
<circle cx="43.2" cy="63.4" r="1" fill="url(#sW)"/>
<circle cx="46.5" cy="56.5" r="1" fill="url(#sW)"/>
<circle cx="62.3" cy="58.9" r="1" fill="url(#sW)"/>
<circle cx="52.7" cy="69.1" r="1" fill="url(#sW)"/>
<circle cx="58.8" cy="74.2" r="1" fill="url(#sW)"/>
<circle cx="66.5" cy="65.3" r="1" fill="url(#sW)"/>
<circle cx="66.1" cy="71.6" r="1" fill="url(#sW)"/>
<line x1="90.6" y1="79.6" x2="89" y2="81.2" stroke="#f0b838" stroke-width="1.3" stroke-linecap="round"/>
<line x1="89" y1="81.2" x2="98.5" y2="88.2" stroke="#f0b838" stroke-width="1.3" stroke-linecap="round"/>
<line x1="89" y1="81.2" x2="82" y2="77.4" stroke="#f0b838" stroke-width="1.3" stroke-linecap="round"/>
<line x1="90.6" y1="79.6" x2="90.3" y2="74.2" stroke="#f0b838" stroke-width="1.3" stroke-linecap="round"/>
<line x1="89" y1="81.2" x2="83.9" y2="84.4" stroke="#f0b838" stroke-width="1.3" stroke-linecap="round"/>
<line x1="89" y1="81.2" x2="87.7" y2="89.4" stroke="#f0b838" stroke-width="1.3" stroke-linecap="round"/>
<line x1="90.6" y1="79.6" x2="94.7" y2="79.9" stroke="#f0b838" stroke-width="1.3" stroke-linecap="round"/>
<line x1="98.5" y1="88.2" x2="106.2" y2="85" stroke="#f0b838" stroke-width="1.3" stroke-linecap="round"/>
<line x1="98.5" y1="88.2" x2="103" y2="90.7" stroke="#f0b838" stroke-width="1.3" stroke-linecap="round"/>
<line x1="98.5" y1="88.2" x2="99.2" y2="93.3" stroke="#f0b838" stroke-width="1.3" stroke-linecap="round"/>
<circle cx="90.6" cy="79.6" r="2.1" fill="url(#sB)"/>
<circle cx="89" cy="81.2" r="2.1" fill="url(#sC)"/>
<circle cx="98.5" cy="88.2" r="2.1" fill="url(#sC)"/>
<circle cx="82" cy="77.4" r="1" fill="url(#sW)"/>
<circle cx="90.3" cy="74.2" r="1" fill="url(#sW)"/>
<circle cx="83.9" cy="84.4" r="1" fill="url(#sW)"/>
<circle cx="87.7" cy="89.4" r="1" fill="url(#sW)"/>
<circle cx="94.7" cy="79.9" r="1" fill="url(#sW)"/>
<circle cx="106.2" cy="85" r="1" fill="url(#sW)"/>
<circle cx="103" cy="90.7" r="1" fill="url(#sW)"/>
<circle cx="99.2" cy="93.3" r="1" fill="url(#sW)"/>
<line x1="125.4" y1="59.8" x2="134.3" y2="67.1" stroke="#f0b838" stroke-width="1.3" stroke-linecap="round"/>
<line x1="125.4" y1="59.8" x2="125.4" y2="53.1" stroke="#f0b838" stroke-width="1.3" stroke-linecap="round"/>
<line x1="125.4" y1="59.8" x2="117.8" y2="63.7" stroke="#f0b838" stroke-width="1.3" stroke-linecap="round"/>
<line x1="125.4" y1="59.8" x2="121.1" y2="56.8" stroke="#f0b838" stroke-width="1.3" stroke-linecap="round"/>
<line x1="134.3" y1="67.1" x2="136.9" y2="59.2" stroke="#f0b838" stroke-width="1.3" stroke-linecap="round"/>
<line x1="134.3" y1="67.1" x2="127.3" y2="69.4" stroke="#f0b838" stroke-width="1.3" stroke-linecap="round"/>
<line x1="134.3" y1="67.1" x2="133.4" y2="74.5" stroke="#f0b838" stroke-width="1.3" stroke-linecap="round"/>
<line x1="134.3" y1="67.1" x2="141.1" y2="65.6" stroke="#f0b838" stroke-width="1.3" stroke-linecap="round"/>
<line x1="134.3" y1="67.1" x2="140.7" y2="71.9" stroke="#f0b838" stroke-width="1.3" stroke-linecap="round"/>
<circle cx="125.4" cy="59.8" r="2.1" fill="url(#sC)"/>
<circle cx="134.3" cy="67.1" r="2.1" fill="url(#sB)"/>
<circle cx="125.4" cy="53.1" r="1" fill="url(#sW)"/>
<circle cx="117.8" cy="63.7" r="1" fill="url(#sW)"/>
<circle cx="121.1" cy="56.8" r="1" fill="url(#sW)"/>
<circle cx="136.9" cy="59.2" r="1" fill="url(#sW)"/>
<circle cx="127.3" cy="69.4" r="1" fill="url(#sW)"/>
<circle cx="133.4" cy="74.5" r="1" fill="url(#sW)"/>
<circle cx="141.1" cy="65.6" r="1" fill="url(#sW)"/>
<circle cx="140.7" cy="71.9" r="1" fill="url(#sW)"/>
<line x1="165.6" y1="79.6" x2="164" y2="81.2" stroke="#f0b838" stroke-width="1.3" stroke-linecap="round"/>
<line x1="164" y1="81.2" x2="173.5" y2="88.2" stroke="#f0b838" stroke-width="1.3" stroke-linecap="round"/>
<line x1="164" y1="81.2" x2="157" y2="77.4" stroke="#f0b838" stroke-width="1.3" stroke-linecap="round"/>
<line x1="165.6" y1="79.6" x2="165.3" y2="74.2" stroke="#f0b838" stroke-width="1.3" stroke-linecap="round"/>
<line x1="164" y1="81.2" x2="158.9" y2="84.4" stroke="#f0b838" stroke-width="1.3" stroke-linecap="round"/>
<line x1="164" y1="81.2" x2="162.7" y2="89.4" stroke="#f0b838" stroke-width="1.3" stroke-linecap="round"/>
<line x1="165.6" y1="79.6" x2="169.7" y2="79.9" stroke="#f0b838" stroke-width="1.3" stroke-linecap="round"/>
<line x1="173.5" y1="88.2" x2="181.2" y2="85" stroke="#f0b838" stroke-width="1.3" stroke-linecap="round"/>
<line x1="173.5" y1="88.2" x2="178" y2="90.7" stroke="#f0b838" stroke-width="1.3" stroke-linecap="round"/>
<line x1="173.5" y1="88.2" x2="174.2" y2="93.3" stroke="#f0b838" stroke-width="1.3" stroke-linecap="round"/>
<circle cx="165.6" cy="79.6" r="2.1" fill="url(#sB)"/>
<circle cx="164" cy="81.2" r="2.1" fill="url(#sC)"/>
<circle cx="173.5" cy="88.2" r="2.1" fill="url(#sC)"/>
<circle cx="157" cy="77.4" r="1" fill="url(#sW)"/>
<circle cx="165.3" cy="74.2" r="1" fill="url(#sW)"/>
<circle cx="158.9" cy="84.4" r="1" fill="url(#sW)"/>
<circle cx="162.7" cy="89.4" r="1" fill="url(#sW)"/>
<circle cx="169.7" cy="79.9" r="1" fill="url(#sW)"/>
<circle cx="181.2" cy="85" r="1" fill="url(#sW)"/>
<circle cx="178" cy="90.7" r="1" fill="url(#sW)"/>
<circle cx="174.2" cy="93.3" r="1" fill="url(#sW)"/>
<polygon points="91.6,21.4 109.4,30.9 109.8,55.2 91,64.7 71.8,52.7 72.2,33.9" fill="#c88ede" stroke="#e24a82" stroke-width="0.9" stroke-linejoin="round"/>
<polygon points="72.2,33.9 71.8,52.7 87.6,45.2" fill="#a47ac2" stroke="none" stroke-width="0.6" stroke-linejoin="round"/>
<polygon points="71.8,52.7 91,64.7 87.6,45.2" fill="#ae82ca" stroke="none" stroke-width="0.6" stroke-linejoin="round"/>
<polygon points="72.2,33.9 109.4,30.9 91,64.7" fill="#d49ce6" stroke="#e24a82" stroke-width="0.7" stroke-linejoin="round"/>
<line x1="91.6" y1="21.4" x2="71.8" y2="52.7" stroke="#e24a82" stroke-width="0.6"/>
<line x1="91.6" y1="21.4" x2="109.8" y2="55.2" stroke="#e24a82" stroke-width="0.6"/>
<line x1="71.8" y1="52.7" x2="109.8" y2="55.2" stroke="#e24a82" stroke-width="0.6"/>
<polygon points="91.6,21.4 109.4,30.9 109.8,55.2 91,64.7 71.8,52.7 72.2,33.9" fill="none" stroke="#e03a7c" stroke-width="1.3"/>
<circle cx="91.6" cy="43.2" r="5.3" fill="url(#sT)"/>
<circle cx="91.6" cy="21.4" r="4.9" fill="url(#sR)"/>
<circle cx="109.4" cy="30.9" r="4.9" fill="url(#sR)"/>
<circle cx="109.8" cy="55.2" r="4.9" fill="url(#sR)"/>
<circle cx="91" cy="64.7" r="4.9" fill="url(#sR)"/>
<circle cx="71.8" cy="52.7" r="4.9" fill="url(#sR)"/>
<circle cx="72.2" cy="33.9" r="4.9" fill="url(#sR)"/>
<polygon points="165.8,21.8 183.6,31.3 184,55.6 165.2,65.1 146,53.1 146.4,34.3" fill="#c88ede" stroke="#e24a82" stroke-width="0.9" stroke-linejoin="round"/>
<polygon points="146.4,34.3 146,53.1 161.8,45.6" fill="#a47ac2" stroke="none" stroke-width="0.6" stroke-linejoin="round"/>
<polygon points="146,53.1 165.2,65.1 161.8,45.6" fill="#ae82ca" stroke="none" stroke-width="0.6" stroke-linejoin="round"/>
<polygon points="146.4,34.3 183.6,31.3 165.2,65.1" fill="#d49ce6" stroke="#e24a82" stroke-width="0.7" stroke-linejoin="round"/>
<line x1="165.8" y1="21.8" x2="146" y2="53.1" stroke="#e24a82" stroke-width="0.6"/>
<line x1="165.8" y1="21.8" x2="184" y2="55.6" stroke="#e24a82" stroke-width="0.6"/>
<line x1="146" y1="53.1" x2="184" y2="55.6" stroke="#e24a82" stroke-width="0.6"/>
<polygon points="165.8,21.8 183.6,31.3 184,55.6 165.2,65.1 146,53.1 146.4,34.3" fill="none" stroke="#e03a7c" stroke-width="1.3"/>
<circle cx="165.8" cy="43.6" r="5.3" fill="url(#sT)"/>
<circle cx="165.8" cy="21.8" r="4.9" fill="url(#sR)"/>
<circle cx="183.6" cy="31.3" r="4.9" fill="url(#sR)"/>
<circle cx="184" cy="55.6" r="4.9" fill="url(#sR)"/>
<circle cx="165.2" cy="65.1" r="4.9" fill="url(#sR)"/>
<circle cx="146" cy="53.1" r="4.9" fill="url(#sR)"/>
<circle cx="146.4" cy="34.3" r="4.9" fill="url(#sR)"/>
<polygon points="57.8,82.4 75.6,91.9 76,116.2 57.2,125.7 38,113.7 38.4,94.9" fill="#c88ede" stroke="#e24a82" stroke-width="0.9" stroke-linejoin="round"/>
<polygon points="38.4,94.9 38,113.7 53.8,106.2" fill="#a47ac2" stroke="none" stroke-width="0.6" stroke-linejoin="round"/>
<polygon points="38,113.7 57.2,125.7 53.8,106.2" fill="#ae82ca" stroke="none" stroke-width="0.6" stroke-linejoin="round"/>
<polygon points="38.4,94.9 75.6,91.9 57.2,125.7" fill="#d49ce6" stroke="#e24a82" stroke-width="0.7" stroke-linejoin="round"/>
<line x1="57.8" y1="82.4" x2="38" y2="113.7" stroke="#e24a82" stroke-width="0.6"/>
<line x1="57.8" y1="82.4" x2="76" y2="116.2" stroke="#e24a82" stroke-width="0.6"/>
<line x1="38" y1="113.7" x2="76" y2="116.2" stroke="#e24a82" stroke-width="0.6"/>
<polygon points="57.8,82.4 75.6,91.9 76,116.2 57.2,125.7 38,113.7 38.4,94.9" fill="none" stroke="#e03a7c" stroke-width="1.3"/>
<circle cx="57.8" cy="104.2" r="5.3" fill="url(#sT)"/>
<circle cx="57.8" cy="82.4" r="4.9" fill="url(#sR)"/>
<circle cx="75.6" cy="91.9" r="4.9" fill="url(#sR)"/>
<circle cx="76" cy="116.2" r="4.9" fill="url(#sR)"/>
<circle cx="57.2" cy="125.7" r="4.9" fill="url(#sR)"/>
<circle cx="38" cy="113.7" r="4.9" fill="url(#sR)"/>
<circle cx="38.4" cy="94.9" r="4.9" fill="url(#sR)"/>
<polygon points="132.6,82.6 150.4,92.1 150.8,116.4 132,125.9 112.8,113.9 113.2,95.1" fill="#c88ede" stroke="#e24a82" stroke-width="0.9" stroke-linejoin="round"/>
<polygon points="113.2,95.1 112.8,113.9 128.6,106.4" fill="#a47ac2" stroke="none" stroke-width="0.6" stroke-linejoin="round"/>
<polygon points="112.8,113.9 132,125.9 128.6,106.4" fill="#ae82ca" stroke="none" stroke-width="0.6" stroke-linejoin="round"/>
<polygon points="113.2,95.1 150.4,92.1 132,125.9" fill="#d49ce6" stroke="#e24a82" stroke-width="0.7" stroke-linejoin="round"/>
<line x1="132.6" y1="82.6" x2="112.8" y2="113.9" stroke="#e24a82" stroke-width="0.6"/>
<line x1="132.6" y1="82.6" x2="150.8" y2="116.4" stroke="#e24a82" stroke-width="0.6"/>
<line x1="112.8" y1="113.9" x2="150.8" y2="116.4" stroke="#e24a82" stroke-width="0.6"/>
<polygon points="132.6,82.6 150.4,92.1 150.8,116.4 132,125.9 112.8,113.9 113.2,95.1" fill="none" stroke="#e03a7c" stroke-width="1.3"/>
<circle cx="132.6" cy="104.4" r="5.3" fill="url(#sT)"/>
<circle cx="132.6" cy="82.6" r="4.9" fill="url(#sR)"/>
<circle cx="150.4" cy="92.1" r="4.9" fill="url(#sR)"/>
<circle cx="150.8" cy="116.4" r="4.9" fill="url(#sR)"/>
<circle cx="132" cy="125.9" r="4.9" fill="url(#sR)"/>
<circle cx="112.8" cy="113.9" r="4.9" fill="url(#sR)"/>
<circle cx="113.2" cy="95.1" r="4.9" fill="url(#sR)"/>
<g stroke="#111" stroke-width="1.5" fill="#111">
<line x1="218.9" y1="37.8" x2="218.9" y2="24"/><polygon points="218.9,20.4 216.9,25.4 220.9,25.4" stroke="none"/>
<line x1="218.9" y1="37.8" x2="233" y2="37.8"/><polygon points="237.4,37.8 232.4,35.8 232.4,39.8" stroke="none"/>
<circle cx="218.9" cy="37.8" r="2" stroke="none"/>
</g>
<text x="217.6" y="18.9" font-family="Liberation Serif, serif" font-size="13.5" fill="#111">z</text>
<text x="211" y="40.1" font-family="Liberation Serif, serif" font-size="13.5" fill="#111">x</text>
<text x="241.2" y="39.6" font-family="Liberation Serif, serif" font-size="13.5" fill="#111">y</text>
<polygon points="248,18 285.5,16.2 289,42 254,38.7" fill="#cca4de" stroke="#e24a82" stroke-width="0.8" stroke-linejoin="round"/>
<polygon points="249.5,18 269.7,15 255.5,38.7" fill="#b49ad0" stroke="#e24a82" stroke-width="0.5" stroke-linejoin="round"/>
<polygon points="269.7,15 255.5,38.7 279.7,42.1" fill="#c6a8e0" stroke="#e24a82" stroke-width="0.5" stroke-linejoin="round"/>
<polygon points="269.7,15 284,16.2 287.5,42 279.7,42.1" fill="#dcbae8" stroke="#e24a82" stroke-width="0.5" stroke-linejoin="round"/>
<polygon points="254,38.7 289,42 283.8,64.6 247.1,65.8" fill="#cca4de" stroke="#e24a82" stroke-width="0.8" stroke-linejoin="round"/>
<polygon points="255.5,38.7 269,62.9 248.6,65.8" fill="#a68cc6" stroke="#e24a82" stroke-width="0.5" stroke-linejoin="round"/>
<polygon points="257.5,39.7 279.7,42.1 269,62.9" fill="#e6dcec" stroke="#e24a82" stroke-width="0.6" stroke-linejoin="round"/>
<polygon points="279.7,42.1 287.5,42 282.3,64.6 269,62.9" fill="#d4aee4" stroke="#e24a82" stroke-width="0.5" stroke-linejoin="round"/>
<polygon points="247.1,65.8 283.8,64.6 287.8,89.9 253.2,87.3" fill="#cca4de" stroke="#e24a82" stroke-width="0.8" stroke-linejoin="round"/>
<polygon points="248.6,65.8 276.3,61.1 254.7,87.3" fill="#b49ad0" stroke="#e24a82" stroke-width="0.5" stroke-linejoin="round"/>
<polygon points="276.3,61.1 254.7,87.3 279.4,90.7" fill="#c6a8e0" stroke="#e24a82" stroke-width="0.5" stroke-linejoin="round"/>
<polygon points="276.3,61.1 282.3,64.6 286.3,89.9 279.4,90.7" fill="#dcbae8" stroke="#e24a82" stroke-width="0.5" stroke-linejoin="round"/>
<polygon points="253.2,87.3 287.8,89.9 283,112 246.3,114" fill="#cca4de" stroke="#e24a82" stroke-width="0.8" stroke-linejoin="round"/>
<polygon points="254.7,87.3 267.6,111.5 247.8,114" fill="#a68cc6" stroke="#e24a82" stroke-width="0.5" stroke-linejoin="round"/>
<polygon points="256.7,88.3 279.4,90.7 267.6,111.5" fill="#e6dcec" stroke="#e24a82" stroke-width="0.6" stroke-linejoin="round"/>
<polygon points="279.4,90.7 286.3,89.9 281.5,112 267.6,111.5" fill="#d4aee4" stroke="#e24a82" stroke-width="0.5" stroke-linejoin="round"/>
<polygon points="246.3,114 283,112 286.4,137.4 252.3,134.8" fill="#cca4de" stroke="#e24a82" stroke-width="0.8" stroke-linejoin="round"/>
<polygon points="247.8,114 275.4,110.6 253.8,134.8" fill="#b49ad0" stroke="#e24a82" stroke-width="0.5" stroke-linejoin="round"/>
<polygon points="275.4,110.6 253.8,134.8 276.3,137.4" fill="#c6a8e0" stroke="#e24a82" stroke-width="0.5" stroke-linejoin="round"/>
<polygon points="275.4,110.6 281.5,112 284.9,137.4 276.3,137.4" fill="#dcbae8" stroke="#e24a82" stroke-width="0.5" stroke-linejoin="round"/>
<circle cx="265.6" cy="29.2" r="3.5" fill="url(#sT)"/>
<circle cx="264.2" cy="52.5" r="3.5" fill="url(#sTy)"/>
<circle cx="264.2" cy="76.9" r="3.5" fill="url(#sT)"/>
<circle cx="263.3" cy="101.1" r="3.5" fill="url(#sTy)"/>
<circle cx="263.3" cy="125.3" r="3.5" fill="url(#sT)"/>
<circle cx="249.5" cy="18" r="3.2" fill="url(#sR)"/>
<circle cx="257.3" cy="16.2" r="3.2" fill="url(#sR)"/>
<circle cx="269.7" cy="15" r="3.2" fill="url(#sR)"/>
<circle cx="277.1" cy="12.8" r="3.2" fill="url(#sR)"/>
<circle cx="276.3" cy="17.1" r="3.2" fill="url(#sR)"/>
<circle cx="284" cy="16.2" r="3.2" fill="url(#sR)"/>
<circle cx="255.5" cy="38.7" r="3.2" fill="url(#sR)"/>
<circle cx="279.7" cy="42.1" r="3.2" fill="url(#sR)"/>
<circle cx="287.5" cy="42" r="3.2" fill="url(#sR)"/>
<circle cx="248.6" cy="65.8" r="3.2" fill="url(#sR)"/>
<circle cx="269" cy="62.9" r="3.2" fill="url(#sR)"/>
<circle cx="276.3" cy="61.1" r="3.2" fill="url(#sR)"/>
<circle cx="275.4" cy="65.8" r="3.2" fill="url(#sR)"/>
<circle cx="282.3" cy="64.6" r="3.2" fill="url(#sR)"/>
<circle cx="254.7" cy="87.3" r="3.2" fill="url(#sR)"/>
<circle cx="279.4" cy="90.7" r="3.2" fill="url(#sR)"/>
<circle cx="286.3" cy="89.9" r="3.2" fill="url(#sR)"/>
<circle cx="247.8" cy="114" r="3.2" fill="url(#sR)"/>
<circle cx="267.6" cy="111.5" r="3.2" fill="url(#sR)"/>
<circle cx="275.4" cy="110.6" r="3.2" fill="url(#sR)"/>
<circle cx="274.5" cy="114" r="3.2" fill="url(#sR)"/>
<circle cx="281.5" cy="112" r="3.2" fill="url(#sR)"/>
<circle cx="253.8" cy="134.8" r="3.2" fill="url(#sR)"/>
<circle cx="276.3" cy="137.4" r="3.2" fill="url(#sR)"/>
<circle cx="284.9" cy="137.4" r="3.2" fill="url(#sR)"/>
<polygon points="288.9,13.6 324.4,16.2 329.5,37 292.9,38.7" fill="#cca4de" stroke="#e24a82" stroke-width="0.8" stroke-linejoin="round"/>
<polygon points="290.4,13.6 312.5,15 294.4,38.7" fill="#b49ad0" stroke="#e24a82" stroke-width="0.5" stroke-linejoin="round"/>
<polygon points="312.5,15 294.4,38.7 320.3,37.8" fill="#c6a8e0" stroke="#e24a82" stroke-width="0.5" stroke-linejoin="round"/>
<polygon points="312.5,15 322.9,16.2 328,37 320.3,37.8" fill="#dcbae8" stroke="#e24a82" stroke-width="0.5" stroke-linejoin="round"/>
<polygon points="292.9,38.7 329.5,37 320.9,64.6 288.2,62" fill="#cca4de" stroke="#e24a82" stroke-width="0.8" stroke-linejoin="round"/>
<polygon points="294.4,38.7 311.7,62.9 289.7,62" fill="#a68cc6" stroke="#e24a82" stroke-width="0.5" stroke-linejoin="round"/>
<polygon points="296.4,39.7 320.3,37.8 311.7,62.9" fill="#e6dcec" stroke="#e24a82" stroke-width="0.6" stroke-linejoin="round"/>
<polygon points="320.3,37.8 328,37 319.4,64.6 311.7,62.9" fill="#d4aee4" stroke="#e24a82" stroke-width="0.5" stroke-linejoin="round"/>
<polygon points="288.2,62 320.9,64.6 328.7,84.7 292,87.3" fill="#cca4de" stroke="#e24a82" stroke-width="0.8" stroke-linejoin="round"/>
<polygon points="289.7,62 319.4,64.6 293.5,87.3" fill="#b49ad0" stroke="#e24a82" stroke-width="0.5" stroke-linejoin="round"/>
<polygon points="319.4,64.6 293.5,87.3 319.4,86.4" fill="#c6a8e0" stroke="#e24a82" stroke-width="0.5" stroke-linejoin="round"/>
<polygon points="319.4,64.6 319.4,64.6 327.2,84.7 319.4,86.4" fill="#dcbae8" stroke="#e24a82" stroke-width="0.5" stroke-linejoin="round"/>
<polygon points="292,87.3 328.7,84.7 321.8,112.3 286.9,110" fill="#cca4de" stroke="#e24a82" stroke-width="0.8" stroke-linejoin="round"/>
<polygon points="293.5,87.3 310.5,111.5 288.4,110" fill="#a68cc6" stroke="#e24a82" stroke-width="0.5" stroke-linejoin="round"/>
<polygon points="295.5,88.3 319.4,86.4 310.5,111.5" fill="#e6dcec" stroke="#e24a82" stroke-width="0.6" stroke-linejoin="round"/>
<polygon points="319.4,86.4 327.2,84.7 320.3,112.3 310.5,111.5" fill="#d4aee4" stroke="#e24a82" stroke-width="0.5" stroke-linejoin="round"/>
<polygon points="286.9,110 321.8,112.3 327,133 290.3,135.3" fill="#cca4de" stroke="#e24a82" stroke-width="0.8" stroke-linejoin="round"/>
<polygon points="288.4,110 318.1,110 291.8,135.3" fill="#b49ad0" stroke="#e24a82" stroke-width="0.5" stroke-linejoin="round"/>
<polygon points="318.1,110 291.8,135.3 317.7,134.8" fill="#c6a8e0" stroke="#e24a82" stroke-width="0.5" stroke-linejoin="round"/>
<polygon points="318.1,110 320.3,112.3 325.5,133 317.7,134.8" fill="#dcbae8" stroke="#e24a82" stroke-width="0.5" stroke-linejoin="round"/>
<circle cx="305.6" cy="27.5" r="3.5" fill="url(#sT)"/>
<circle cx="305.6" cy="50.8" r="3.5" fill="url(#sTy)"/>
<circle cx="304.8" cy="76" r="3.5" fill="url(#sT)"/>
<circle cx="304.8" cy="99.4" r="3.5" fill="url(#sTy)"/>
<circle cx="303" cy="123.5" r="3.5" fill="url(#sT)"/>
<circle cx="290.4" cy="13.6" r="3.2" fill="url(#sR)"/>
<circle cx="298.7" cy="11.9" r="3.2" fill="url(#sR)"/>
<circle cx="312.5" cy="15" r="3.2" fill="url(#sR)"/>
<circle cx="320.3" cy="13.6" r="3.2" fill="url(#sR)"/>
<circle cx="322.9" cy="16.2" r="3.2" fill="url(#sR)"/>
<circle cx="294.4" cy="38.7" r="3.2" fill="url(#sR)"/>
<circle cx="320.3" cy="37.8" r="3.2" fill="url(#sR)"/>
<circle cx="328" cy="37" r="3.2" fill="url(#sR)"/>
<circle cx="289.7" cy="62" r="3.2" fill="url(#sR)"/>
<circle cx="311.7" cy="62.9" r="3.2" fill="url(#sR)"/>
<circle cx="319.4" cy="64.6" r="3.2" fill="url(#sR)"/>
<circle cx="293.5" cy="87.3" r="3.2" fill="url(#sR)"/>
<circle cx="319.4" cy="86.4" r="3.2" fill="url(#sR)"/>
<circle cx="327.2" cy="84.7" r="3.2" fill="url(#sR)"/>
<circle cx="288.4" cy="110" r="3.2" fill="url(#sR)"/>
<circle cx="310.5" cy="111.5" r="3.2" fill="url(#sR)"/>
<circle cx="318.1" cy="110" r="3.2" fill="url(#sR)"/>
<circle cx="320.3" cy="112.3" r="3.2" fill="url(#sR)"/>
<circle cx="291.8" cy="135.3" r="3.2" fill="url(#sR)"/>
<circle cx="317.7" cy="134.8" r="3.2" fill="url(#sR)"/>
<circle cx="325.5" cy="133" r="3.2" fill="url(#sR)"/>
<line x1="271.9" y1="31.9" x2="276" y2="36" stroke="#f0b838" stroke-width="1" stroke-linecap="round"/>
<line x1="276" y1="36" x2="279.1" y2="40.7" stroke="#f0b838" stroke-width="1" stroke-linecap="round"/>
<line x1="271.9" y1="31.9" x2="270.1" y2="29.1" stroke="#f0b838" stroke-width="1" stroke-linecap="round"/>
<line x1="271.9" y1="31.9" x2="274.1" y2="29.1" stroke="#f0b838" stroke-width="1" stroke-linecap="round"/>
<line x1="271.9" y1="31.9" x2="268.5" y2="32.8" stroke="#f0b838" stroke-width="1" stroke-linecap="round"/>
<line x1="276" y1="36" x2="279.1" y2="32.6" stroke="#f0b838" stroke-width="1" stroke-linecap="round"/>
<line x1="276" y1="36" x2="273.6" y2="39.6" stroke="#f0b838" stroke-width="1" stroke-linecap="round"/>
<line x1="279.1" y1="40.7" x2="282.6" y2="39.8" stroke="#f0b838" stroke-width="1" stroke-linecap="round"/>
<line x1="279.1" y1="40.7" x2="280.8" y2="44.3" stroke="#f0b838" stroke-width="1" stroke-linecap="round"/>
<line x1="279.1" y1="40.7" x2="276.1" y2="43.4" stroke="#f0b838" stroke-width="1" stroke-linecap="round"/>
<circle cx="271.9" cy="31.9" r="1.4" fill="url(#sC)"/>
<circle cx="276" cy="36" r="1.8" fill="url(#sB)"/>
<circle cx="279.1" cy="40.7" r="1.4" fill="url(#sC)"/>
<circle cx="270.1" cy="29.1" r="0.7" fill="url(#sW)"/>
<circle cx="274.1" cy="29.1" r="0.7" fill="url(#sW)"/>
<circle cx="268.5" cy="32.8" r="0.7" fill="url(#sW)"/>
<circle cx="279.1" cy="32.6" r="0.7" fill="url(#sW)"/>
<circle cx="273.6" cy="39.6" r="0.7" fill="url(#sW)"/>
<circle cx="282.6" cy="39.8" r="0.7" fill="url(#sW)"/>
<circle cx="280.8" cy="44.3" r="0.7" fill="url(#sW)"/>
<circle cx="276.1" cy="43.4" r="0.7" fill="url(#sW)"/>
<line x1="247.2" y1="56.4" x2="246" y2="62" stroke="#f0b838" stroke-width="1" stroke-linecap="round"/>
<line x1="246" y1="62" x2="243.7" y2="67.2" stroke="#f0b838" stroke-width="1" stroke-linecap="round"/>
<line x1="247.2" y1="56.4" x2="248.6" y2="53.3" stroke="#f0b838" stroke-width="1" stroke-linecap="round"/>
<line x1="247.2" y1="56.4" x2="250.8" y2="56.7" stroke="#f0b838" stroke-width="1" stroke-linecap="round"/>
<line x1="247.2" y1="56.4" x2="244.6" y2="54" stroke="#f0b838" stroke-width="1" stroke-linecap="round"/>
<line x1="246" y1="62" x2="250.6" y2="62.8" stroke="#f0b838" stroke-width="1" stroke-linecap="round"/>
<line x1="246" y1="62" x2="241.7" y2="62" stroke="#f0b838" stroke-width="1" stroke-linecap="round"/>
<line x1="243.7" y1="67.2" x2="246.4" y2="69.6" stroke="#f0b838" stroke-width="1" stroke-linecap="round"/>
<line x1="243.7" y1="67.2" x2="241.6" y2="70.6" stroke="#f0b838" stroke-width="1" stroke-linecap="round"/>
<line x1="243.7" y1="67.2" x2="239.9" y2="66.1" stroke="#f0b838" stroke-width="1" stroke-linecap="round"/>
<circle cx="247.2" cy="56.4" r="1.4" fill="url(#sC)"/>
<circle cx="246" cy="62" r="1.8" fill="url(#sB)"/>
<circle cx="243.7" cy="67.2" r="1.4" fill="url(#sC)"/>
<circle cx="248.6" cy="53.3" r="0.7" fill="url(#sW)"/>
<circle cx="250.8" cy="56.7" r="0.7" fill="url(#sW)"/>
<circle cx="244.6" cy="54" r="0.7" fill="url(#sW)"/>
<circle cx="250.6" cy="62.8" r="0.7" fill="url(#sW)"/>
<circle cx="241.7" cy="62" r="0.7" fill="url(#sW)"/>
<circle cx="246.4" cy="69.6" r="0.7" fill="url(#sW)"/>
<circle cx="241.6" cy="70.6" r="0.7" fill="url(#sW)"/>
<circle cx="239.9" cy="66.1" r="0.7" fill="url(#sW)"/>
<line x1="272.9" y1="81.9" x2="277" y2="86" stroke="#f0b838" stroke-width="1" stroke-linecap="round"/>
<line x1="277" y1="86" x2="280.1" y2="90.7" stroke="#f0b838" stroke-width="1" stroke-linecap="round"/>
<line x1="272.9" y1="81.9" x2="271.1" y2="79.1" stroke="#f0b838" stroke-width="1" stroke-linecap="round"/>
<line x1="272.9" y1="81.9" x2="275.1" y2="79.1" stroke="#f0b838" stroke-width="1" stroke-linecap="round"/>
<line x1="272.9" y1="81.9" x2="269.5" y2="82.8" stroke="#f0b838" stroke-width="1" stroke-linecap="round"/>
<line x1="277" y1="86" x2="280.1" y2="82.6" stroke="#f0b838" stroke-width="1" stroke-linecap="round"/>
<line x1="277" y1="86" x2="274.6" y2="89.6" stroke="#f0b838" stroke-width="1" stroke-linecap="round"/>
<line x1="280.1" y1="90.7" x2="283.6" y2="89.8" stroke="#f0b838" stroke-width="1" stroke-linecap="round"/>
<line x1="280.1" y1="90.7" x2="281.8" y2="94.3" stroke="#f0b838" stroke-width="1" stroke-linecap="round"/>
<line x1="280.1" y1="90.7" x2="277.1" y2="93.4" stroke="#f0b838" stroke-width="1" stroke-linecap="round"/>
<circle cx="272.9" cy="81.9" r="1.4" fill="url(#sC)"/>
<circle cx="277" cy="86" r="1.8" fill="url(#sB)"/>
<circle cx="280.1" cy="90.7" r="1.4" fill="url(#sC)"/>
<circle cx="271.1" cy="79.1" r="0.7" fill="url(#sW)"/>
<circle cx="275.1" cy="79.1" r="0.7" fill="url(#sW)"/>
<circle cx="269.5" cy="82.8" r="0.7" fill="url(#sW)"/>
<circle cx="280.1" cy="82.6" r="0.7" fill="url(#sW)"/>
<circle cx="274.6" cy="89.6" r="0.7" fill="url(#sW)"/>
<circle cx="283.6" cy="89.8" r="0.7" fill="url(#sW)"/>
<circle cx="281.8" cy="94.3" r="0.7" fill="url(#sW)"/>
<circle cx="277.1" cy="93.4" r="0.7" fill="url(#sW)"/>
<line x1="247.2" y1="104.4" x2="246" y2="110" stroke="#f0b838" stroke-width="1" stroke-linecap="round"/>
<line x1="246" y1="110" x2="243.7" y2="115.2" stroke="#f0b838" stroke-width="1" stroke-linecap="round"/>
<line x1="247.2" y1="104.4" x2="248.6" y2="101.3" stroke="#f0b838" stroke-width="1" stroke-linecap="round"/>
<line x1="247.2" y1="104.4" x2="250.8" y2="104.7" stroke="#f0b838" stroke-width="1" stroke-linecap="round"/>
<line x1="247.2" y1="104.4" x2="244.6" y2="102" stroke="#f0b838" stroke-width="1" stroke-linecap="round"/>
<line x1="246" y1="110" x2="250.6" y2="110.8" stroke="#f0b838" stroke-width="1" stroke-linecap="round"/>
<line x1="246" y1="110" x2="241.7" y2="110" stroke="#f0b838" stroke-width="1" stroke-linecap="round"/>
<line x1="243.7" y1="115.2" x2="246.4" y2="117.6" stroke="#f0b838" stroke-width="1" stroke-linecap="round"/>
<line x1="243.7" y1="115.2" x2="241.6" y2="118.6" stroke="#f0b838" stroke-width="1" stroke-linecap="round"/>
<line x1="243.7" y1="115.2" x2="239.9" y2="114.1" stroke="#f0b838" stroke-width="1" stroke-linecap="round"/>
<circle cx="247.2" cy="104.4" r="1.4" fill="url(#sC)"/>
<circle cx="246" cy="110" r="1.8" fill="url(#sB)"/>
<circle cx="243.7" cy="115.2" r="1.4" fill="url(#sC)"/>
<circle cx="248.6" cy="101.3" r="0.7" fill="url(#sW)"/>
<circle cx="250.8" cy="104.7" r="0.7" fill="url(#sW)"/>
<circle cx="244.6" cy="102" r="0.7" fill="url(#sW)"/>
<circle cx="250.6" cy="110.8" r="0.7" fill="url(#sW)"/>
<circle cx="241.7" cy="110" r="0.7" fill="url(#sW)"/>
<circle cx="246.4" cy="117.6" r="0.7" fill="url(#sW)"/>
<circle cx="241.6" cy="118.6" r="0.7" fill="url(#sW)"/>
<circle cx="239.9" cy="114.1" r="0.7" fill="url(#sW)"/>
<line x1="331.7" y1="34.9" x2="326" y2="36" stroke="#f0b838" stroke-width="1" stroke-linecap="round"/>
<line x1="326" y1="36" x2="320.8" y2="38.1" stroke="#f0b838" stroke-width="1" stroke-linecap="round"/>
<line x1="331.7" y1="34.9" x2="334.8" y2="33.6" stroke="#f0b838" stroke-width="1" stroke-linecap="round"/>
<line x1="331.7" y1="34.9" x2="331.4" y2="31.4" stroke="#f0b838" stroke-width="1" stroke-linecap="round"/>
<line x1="331.7" y1="34.9" x2="334" y2="37.6" stroke="#f0b838" stroke-width="1" stroke-linecap="round"/>
<line x1="326" y1="36" x2="325.3" y2="31.4" stroke="#f0b838" stroke-width="1" stroke-linecap="round"/>
<line x1="326" y1="36" x2="325.9" y2="40.3" stroke="#f0b838" stroke-width="1" stroke-linecap="round"/>
<line x1="320.8" y1="38.1" x2="318.4" y2="35.4" stroke="#f0b838" stroke-width="1" stroke-linecap="round"/>
<line x1="320.8" y1="38.1" x2="317.3" y2="40.1" stroke="#f0b838" stroke-width="1" stroke-linecap="round"/>
<line x1="320.8" y1="38.1" x2="321.7" y2="42" stroke="#f0b838" stroke-width="1" stroke-linecap="round"/>
<circle cx="331.7" cy="34.9" r="1.4" fill="url(#sC)"/>
<circle cx="326" cy="36" r="1.8" fill="url(#sB)"/>
<circle cx="320.8" cy="38.1" r="1.4" fill="url(#sC)"/>
<circle cx="334.8" cy="33.6" r="0.7" fill="url(#sW)"/>
<circle cx="331.4" cy="31.4" r="0.7" fill="url(#sW)"/>
<circle cx="334" cy="37.6" r="0.7" fill="url(#sW)"/>
<circle cx="325.3" cy="31.4" r="0.7" fill="url(#sW)"/>
<circle cx="325.9" cy="40.3" r="0.7" fill="url(#sW)"/>
<circle cx="318.4" cy="35.4" r="0.7" fill="url(#sW)"/>
<circle cx="317.3" cy="40.1" r="0.7" fill="url(#sW)"/>
<circle cx="321.7" cy="42" r="0.7" fill="url(#sW)"/>
<line x1="331.7" y1="84.9" x2="326" y2="86" stroke="#f0b838" stroke-width="1" stroke-linecap="round"/>
<line x1="326" y1="86" x2="320.8" y2="88.1" stroke="#f0b838" stroke-width="1" stroke-linecap="round"/>
<line x1="331.7" y1="84.9" x2="334.8" y2="83.6" stroke="#f0b838" stroke-width="1" stroke-linecap="round"/>
<line x1="331.7" y1="84.9" x2="331.4" y2="81.4" stroke="#f0b838" stroke-width="1" stroke-linecap="round"/>
<line x1="331.7" y1="84.9" x2="334" y2="87.6" stroke="#f0b838" stroke-width="1" stroke-linecap="round"/>
<line x1="326" y1="86" x2="325.3" y2="81.4" stroke="#f0b838" stroke-width="1" stroke-linecap="round"/>
<line x1="326" y1="86" x2="325.9" y2="90.3" stroke="#f0b838" stroke-width="1" stroke-linecap="round"/>
<line x1="320.8" y1="88.1" x2="318.4" y2="85.4" stroke="#f0b838" stroke-width="1" stroke-linecap="round"/>
<line x1="320.8" y1="88.1" x2="317.3" y2="90.1" stroke="#f0b838" stroke-width="1" stroke-linecap="round"/>
<line x1="320.8" y1="88.1" x2="321.7" y2="92" stroke="#f0b838" stroke-width="1" stroke-linecap="round"/>
<circle cx="331.7" cy="84.9" r="1.4" fill="url(#sC)"/>
<circle cx="326" cy="86" r="1.8" fill="url(#sB)"/>
<circle cx="320.8" cy="88.1" r="1.4" fill="url(#sC)"/>
<circle cx="334.8" cy="83.6" r="0.7" fill="url(#sW)"/>
<circle cx="331.4" cy="81.4" r="0.7" fill="url(#sW)"/>
<circle cx="334" cy="87.6" r="0.7" fill="url(#sW)"/>
<circle cx="325.3" cy="81.4" r="0.7" fill="url(#sW)"/>
<circle cx="325.9" cy="90.3" r="0.7" fill="url(#sW)"/>
<circle cx="318.4" cy="85.4" r="0.7" fill="url(#sW)"/>
<circle cx="317.3" cy="90.1" r="0.7" fill="url(#sW)"/>
<circle cx="321.7" cy="92" r="0.7" fill="url(#sW)"/>
<line x1="335.3" y1="38.7" x2="333" y2="44" stroke="#f0b838" stroke-width="1" stroke-linecap="round"/>
<line x1="333" y1="44" x2="329.7" y2="48.6" stroke="#f0b838" stroke-width="1" stroke-linecap="round"/>
<line x1="335.3" y1="38.7" x2="337.3" y2="36" stroke="#f0b838" stroke-width="1" stroke-linecap="round"/>
<line x1="335.3" y1="38.7" x2="338.8" y2="39.8" stroke="#f0b838" stroke-width="1" stroke-linecap="round"/>
<line x1="335.3" y1="38.7" x2="333.2" y2="35.8" stroke="#f0b838" stroke-width="1" stroke-linecap="round"/>
<line x1="333" y1="44" x2="337.3" y2="45.7" stroke="#f0b838" stroke-width="1" stroke-linecap="round"/>
<line x1="333" y1="44" x2="328.8" y2="43.1" stroke="#f0b838" stroke-width="1" stroke-linecap="round"/>
<line x1="329.7" y1="48.6" x2="331.9" y2="51.5" stroke="#f0b838" stroke-width="1" stroke-linecap="round"/>
<line x1="329.7" y1="48.6" x2="327" y2="51.5" stroke="#f0b838" stroke-width="1" stroke-linecap="round"/>
<line x1="329.7" y1="48.6" x2="326.2" y2="46.8" stroke="#f0b838" stroke-width="1" stroke-linecap="round"/>
<circle cx="335.3" cy="38.7" r="1.4" fill="url(#sC)"/>
<circle cx="333" cy="44" r="1.8" fill="url(#sB)"/>
<circle cx="329.7" cy="48.6" r="1.4" fill="url(#sC)"/>
<circle cx="337.3" cy="36" r="0.7" fill="url(#sW)"/>
<circle cx="338.8" cy="39.8" r="0.7" fill="url(#sW)"/>
<circle cx="333.2" cy="35.8" r="0.7" fill="url(#sW)"/>
<circle cx="337.3" cy="45.7" r="0.7" fill="url(#sW)"/>
<circle cx="328.8" cy="43.1" r="0.7" fill="url(#sW)"/>
<circle cx="331.9" cy="51.5" r="0.7" fill="url(#sW)"/>
<circle cx="327" cy="51.5" r="0.7" fill="url(#sW)"/>
<circle cx="326.2" cy="46.8" r="0.7" fill="url(#sW)"/>
<line x1="335.3" y1="86.7" x2="333" y2="92" stroke="#f0b838" stroke-width="1" stroke-linecap="round"/>
<line x1="333" y1="92" x2="329.7" y2="96.6" stroke="#f0b838" stroke-width="1" stroke-linecap="round"/>
<line x1="335.3" y1="86.7" x2="337.3" y2="84" stroke="#f0b838" stroke-width="1" stroke-linecap="round"/>
<line x1="335.3" y1="86.7" x2="338.8" y2="87.8" stroke="#f0b838" stroke-width="1" stroke-linecap="round"/>
<line x1="335.3" y1="86.7" x2="333.2" y2="83.8" stroke="#f0b838" stroke-width="1" stroke-linecap="round"/>
<line x1="333" y1="92" x2="337.3" y2="93.7" stroke="#f0b838" stroke-width="1" stroke-linecap="round"/>
<line x1="333" y1="92" x2="328.8" y2="91.1" stroke="#f0b838" stroke-width="1" stroke-linecap="round"/>
<line x1="329.7" y1="96.6" x2="331.9" y2="99.5" stroke="#f0b838" stroke-width="1" stroke-linecap="round"/>
<line x1="329.7" y1="96.6" x2="327" y2="99.5" stroke="#f0b838" stroke-width="1" stroke-linecap="round"/>
<line x1="329.7" y1="96.6" x2="326.2" y2="94.8" stroke="#f0b838" stroke-width="1" stroke-linecap="round"/>
<circle cx="335.3" cy="86.7" r="1.4" fill="url(#sC)"/>
<circle cx="333" cy="92" r="1.8" fill="url(#sB)"/>
<circle cx="329.7" cy="96.6" r="1.4" fill="url(#sC)"/>
<circle cx="337.3" cy="84" r="0.7" fill="url(#sW)"/>
<circle cx="338.8" cy="87.8" r="0.7" fill="url(#sW)"/>
<circle cx="333.2" cy="83.8" r="0.7" fill="url(#sW)"/>
<circle cx="337.3" cy="93.7" r="0.7" fill="url(#sW)"/>
<circle cx="328.8" cy="91.1" r="0.7" fill="url(#sW)"/>
<circle cx="331.9" cy="99.5" r="0.7" fill="url(#sW)"/>
<circle cx="327" cy="99.5" r="0.7" fill="url(#sW)"/>
<circle cx="326.2" cy="94.8" r="0.7" fill="url(#sW)"/>
<line x1="267.8" y1="116.6" x2="270" y2="122" stroke="#f0b838" stroke-width="1" stroke-linecap="round"/>
<line x1="270" y1="122" x2="271" y2="127.6" stroke="#f0b838" stroke-width="1" stroke-linecap="round"/>
<line x1="267.8" y1="116.6" x2="267.2" y2="113.3" stroke="#f0b838" stroke-width="1" stroke-linecap="round"/>
<line x1="267.8" y1="116.6" x2="271" y2="114.9" stroke="#f0b838" stroke-width="1" stroke-linecap="round"/>
<line x1="267.8" y1="116.6" x2="264.3" y2="116.2" stroke="#f0b838" stroke-width="1" stroke-linecap="round"/>
<line x1="270" y1="122" x2="274.2" y2="120.1" stroke="#f0b838" stroke-width="1" stroke-linecap="round"/>
<line x1="270" y1="122" x2="266.4" y2="124.4" stroke="#f0b838" stroke-width="1" stroke-linecap="round"/>
<line x1="271" y1="127.6" x2="274.6" y2="128" stroke="#f0b838" stroke-width="1" stroke-linecap="round"/>
<line x1="271" y1="127.6" x2="271.2" y2="131.6" stroke="#f0b838" stroke-width="1" stroke-linecap="round"/>
<line x1="271" y1="127.6" x2="267.3" y2="128.8" stroke="#f0b838" stroke-width="1" stroke-linecap="round"/>
<circle cx="267.8" cy="116.6" r="1.4" fill="url(#sC)"/>
<circle cx="270" cy="122" r="1.8" fill="url(#sB)"/>
<circle cx="271" cy="127.6" r="1.4" fill="url(#sC)"/>
<circle cx="267.2" cy="113.3" r="0.7" fill="url(#sW)"/>
<circle cx="271" cy="114.9" r="0.7" fill="url(#sW)"/>
<circle cx="264.3" cy="116.2" r="0.7" fill="url(#sW)"/>
<circle cx="274.2" cy="120.1" r="0.7" fill="url(#sW)"/>
<circle cx="266.4" cy="124.4" r="0.7" fill="url(#sW)"/>
<circle cx="274.6" cy="128" r="0.7" fill="url(#sW)"/>
<circle cx="271.2" cy="131.6" r="0.7" fill="url(#sW)"/>
<circle cx="267.3" cy="128.8" r="0.7" fill="url(#sW)"/>
<g stroke="#111" stroke-width="1.5" fill="#111">
<line x1="389.2" y1="34.4" x2="389.2" y2="21"/><polygon points="389.2,16.8 387.2,21.8 391.2,21.8" stroke="none"/>
<line x1="389.2" y1="34.4" x2="375" y2="34.4"/><polygon points="371.2,34.4 376.2,32.4 376.2,36.4" stroke="none"/>
<circle cx="389.2" cy="34.4" r="2.2" stroke="none"/>
</g>
<text x="385.3" y="15" font-family="Liberation Serif, serif" font-size="14" fill="#111">z</text>
<text x="360.2" y="37.4" font-family="Liberation Serif, serif" font-size="14" fill="#111">x</text>
<text x="390.7" y="36.6" font-family="Liberation Serif, serif" font-size="14" fill="#111">y</text>
<polygon points="399.3,20.2 448.2,17.8 444.5,40.9 398.2,40.4" fill="#d2aee4" stroke="#e24a82" stroke-width="0.8" stroke-linejoin="round"/>
<polygon points="399.3,20.2 409.3,22.2 402.2,40.4 398.2,40.4" fill="#ae92c8" stroke="#e24a82" stroke-width="0.5" stroke-linejoin="round"/>
<polygon points="421.3,20 416,41.6 426,41.6" fill="#bc9cd6" stroke="#e24a82" stroke-width="0.5" stroke-linejoin="round"/>
<polygon points="438.2,18.8 448.2,17.8 444.5,40.9 438.5,40.9" fill="#e4c8ee" stroke="#e24a82" stroke-width="0.5" stroke-linejoin="round"/>
<line x1="399.3" y1="20.2" x2="419" y2="41.6" stroke="#e24a82" stroke-width="0.5"/>
<line x1="421.3" y1="20" x2="444.5" y2="40.9" stroke="#e24a82" stroke-width="0.5"/>
<polygon points="398.2,40.4 444.5,40.9 442.4,65.5 397.6,65.5" fill="#d2aee4" stroke="#e24a82" stroke-width="0.8" stroke-linejoin="round"/>
<polygon points="398.2,40.4 408.2,42.4 401.6,65.5 397.6,65.5" fill="#ae92c8" stroke="#e24a82" stroke-width="0.5" stroke-linejoin="round"/>
<polygon points="419,41.6 414.8,66.5 424.8,66.5" fill="#bc9cd6" stroke="#e24a82" stroke-width="0.5" stroke-linejoin="round"/>
<polygon points="434.5,41.9 444.5,40.9 442.4,65.5 436.4,65.5" fill="#e4c8ee" stroke="#e24a82" stroke-width="0.5" stroke-linejoin="round"/>
<line x1="398.2" y1="40.4" x2="417.8" y2="66.5" stroke="#e24a82" stroke-width="0.5"/>
<line x1="419" y1="41.6" x2="442.4" y2="65.5" stroke="#e24a82" stroke-width="0.5"/>
<circle cx="408.6" cy="62.5" r="2.6" fill="url(#sRb)"/>
<circle cx="416.6" cy="62.5" r="2.6" fill="url(#sRb)"/>
<polygon points="397.6,65.5 442.4,65.5 438,89 393.3,88.4" fill="#d2aee4" stroke="#e24a82" stroke-width="0.8" stroke-linejoin="round"/>
<polygon points="397.6,65.5 407.6,67.5 397.3,88.4 393.3,88.4" fill="#ae92c8" stroke="#e24a82" stroke-width="0.5" stroke-linejoin="round"/>
<polygon points="417.8,66.5 410.4,89.7 420.4,89.7" fill="#bc9cd6" stroke="#e24a82" stroke-width="0.5" stroke-linejoin="round"/>
<polygon points="432.4,66.5 442.4,65.5 438,89 432,89" fill="#e4c8ee" stroke="#e24a82" stroke-width="0.5" stroke-linejoin="round"/>
<line x1="397.6" y1="65.5" x2="413.4" y2="89.7" stroke="#e24a82" stroke-width="0.5"/>
<line x1="417.8" y1="66.5" x2="438" y2="89" stroke="#e24a82" stroke-width="0.5"/>
<polygon points="393.3,88.4 438,89 437.6,113.5 392.2,113.5" fill="#d2aee4" stroke="#e24a82" stroke-width="0.8" stroke-linejoin="round"/>
<polygon points="393.3,88.4 403.3,90.4 396.2,113.5 392.2,113.5" fill="#ae92c8" stroke="#e24a82" stroke-width="0.5" stroke-linejoin="round"/>
<polygon points="413.4,89.7 409.6,114.5 419.6,114.5" fill="#bc9cd6" stroke="#e24a82" stroke-width="0.5" stroke-linejoin="round"/>
<polygon points="428,90 438,89 437.6,113.5 431.6,113.5" fill="#e4c8ee" stroke="#e24a82" stroke-width="0.5" stroke-linejoin="round"/>
<line x1="393.3" y1="88.4" x2="412.6" y2="114.5" stroke="#e24a82" stroke-width="0.5"/>
<line x1="413.4" y1="89.7" x2="437.6" y2="113.5" stroke="#e24a82" stroke-width="0.5"/>
<circle cx="403.2" cy="110.5" r="2.6" fill="url(#sRb)"/>
<circle cx="411.2" cy="110.5" r="2.6" fill="url(#sRb)"/>
<polygon points="392.2,113.5 437.6,113.5 432.6,136 389.5,136.4" fill="#d2aee4" stroke="#e24a82" stroke-width="0.8" stroke-linejoin="round"/>
<polygon points="392.2,113.5 402.2,115.5 393.5,136.4 389.5,136.4" fill="#ae92c8" stroke="#e24a82" stroke-width="0.5" stroke-linejoin="round"/>
<polygon points="412.6,114.5 405.9,137.2 415.9,137.2" fill="#bc9cd6" stroke="#e24a82" stroke-width="0.5" stroke-linejoin="round"/>
<polygon points="427.6,114.5 437.6,113.5 432.6,136 426.6,136" fill="#e4c8ee" stroke="#e24a82" stroke-width="0.5" stroke-linejoin="round"/>
<line x1="392.2" y1="113.5" x2="408.9" y2="137.2" stroke="#e24a82" stroke-width="0.5"/>
<line x1="412.6" y1="114.5" x2="432.6" y2="136" stroke="#e24a82" stroke-width="0.5"/>
<circle cx="413.6" cy="30" r="3.7" fill="url(#sT)"/>
<circle cx="433.6" cy="28.2" r="3.7" fill="url(#sT)"/>
<circle cx="410.9" cy="53.6" r="3.7" fill="url(#sT)"/>
<circle cx="430.9" cy="52.7" r="3.7" fill="url(#sT)"/>
<circle cx="408.6" cy="77.5" r="3.7" fill="url(#sT)"/>
<circle cx="428.9" cy="75.3" r="3.7" fill="url(#sT)"/>
<circle cx="405.7" cy="101.5" r="3.7" fill="url(#sT)"/>
<circle cx="425.4" cy="99.7" r="3.7" fill="url(#sT)"/>
<circle cx="403.1" cy="125.5" r="3.7" fill="url(#sT)"/>
<circle cx="422.8" cy="124" r="3.7" fill="url(#sT)"/>
<line x1="436.5" y1="35.5" x2="434.5" y2="38.9" stroke="#f0b838" stroke-width="1" stroke-linecap="round"/>
<line x1="434.5" y1="38.9" x2="432" y2="41.8" stroke="#f0b838" stroke-width="1" stroke-linecap="round"/>
<line x1="436.5" y1="35.5" x2="438" y2="33.7" stroke="#f0b838" stroke-width="1" stroke-linecap="round"/>
<line x1="436.5" y1="35.5" x2="438.7" y2="36.4" stroke="#f0b838" stroke-width="1" stroke-linecap="round"/>
<line x1="436.5" y1="35.5" x2="435.2" y2="33.3" stroke="#f0b838" stroke-width="1" stroke-linecap="round"/>
<line x1="434.5" y1="38.9" x2="437.4" y2="40.4" stroke="#f0b838" stroke-width="1" stroke-linecap="round"/>
<line x1="434.5" y1="38.9" x2="431.7" y2="38" stroke="#f0b838" stroke-width="1" stroke-linecap="round"/>
<line x1="432" y1="41.8" x2="433.2" y2="44" stroke="#f0b838" stroke-width="1" stroke-linecap="round"/>
<line x1="432" y1="41.8" x2="429.9" y2="43.6" stroke="#f0b838" stroke-width="1" stroke-linecap="round"/>
<line x1="432" y1="41.8" x2="429.6" y2="40.3" stroke="#f0b838" stroke-width="1" stroke-linecap="round"/>
<circle cx="436.5" cy="35.5" r="1.4" fill="url(#sC)"/>
<circle cx="434.5" cy="38.9" r="1.8" fill="url(#sB)"/>
<circle cx="432" cy="41.8" r="1.4" fill="url(#sC)"/>
<circle cx="438" cy="33.7" r="0.7" fill="url(#sW)"/>
<circle cx="438.7" cy="36.4" r="0.7" fill="url(#sW)"/>
<circle cx="435.2" cy="33.3" r="0.7" fill="url(#sW)"/>
<circle cx="437.4" cy="40.4" r="0.7" fill="url(#sW)"/>
<circle cx="431.7" cy="38" r="0.7" fill="url(#sW)"/>
<circle cx="433.2" cy="44" r="0.7" fill="url(#sW)"/>
<circle cx="429.9" cy="43.6" r="0.7" fill="url(#sW)"/>
<circle cx="429.6" cy="40.3" r="0.7" fill="url(#sW)"/>
<line x1="434.4" y1="60.1" x2="432.4" y2="63.5" stroke="#f0b838" stroke-width="1" stroke-linecap="round"/>
<line x1="432.4" y1="63.5" x2="429.9" y2="66.4" stroke="#f0b838" stroke-width="1" stroke-linecap="round"/>
<line x1="434.4" y1="60.1" x2="435.9" y2="58.3" stroke="#f0b838" stroke-width="1" stroke-linecap="round"/>
<line x1="434.4" y1="60.1" x2="436.6" y2="61" stroke="#f0b838" stroke-width="1" stroke-linecap="round"/>
<line x1="434.4" y1="60.1" x2="433.1" y2="57.9" stroke="#f0b838" stroke-width="1" stroke-linecap="round"/>
<line x1="432.4" y1="63.5" x2="435.3" y2="65" stroke="#f0b838" stroke-width="1" stroke-linecap="round"/>
<line x1="432.4" y1="63.5" x2="429.6" y2="62.6" stroke="#f0b838" stroke-width="1" stroke-linecap="round"/>
<line x1="429.9" y1="66.4" x2="431.1" y2="68.6" stroke="#f0b838" stroke-width="1" stroke-linecap="round"/>
<line x1="429.9" y1="66.4" x2="427.8" y2="68.2" stroke="#f0b838" stroke-width="1" stroke-linecap="round"/>
<line x1="429.9" y1="66.4" x2="427.5" y2="64.9" stroke="#f0b838" stroke-width="1" stroke-linecap="round"/>
<circle cx="434.4" cy="60.1" r="1.4" fill="url(#sC)"/>
<circle cx="432.4" cy="63.5" r="1.8" fill="url(#sB)"/>
<circle cx="429.9" cy="66.4" r="1.4" fill="url(#sC)"/>
<circle cx="435.9" cy="58.3" r="0.7" fill="url(#sW)"/>
<circle cx="436.6" cy="61" r="0.7" fill="url(#sW)"/>
<circle cx="433.1" cy="57.9" r="0.7" fill="url(#sW)"/>
<circle cx="435.3" cy="65" r="0.7" fill="url(#sW)"/>
<circle cx="429.6" cy="62.6" r="0.7" fill="url(#sW)"/>
<circle cx="431.1" cy="68.6" r="0.7" fill="url(#sW)"/>
<circle cx="427.8" cy="68.2" r="0.7" fill="url(#sW)"/>
<circle cx="427.5" cy="64.9" r="0.7" fill="url(#sW)"/>
<line x1="430" y1="83.6" x2="428" y2="87" stroke="#f0b838" stroke-width="1" stroke-linecap="round"/>
<line x1="428" y1="87" x2="425.5" y2="89.9" stroke="#f0b838" stroke-width="1" stroke-linecap="round"/>
<line x1="430" y1="83.6" x2="431.5" y2="81.8" stroke="#f0b838" stroke-width="1" stroke-linecap="round"/>
<line x1="430" y1="83.6" x2="432.2" y2="84.5" stroke="#f0b838" stroke-width="1" stroke-linecap="round"/>
<line x1="430" y1="83.6" x2="428.7" y2="81.4" stroke="#f0b838" stroke-width="1" stroke-linecap="round"/>
<line x1="428" y1="87" x2="430.9" y2="88.5" stroke="#f0b838" stroke-width="1" stroke-linecap="round"/>
<line x1="428" y1="87" x2="425.2" y2="86.1" stroke="#f0b838" stroke-width="1" stroke-linecap="round"/>
<line x1="425.5" y1="89.9" x2="426.7" y2="92.1" stroke="#f0b838" stroke-width="1" stroke-linecap="round"/>
<line x1="425.5" y1="89.9" x2="423.4" y2="91.7" stroke="#f0b838" stroke-width="1" stroke-linecap="round"/>
<line x1="425.5" y1="89.9" x2="423.1" y2="88.4" stroke="#f0b838" stroke-width="1" stroke-linecap="round"/>
<circle cx="430" cy="83.6" r="1.4" fill="url(#sC)"/>
<circle cx="428" cy="87" r="1.8" fill="url(#sB)"/>
<circle cx="425.5" cy="89.9" r="1.4" fill="url(#sC)"/>
<circle cx="431.5" cy="81.8" r="0.7" fill="url(#sW)"/>
<circle cx="432.2" cy="84.5" r="0.7" fill="url(#sW)"/>
<circle cx="428.7" cy="81.4" r="0.7" fill="url(#sW)"/>
<circle cx="430.9" cy="88.5" r="0.7" fill="url(#sW)"/>
<circle cx="425.2" cy="86.1" r="0.7" fill="url(#sW)"/>
<circle cx="426.7" cy="92.1" r="0.7" fill="url(#sW)"/>
<circle cx="423.4" cy="91.7" r="0.7" fill="url(#sW)"/>
<circle cx="423.1" cy="88.4" r="0.7" fill="url(#sW)"/>
<line x1="429.6" y1="108.1" x2="427.6" y2="111.5" stroke="#f0b838" stroke-width="1" stroke-linecap="round"/>
<line x1="427.6" y1="111.5" x2="425.1" y2="114.4" stroke="#f0b838" stroke-width="1" stroke-linecap="round"/>
<line x1="429.6" y1="108.1" x2="431.1" y2="106.3" stroke="#f0b838" stroke-width="1" stroke-linecap="round"/>
<line x1="429.6" y1="108.1" x2="431.8" y2="109" stroke="#f0b838" stroke-width="1" stroke-linecap="round"/>
<line x1="429.6" y1="108.1" x2="428.3" y2="105.9" stroke="#f0b838" stroke-width="1" stroke-linecap="round"/>
<line x1="427.6" y1="111.5" x2="430.5" y2="113" stroke="#f0b838" stroke-width="1" stroke-linecap="round"/>
<line x1="427.6" y1="111.5" x2="424.8" y2="110.6" stroke="#f0b838" stroke-width="1" stroke-linecap="round"/>
<line x1="425.1" y1="114.4" x2="426.3" y2="116.6" stroke="#f0b838" stroke-width="1" stroke-linecap="round"/>
<line x1="425.1" y1="114.4" x2="423" y2="116.2" stroke="#f0b838" stroke-width="1" stroke-linecap="round"/>
<line x1="425.1" y1="114.4" x2="422.7" y2="112.9" stroke="#f0b838" stroke-width="1" stroke-linecap="round"/>
<circle cx="429.6" cy="108.1" r="1.4" fill="url(#sC)"/>
<circle cx="427.6" cy="111.5" r="1.8" fill="url(#sB)"/>
<circle cx="425.1" cy="114.4" r="1.4" fill="url(#sC)"/>
<circle cx="431.1" cy="106.3" r="0.7" fill="url(#sW)"/>
<circle cx="431.8" cy="109" r="0.7" fill="url(#sW)"/>
<circle cx="428.3" cy="105.9" r="0.7" fill="url(#sW)"/>
<circle cx="430.5" cy="113" r="0.7" fill="url(#sW)"/>
<circle cx="424.8" cy="110.6" r="0.7" fill="url(#sW)"/>
<circle cx="426.3" cy="116.6" r="0.7" fill="url(#sW)"/>
<circle cx="423" cy="116.2" r="0.7" fill="url(#sW)"/>
<circle cx="422.7" cy="112.9" r="0.7" fill="url(#sW)"/>
<circle cx="403.3" cy="18.2" r="3.1" fill="url(#sR)"/>
<circle cx="413.6" cy="14.2" r="3.1" fill="url(#sR)"/>
<circle cx="421.8" cy="14.5" r="3.1" fill="url(#sR)"/>
<circle cx="432.7" cy="15.5" r="3.1" fill="url(#sR)"/>
<circle cx="429" cy="20.9" r="3.1" fill="url(#sR)"/>
<circle cx="448.2" cy="17.8" r="3.1" fill="url(#sR)"/>
<circle cx="398.2" cy="40.4" r="3.1" fill="url(#sR)"/>
<circle cx="414.2" cy="42.2" r="3.1" fill="url(#sR)"/>
<circle cx="425.5" cy="43.6" r="3.1" fill="url(#sR)"/>
<circle cx="432.7" cy="43.3" r="3.1" fill="url(#sR)"/>
<circle cx="444.5" cy="40.9" r="3.1" fill="url(#sR)"/>
<circle cx="397.6" cy="65.5" r="3.1" fill="url(#sR)"/>
<circle cx="423.8" cy="68.7" r="3.1" fill="url(#sR)"/>
<circle cx="442.4" cy="65.5" r="3.1" fill="url(#sR)"/>
<circle cx="393.3" cy="88.4" r="3.1" fill="url(#sR)"/>
<circle cx="409.2" cy="89.5" r="3.1" fill="url(#sR)"/>
<circle cx="420.6" cy="91.2" r="3.1" fill="url(#sR)"/>
<circle cx="428.2" cy="91.2" r="3.1" fill="url(#sR)"/>
<circle cx="438" cy="89" r="3.1" fill="url(#sR)"/>
<circle cx="392.2" cy="113.5" r="3.1" fill="url(#sR)"/>
<circle cx="418.4" cy="116.8" r="3.1" fill="url(#sR)"/>
<circle cx="437.6" cy="113.5" r="3.1" fill="url(#sR)"/>
<circle cx="389.5" cy="136.4" r="3.1" fill="url(#sR)"/>
<circle cx="403.1" cy="136.4" r="3.1" fill="url(#sR)"/>
<circle cx="414" cy="137.5" r="3.1" fill="url(#sR)"/>
<circle cx="422.8" cy="137.5" r="3.1" fill="url(#sR)"/>
<circle cx="432.6" cy="136" r="3.1" fill="url(#sR)"/>
<polygon points="453.9,20.2 502.8,17.8 499.1,40.9 452.8,40.4" fill="#d2aee4" stroke="#e24a82" stroke-width="0.8" stroke-linejoin="round"/>
<polygon points="453.9,20.2 463.9,22.2 456.8,40.4 452.8,40.4" fill="#ae92c8" stroke="#e24a82" stroke-width="0.5" stroke-linejoin="round"/>
<polygon points="475.9,20 470.6,41.6 480.6,41.6" fill="#bc9cd6" stroke="#e24a82" stroke-width="0.5" stroke-linejoin="round"/>
<polygon points="492.8,18.8 502.8,17.8 499.1,40.9 493.1,40.9" fill="#e4c8ee" stroke="#e24a82" stroke-width="0.5" stroke-linejoin="round"/>
<line x1="453.9" y1="20.2" x2="473.6" y2="41.6" stroke="#e24a82" stroke-width="0.5"/>
<line x1="475.9" y1="20" x2="499.1" y2="40.9" stroke="#e24a82" stroke-width="0.5"/>
<polygon points="452.8,40.4 499.1,40.9 497,65.5 452.2,65.5" fill="#d2aee4" stroke="#e24a82" stroke-width="0.8" stroke-linejoin="round"/>
<polygon points="452.8,40.4 462.8,42.4 456.2,65.5 452.2,65.5" fill="#ae92c8" stroke="#e24a82" stroke-width="0.5" stroke-linejoin="round"/>
<polygon points="473.6,41.6 469.4,66.5 479.4,66.5" fill="#bc9cd6" stroke="#e24a82" stroke-width="0.5" stroke-linejoin="round"/>
<polygon points="489.1,41.9 499.1,40.9 497,65.5 491,65.5" fill="#e4c8ee" stroke="#e24a82" stroke-width="0.5" stroke-linejoin="round"/>
<line x1="452.8" y1="40.4" x2="472.4" y2="66.5" stroke="#e24a82" stroke-width="0.5"/>
<line x1="473.6" y1="41.6" x2="497" y2="65.5" stroke="#e24a82" stroke-width="0.5"/>
<circle cx="463.2" cy="62.5" r="2.6" fill="url(#sRb)"/>
<circle cx="471.2" cy="62.5" r="2.6" fill="url(#sRb)"/>
<polygon points="452.2,65.5 497,65.5 492.6,89 447.9,88.4" fill="#d2aee4" stroke="#e24a82" stroke-width="0.8" stroke-linejoin="round"/>
<polygon points="452.2,65.5 462.2,67.5 451.9,88.4 447.9,88.4" fill="#ae92c8" stroke="#e24a82" stroke-width="0.5" stroke-linejoin="round"/>
<polygon points="472.4,66.5 465,89.7 475,89.7" fill="#bc9cd6" stroke="#e24a82" stroke-width="0.5" stroke-linejoin="round"/>
<polygon points="487,66.5 497,65.5 492.6,89 486.6,89" fill="#e4c8ee" stroke="#e24a82" stroke-width="0.5" stroke-linejoin="round"/>
<line x1="452.2" y1="65.5" x2="468" y2="89.7" stroke="#e24a82" stroke-width="0.5"/>
<line x1="472.4" y1="66.5" x2="492.6" y2="89" stroke="#e24a82" stroke-width="0.5"/>
<polygon points="447.9,88.4 492.6,89 492.2,113.5 446.8,113.5" fill="#d2aee4" stroke="#e24a82" stroke-width="0.8" stroke-linejoin="round"/>
<polygon points="447.9,88.4 457.9,90.4 450.8,113.5 446.8,113.5" fill="#ae92c8" stroke="#e24a82" stroke-width="0.5" stroke-linejoin="round"/>
<polygon points="468,89.7 464.2,114.5 474.2,114.5" fill="#bc9cd6" stroke="#e24a82" stroke-width="0.5" stroke-linejoin="round"/>
<polygon points="482.6,90 492.6,89 492.2,113.5 486.2,113.5" fill="#e4c8ee" stroke="#e24a82" stroke-width="0.5" stroke-linejoin="round"/>
<line x1="447.9" y1="88.4" x2="467.2" y2="114.5" stroke="#e24a82" stroke-width="0.5"/>
<line x1="468" y1="89.7" x2="492.2" y2="113.5" stroke="#e24a82" stroke-width="0.5"/>
<circle cx="457.8" cy="110.5" r="2.6" fill="url(#sRb)"/>
<circle cx="465.8" cy="110.5" r="2.6" fill="url(#sRb)"/>
<polygon points="446.8,113.5 492.2,113.5 487.2,136 444.1,136.4" fill="#d2aee4" stroke="#e24a82" stroke-width="0.8" stroke-linejoin="round"/>
<polygon points="446.8,113.5 456.8,115.5 448.1,136.4 444.1,136.4" fill="#ae92c8" stroke="#e24a82" stroke-width="0.5" stroke-linejoin="round"/>
<polygon points="467.2,114.5 460.5,137.2 470.5,137.2" fill="#bc9cd6" stroke="#e24a82" stroke-width="0.5" stroke-linejoin="round"/>
<polygon points="482.2,114.5 492.2,113.5 487.2,136 481.2,136" fill="#e4c8ee" stroke="#e24a82" stroke-width="0.5" stroke-linejoin="round"/>
<line x1="446.8" y1="113.5" x2="463.5" y2="137.2" stroke="#e24a82" stroke-width="0.5"/>
<line x1="467.2" y1="114.5" x2="487.2" y2="136" stroke="#e24a82" stroke-width="0.5"/>
<circle cx="468.2" cy="30" r="3.7" fill="url(#sT)"/>
<circle cx="488.2" cy="28.2" r="3.7" fill="url(#sT)"/>
<circle cx="465.5" cy="53.6" r="3.7" fill="url(#sT)"/>
<circle cx="485.5" cy="52.7" r="3.7" fill="url(#sT)"/>
<circle cx="463.2" cy="77.5" r="3.7" fill="url(#sT)"/>
<circle cx="483.5" cy="75.3" r="3.7" fill="url(#sT)"/>
<circle cx="460.3" cy="101.5" r="3.7" fill="url(#sT)"/>
<circle cx="480" cy="99.7" r="3.7" fill="url(#sT)"/>
<circle cx="457.7" cy="125.5" r="3.7" fill="url(#sT)"/>
<circle cx="477.4" cy="124" r="3.7" fill="url(#sT)"/>
<line x1="491.1" y1="35.5" x2="489.1" y2="38.9" stroke="#f0b838" stroke-width="1" stroke-linecap="round"/>
<line x1="489.1" y1="38.9" x2="486.6" y2="41.8" stroke="#f0b838" stroke-width="1" stroke-linecap="round"/>
<line x1="491.1" y1="35.5" x2="492.6" y2="33.7" stroke="#f0b838" stroke-width="1" stroke-linecap="round"/>
<line x1="491.1" y1="35.5" x2="493.3" y2="36.4" stroke="#f0b838" stroke-width="1" stroke-linecap="round"/>
<line x1="491.1" y1="35.5" x2="489.8" y2="33.3" stroke="#f0b838" stroke-width="1" stroke-linecap="round"/>
<line x1="489.1" y1="38.9" x2="492" y2="40.4" stroke="#f0b838" stroke-width="1" stroke-linecap="round"/>
<line x1="489.1" y1="38.9" x2="486.3" y2="38" stroke="#f0b838" stroke-width="1" stroke-linecap="round"/>
<line x1="486.6" y1="41.8" x2="487.8" y2="44" stroke="#f0b838" stroke-width="1" stroke-linecap="round"/>
<line x1="486.6" y1="41.8" x2="484.5" y2="43.6" stroke="#f0b838" stroke-width="1" stroke-linecap="round"/>
<line x1="486.6" y1="41.8" x2="484.2" y2="40.3" stroke="#f0b838" stroke-width="1" stroke-linecap="round"/>
<circle cx="491.1" cy="35.5" r="1.4" fill="url(#sC)"/>
<circle cx="489.1" cy="38.9" r="1.8" fill="url(#sB)"/>
<circle cx="486.6" cy="41.8" r="1.4" fill="url(#sC)"/>
<circle cx="492.6" cy="33.7" r="0.7" fill="url(#sW)"/>
<circle cx="493.3" cy="36.4" r="0.7" fill="url(#sW)"/>
<circle cx="489.8" cy="33.3" r="0.7" fill="url(#sW)"/>
<circle cx="492" cy="40.4" r="0.7" fill="url(#sW)"/>
<circle cx="486.3" cy="38" r="0.7" fill="url(#sW)"/>
<circle cx="487.8" cy="44" r="0.7" fill="url(#sW)"/>
<circle cx="484.5" cy="43.6" r="0.7" fill="url(#sW)"/>
<circle cx="484.2" cy="40.3" r="0.7" fill="url(#sW)"/>
<line x1="489" y1="60.1" x2="487" y2="63.5" stroke="#f0b838" stroke-width="1" stroke-linecap="round"/>
<line x1="487" y1="63.5" x2="484.5" y2="66.4" stroke="#f0b838" stroke-width="1" stroke-linecap="round"/>
<line x1="489" y1="60.1" x2="490.5" y2="58.3" stroke="#f0b838" stroke-width="1" stroke-linecap="round"/>
<line x1="489" y1="60.1" x2="491.2" y2="61" stroke="#f0b838" stroke-width="1" stroke-linecap="round"/>
<line x1="489" y1="60.1" x2="487.7" y2="57.9" stroke="#f0b838" stroke-width="1" stroke-linecap="round"/>
<line x1="487" y1="63.5" x2="489.9" y2="65" stroke="#f0b838" stroke-width="1" stroke-linecap="round"/>
<line x1="487" y1="63.5" x2="484.2" y2="62.6" stroke="#f0b838" stroke-width="1" stroke-linecap="round"/>
<line x1="484.5" y1="66.4" x2="485.7" y2="68.6" stroke="#f0b838" stroke-width="1" stroke-linecap="round"/>
<line x1="484.5" y1="66.4" x2="482.4" y2="68.2" stroke="#f0b838" stroke-width="1" stroke-linecap="round"/>
<line x1="484.5" y1="66.4" x2="482.1" y2="64.9" stroke="#f0b838" stroke-width="1" stroke-linecap="round"/>
<circle cx="489" cy="60.1" r="1.4" fill="url(#sC)"/>
<circle cx="487" cy="63.5" r="1.8" fill="url(#sB)"/>
<circle cx="484.5" cy="66.4" r="1.4" fill="url(#sC)"/>
<circle cx="490.5" cy="58.3" r="0.7" fill="url(#sW)"/>
<circle cx="491.2" cy="61" r="0.7" fill="url(#sW)"/>
<circle cx="487.7" cy="57.9" r="0.7" fill="url(#sW)"/>
<circle cx="489.9" cy="65" r="0.7" fill="url(#sW)"/>
<circle cx="484.2" cy="62.6" r="0.7" fill="url(#sW)"/>
<circle cx="485.7" cy="68.6" r="0.7" fill="url(#sW)"/>
<circle cx="482.4" cy="68.2" r="0.7" fill="url(#sW)"/>
<circle cx="482.1" cy="64.9" r="0.7" fill="url(#sW)"/>
<line x1="484.6" y1="83.6" x2="482.6" y2="87" stroke="#f0b838" stroke-width="1" stroke-linecap="round"/>
<line x1="482.6" y1="87" x2="480.1" y2="89.9" stroke="#f0b838" stroke-width="1" stroke-linecap="round"/>
<line x1="484.6" y1="83.6" x2="486.1" y2="81.8" stroke="#f0b838" stroke-width="1" stroke-linecap="round"/>
<line x1="484.6" y1="83.6" x2="486.8" y2="84.5" stroke="#f0b838" stroke-width="1" stroke-linecap="round"/>
<line x1="484.6" y1="83.6" x2="483.3" y2="81.4" stroke="#f0b838" stroke-width="1" stroke-linecap="round"/>
<line x1="482.6" y1="87" x2="485.5" y2="88.5" stroke="#f0b838" stroke-width="1" stroke-linecap="round"/>
<line x1="482.6" y1="87" x2="479.8" y2="86.1" stroke="#f0b838" stroke-width="1" stroke-linecap="round"/>
<line x1="480.1" y1="89.9" x2="481.3" y2="92.1" stroke="#f0b838" stroke-width="1" stroke-linecap="round"/>
<line x1="480.1" y1="89.9" x2="478" y2="91.7" stroke="#f0b838" stroke-width="1" stroke-linecap="round"/>
<line x1="480.1" y1="89.9" x2="477.7" y2="88.4" stroke="#f0b838" stroke-width="1" stroke-linecap="round"/>
<circle cx="484.6" cy="83.6" r="1.4" fill="url(#sC)"/>
<circle cx="482.6" cy="87" r="1.8" fill="url(#sB)"/>
<circle cx="480.1" cy="89.9" r="1.4" fill="url(#sC)"/>
<circle cx="486.1" cy="81.8" r="0.7" fill="url(#sW)"/>
<circle cx="486.8" cy="84.5" r="0.7" fill="url(#sW)"/>
<circle cx="483.3" cy="81.4" r="0.7" fill="url(#sW)"/>
<circle cx="485.5" cy="88.5" r="0.7" fill="url(#sW)"/>
<circle cx="479.8" cy="86.1" r="0.7" fill="url(#sW)"/>
<circle cx="481.3" cy="92.1" r="0.7" fill="url(#sW)"/>
<circle cx="478" cy="91.7" r="0.7" fill="url(#sW)"/>
<circle cx="477.7" cy="88.4" r="0.7" fill="url(#sW)"/>
<line x1="484.2" y1="108.1" x2="482.2" y2="111.5" stroke="#f0b838" stroke-width="1" stroke-linecap="round"/>
<line x1="482.2" y1="111.5" x2="479.7" y2="114.4" stroke="#f0b838" stroke-width="1" stroke-linecap="round"/>
<line x1="484.2" y1="108.1" x2="485.7" y2="106.3" stroke="#f0b838" stroke-width="1" stroke-linecap="round"/>
<line x1="484.2" y1="108.1" x2="486.4" y2="109" stroke="#f0b838" stroke-width="1" stroke-linecap="round"/>
<line x1="484.2" y1="108.1" x2="482.9" y2="105.9" stroke="#f0b838" stroke-width="1" stroke-linecap="round"/>
<line x1="482.2" y1="111.5" x2="485.1" y2="113" stroke="#f0b838" stroke-width="1" stroke-linecap="round"/>
<line x1="482.2" y1="111.5" x2="479.4" y2="110.6" stroke="#f0b838" stroke-width="1" stroke-linecap="round"/>
<line x1="479.7" y1="114.4" x2="480.9" y2="116.6" stroke="#f0b838" stroke-width="1" stroke-linecap="round"/>
<line x1="479.7" y1="114.4" x2="477.6" y2="116.2" stroke="#f0b838" stroke-width="1" stroke-linecap="round"/>
<line x1="479.7" y1="114.4" x2="477.3" y2="112.9" stroke="#f0b838" stroke-width="1" stroke-linecap="round"/>
<circle cx="484.2" cy="108.1" r="1.4" fill="url(#sC)"/>
<circle cx="482.2" cy="111.5" r="1.8" fill="url(#sB)"/>
<circle cx="479.7" cy="114.4" r="1.4" fill="url(#sC)"/>
<circle cx="485.7" cy="106.3" r="0.7" fill="url(#sW)"/>
<circle cx="486.4" cy="109" r="0.7" fill="url(#sW)"/>
<circle cx="482.9" cy="105.9" r="0.7" fill="url(#sW)"/>
<circle cx="485.1" cy="113" r="0.7" fill="url(#sW)"/>
<circle cx="479.4" cy="110.6" r="0.7" fill="url(#sW)"/>
<circle cx="480.9" cy="116.6" r="0.7" fill="url(#sW)"/>
<circle cx="477.6" cy="116.2" r="0.7" fill="url(#sW)"/>
<circle cx="477.3" cy="112.9" r="0.7" fill="url(#sW)"/>
<circle cx="457.9" cy="18.2" r="3.1" fill="url(#sR)"/>
<circle cx="468.2" cy="14.2" r="3.1" fill="url(#sR)"/>
<circle cx="476.4" cy="14.5" r="3.1" fill="url(#sR)"/>
<circle cx="487.3" cy="15.5" r="3.1" fill="url(#sR)"/>
<circle cx="483.6" cy="20.9" r="3.1" fill="url(#sR)"/>
<circle cx="502.8" cy="17.8" r="3.1" fill="url(#sR)"/>
<circle cx="452.8" cy="40.4" r="3.1" fill="url(#sR)"/>
<circle cx="468.8" cy="42.2" r="3.1" fill="url(#sR)"/>
<circle cx="480.1" cy="43.6" r="3.1" fill="url(#sR)"/>
<circle cx="487.3" cy="43.3" r="3.1" fill="url(#sR)"/>
<circle cx="499.1" cy="40.9" r="3.1" fill="url(#sR)"/>
<circle cx="452.2" cy="65.5" r="3.1" fill="url(#sR)"/>
<circle cx="478.4" cy="68.7" r="3.1" fill="url(#sR)"/>
<circle cx="497" cy="65.5" r="3.1" fill="url(#sR)"/>
<circle cx="447.9" cy="88.4" r="3.1" fill="url(#sR)"/>
<circle cx="463.8" cy="89.5" r="3.1" fill="url(#sR)"/>
<circle cx="475.2" cy="91.2" r="3.1" fill="url(#sR)"/>
<circle cx="482.8" cy="91.2" r="3.1" fill="url(#sR)"/>
<circle cx="492.6" cy="89" r="3.1" fill="url(#sR)"/>
<circle cx="446.8" cy="113.5" r="3.1" fill="url(#sR)"/>
<circle cx="473" cy="116.8" r="3.1" fill="url(#sR)"/>
<circle cx="492.2" cy="113.5" r="3.1" fill="url(#sR)"/>
<circle cx="444.1" cy="136.4" r="3.1" fill="url(#sR)"/>
<circle cx="457.7" cy="136.4" r="3.1" fill="url(#sR)"/>
<circle cx="468.6" cy="137.5" r="3.1" fill="url(#sR)"/>
<circle cx="477.4" cy="137.5" r="3.1" fill="url(#sR)"/>
<circle cx="487.2" cy="136" r="3.1" fill="url(#sR)"/>
<circle cx="522.2" cy="69.1" r="6.8" fill="url(#sP)"/>
<text x="530.3" y="73.7" font-family="Liberation Serif, serif" font-weight="bold" font-size="13.5" fill="#111">Pb</text>
<circle cx="522.2" cy="84.9" r="6.8" fill="url(#sR)"/>
<text x="530.3" y="89.5" font-family="Liberation Serif, serif" font-weight="bold" font-size="13.5" fill="#111">I</text>
<circle cx="522.2" cy="100.7" r="6.8" fill="url(#sB)"/>
<text x="530.3" y="105.3" font-family="Liberation Serif, serif" font-weight="bold" font-size="13.5" fill="#111">N</text>
<circle cx="522.2" cy="116.5" r="6.8" fill="url(#sW)"/>
<text x="530.3" y="121.1" font-family="Liberation Serif, serif" font-weight="bold" font-size="13.5" fill="#111">H</text>
<circle cx="522.2" cy="132.3" r="6.8" fill="url(#sC)"/>
<text x="530.3" y="136.9" font-family="Liberation Serif, serif" font-weight="bold" font-size="13.5" fill="#111">C</text>
</svg></body></html>
